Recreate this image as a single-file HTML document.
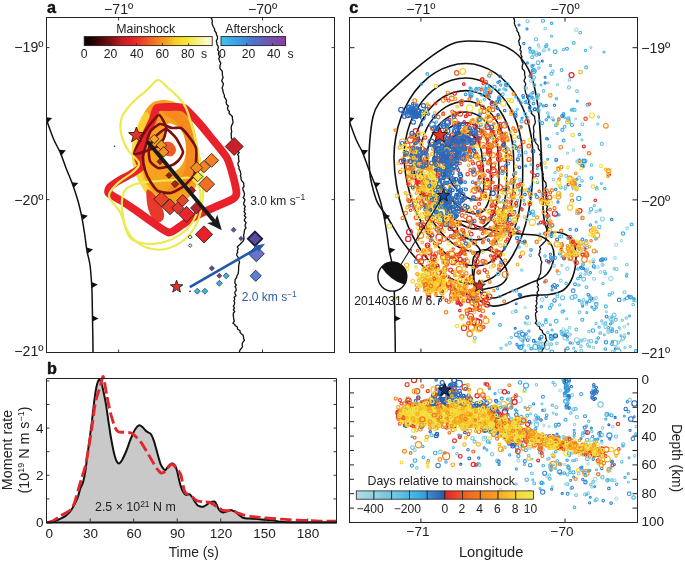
<!DOCTYPE html>
<html lang="en"><head><meta charset="utf-8"><title>Rupture process and aftershocks</title>
<style>html,body{margin:0;padding:0;background:#fff}body{width:685px;height:561px;overflow:hidden}svg{display:block}text{font-family:"Liberation Sans",Arial,Helvetica,sans-serif}</style></head><body>
<svg width="685" height="561" viewBox="0 0 685 561">
<defs>
<clipPath id="ca"><rect x="46.5" y="17.5" width="288" height="335"/></clipPath>
<clipPath id="cb"><rect x="46.5" y="374.5" width="290" height="149"/></clipPath>
<clipPath id="cc"><rect x="349.5" y="17.5" width="288" height="335"/></clipPath>
<clipPath id="cd"><rect x="349.5" y="378.5" width="288" height="144"/></clipPath>
<linearGradient id="hot" x1="0" x2="1" y1="0" y2="0"><stop offset="0" stop-color="#050000"/><stop offset="0.08" stop-color="#2a0303"/><stop offset="0.2" stop-color="#7a1012"/><stop offset="0.3" stop-color="#c81c22"/><stop offset="0.38" stop-color="#e5222a"/><stop offset="0.47" stop-color="#ee4a26"/><stop offset="0.56" stop-color="#f47b20"/><stop offset="0.64" stop-color="#f7a11f"/><stop offset="0.72" stop-color="#f5d22c"/><stop offset="0.8" stop-color="#f4e832"/><stop offset="0.88" stop-color="#f6f07a"/><stop offset="1" stop-color="#fffde0"/></linearGradient>
<linearGradient id="cool" x1="0" x2="1" y1="0" y2="0"><stop offset="0" stop-color="#3cc4f2"/><stop offset="0.25" stop-color="#3aa0e6"/><stop offset="0.5" stop-color="#4f74cc"/><stop offset="0.75" stop-color="#6f55b4"/><stop offset="1" stop-color="#8e3f9d"/></linearGradient>
</defs>
<rect x="0" y="0" width="685" height="561" fill="#fff"/>
<g id="panel-a">
<g clip-path="url(#ca)">
<path d="M152 103C155.7 100.5 160.5 99.8 165 100C169.5 100.2 175.2 102 179 104C182.8 106 185.5 108 188 112C190.5 116 192.3 122 194 128C195.7 134 197.2 141.3 198 148C198.8 154.7 199.3 161.7 199 168C198.7 174.3 197.8 181 196 186C194.2 191 191.5 195.2 188 198C184.5 200.8 179.7 202.7 175 203C170.3 203.3 164.5 202.2 160 200C155.5 197.8 151.2 194.2 148 190C144.8 185.8 142.5 180 141 175C139.5 170 139.8 164.5 139 160C138.2 155.5 136.2 153 136 148C135.8 143 136.8 135.5 138 130C139.2 124.5 140.7 119.5 143 115C145.3 110.5 148.3 105.5 152 103Z" fill="#f7a21e"/>
<path d="M139 122C141.2 117.3 144.2 112.3 146 112C147.8 111.7 150.3 115.3 150 120C149.7 124.7 145.5 133.3 144 140C142.5 146.7 140.7 153 141 160C141.3 167 143.2 175.7 146 182C148.8 188.3 157.3 195.3 158 198C158.7 200.7 153.3 201 150 198C146.7 195 141 186.3 138 180C135 173.7 132.8 166.7 132 160C131.2 153.3 131.8 146.3 133 140C134.2 133.7 136.8 126.7 139 122Z" fill="#f8d532" opacity="0.9"/>
<path d="M160 106C162 105 171.3 105.7 176 108C180.7 110.3 185 114.7 188 120C191 125.3 192.7 133 194 140C195.3 147 196.7 155 196 162C195.3 169 193.3 176.7 190 182C186.7 187.3 179.7 192.7 176 194C172.3 195.3 167 193 168 190C169 187 179 181.3 182 176C185 170.7 185.7 164.3 186 158C186.3 151.7 185.7 144 184 138C182.3 132 179.3 126 176 122C172.7 118 166.7 116.7 164 114C161.3 111.3 158 107 160 106Z" fill="#f58a1f"/>
<path d="M168 124C170.3 122.5 175.3 125 178 127C180.7 129 182.7 132.2 184 136C185.3 139.8 186.2 145.5 186 150C185.8 154.5 184.8 159.5 183 163C181.2 166.5 177.7 170.2 175 171C172.3 171.8 169 170.8 167 168C165 165.2 163.5 159.3 163 154C162.5 148.7 163.2 141 164 136C164.8 131 165.7 125.5 168 124Z" fill="#fffdf6"/>
<path d="M164 143C165.3 141.2 170 141.8 172 143C174 144.2 176 147.8 176 150C176 152.2 174 155.3 172 156C170 156.7 165.3 156.2 164 154C162.7 151.8 162.7 144.8 164 143Z" fill="#ef5a2a"/>
<path d="M147 190C148.2 188.5 151.8 191.8 154 194C156.2 196.2 158.3 199.7 160 203C161.7 206.3 163.7 211 164 214C164.3 217 163.5 219.7 162 221C160.5 222.3 157 223.2 155 222C153 220.8 151.3 217.2 150 214C148.7 210.8 147.5 207 147 203C146.5 199 145.8 191.5 147 190Z" fill="#e8392b"/>
<path d="M157 108C159 106.6 166.8 107 170 107C173.2 107 180.6 106.1 184 108C187.4 109.9 195.6 119.3 199 123C202.4 126.7 209.7 135.9 213 140C216.3 144.1 224.7 153.8 227 158C229.3 162.2 231.9 171.9 233 176C234.1 180.1 236.5 190.3 236.5 193C236.5 195.7 235.5 197.4 233 199C230.5 200.6 219.3 205 215 207C210.7 209 199.8 213.9 196 216C192.2 218.1 185.2 223.1 182 225C178.8 226.9 172.5 232.8 169 232.5C165.5 232.2 155.8 224.6 152 222C148.2 219.4 139.7 213.1 136 210.5C132.3 207.9 123.2 202 120 200C116.8 198 109.7 194.5 108.5 193C107.3 191.5 108.8 188.5 110 187C111.2 185.5 116.5 182 119 180.5C121.5 179 128.4 175.6 131 174C133.6 172.4 140.2 168.9 141 167C141.8 165.1 138 160.2 138 158C138 155.8 139.9 151 141 148C142.1 145 145.6 135.4 147 132C148.4 128.6 151.8 121.8 153 119C154.2 116.2 155 109.4 157 108Z" fill="none" stroke="#e8212b" stroke-width="7.8" stroke-linejoin="round"/>
<path d="M158 80C161.5 79.7 164.7 85.2 168 88C171.3 90.8 175 93.7 178 97C181 100.3 183.5 102.5 186 108C188.5 113.5 190.8 122.2 193 130C195.2 137.8 197.3 146.7 199 155C200.7 163.3 202.5 171.7 203 180C203.5 188.3 203.2 197.5 202 205C200.8 212.5 199 219.2 196 225C193 230.8 189 236 184 240C179 244 172 247.7 166 249C160 250.3 153.5 249.7 148 248C142.5 246.3 136.7 242.3 133 239C129.3 235.7 128.2 232.5 126 228C123.8 223.5 122.8 217.3 120 212C117.2 206.7 109.3 200.8 109 196C108.7 191.2 114 187 118 183C122 179 129.5 175.3 133 172C136.5 168.7 139.8 166.7 139 163C138.2 159.3 131 155 128 150C125 145 122 138.5 121 133C120 127.5 120 122.2 122 117C124 111.8 128.8 106.5 133 102C137.2 97.5 142.8 93.7 147 90C151.2 86.3 154.5 80.3 158 80Z" fill="none" stroke="#ecea4e" stroke-width="2.2"/>
<path d="M158 181C152.3 181.5 145.3 181.7 140 183C134.7 184.3 129 186.2 126 189C123 191.8 122.5 195.5 122 200C121.5 204.5 122.2 210.7 123 216C123.8 221.3 125.3 228 127 232C128.7 236 129.2 238 133 240C136.8 242 143.8 244 150 244C156.2 244 163.7 242.7 170 240C176.3 237.3 183.3 233 188 228C192.7 223 196 216.3 198 210C200 203.7 201.3 195.3 200 190C198.7 184.7 194.3 179.7 190 178C185.7 176.3 179.3 179.5 174 180C168.7 180.5 163.7 180.5 158 181Z" fill="none" stroke="#ecea4e" stroke-width="2.2"/>
<path d="M134 154C133.4 152.9 138.6 142.7 140 140C141.4 137.3 146.1 129.5 148 127C149.9 124.5 157.2 115 159 115C160.8 115 165.5 124.7 166 127C166.5 129.3 164.8 136.1 164 138C163.2 139.9 159.8 144.7 158 146C156.2 147.3 148.4 150.2 146 151C143.6 151.8 134.6 155.1 134 154Z" fill="none" stroke="#7a0e10" stroke-width="2.6" stroke-linejoin="round"/>
<path d="M146 145C146.7 142.5 148.6 134.1 150 132C151.4 129.9 157.8 124.4 160 124C162.2 123.6 169.9 127.6 172 128C174.1 128.4 179.2 127 181 128C182.8 129 188.5 136 190 138C191.5 140 195.4 145.6 196 148C196.6 150.4 196.2 159.3 196 162C195.8 164.7 195.2 172.6 194 175C192.8 177.4 186.3 184.2 184 186C181.7 187.8 173.6 192.5 171 193C168.4 193.5 160.1 192.2 158 191C155.9 189.8 151.3 183.1 150 181C148.7 178.9 145.7 172.4 145 170C144.3 167.6 142.9 159.5 143 157C143.1 154.5 145.3 147.5 146 145Z" fill="none" stroke="#7a0e10" stroke-width="2.6" stroke-linejoin="round"/>
<path d="M149 148C149.6 145.5 154.3 137.9 156 136C157.7 134.1 164 128.8 166 129C168 129.2 174.3 135.7 176 138C177.7 140.3 182.8 149.7 183 152C183.2 154.3 179.3 159.6 178 161C176.7 162.4 172 165.3 170 166C168 166.7 160 168.5 158 168C156 167.5 150.9 163 150 161C149.1 159 148.4 150.5 149 148Z" fill="none" stroke="#7a0e10" stroke-width="2.6" stroke-linejoin="round"/>
<path d="M211 17.5L211.9 19.1L212.3 21.2L212 23.1L212.6 25L213.3 26.7L214.6 29L214.6 30.6L216.3 33L216.4 34.7L217.5 36.6L217.5 38.8L216.3 40.8L216.9 43L217 44.6L218.2 46.3L218.3 47.9L217.6 49.8L219 51.7L218.4 53.5L218.8 55L219.7 57L218.7 58.6L219.4 60.5L220 61.9L220.8 63.4L220 65.5L219.9 67L220 68.8L221.8 70.4L222.4 71.9L222.3 73.8L222.5 75.4L223.1 77.5L222.4 79.1L221.7 80.9L223 82.9L223.4 84.3L222.7 86.3L222 88L222.8 89.6L223 91.7L223.5 93.2L224.5 95.4L224.3 96.9L225.7 98.9L226.6 100.7L226.1 102.3L226.7 104.5L228.4 106L227.4 107.9L228 110L229.4 111.5L229 113.2L230.5 114.8L232.4 116.5L232.3 118.1L232.6 119.4L233 121.6L232.9 123.3L231.9 124.8L231.3 126.7L231.2 128L231.4 129.8L231.7 131.7L231.1 133.8L231.4 135.9L231.3 138.2L232.5 139.8L232.7 141.7L233.9 143.3L235.8 145.5L235.9 147L236 148.6L237.4 150.6L239.3 152.4L237.6 154.6L238.6 155.9L238.6 157.5L238.6 159.8L239.2 161.4L238 162.9L238.1 165.1L239.1 167L238.9 168.7L240.2 171.1L240.5 172.9L241 174.5L240.3 176L241.1 177.4L241 179.2L242 181.1L243.6 182.8L243.8 184.9L244.1 186.3L242.8 188L243 189.8L243.9 192.1L244.5 193.7L244.2 195.8L243.1 197.5L244.8 199.5L244.6 201.1L243.6 203.2L244 205L245.3 206.5L244.3 208.6L245 209.9L244 211.6L245.6 213.8L244.2 215.6L245.9 217.3L244.7 219L244.3 220.5L246.1 222.7L245.2 224.7L245.1 226.4L246 227.8L244.6 229.7L244.3 231.6L244.1 233.3L243.6 235.4L243.8 236.9L244 239L243.4 240.8L242.5 241.8L241.4 242.8L240.1 244.2L238.1 245.9L237.3 247L238.3 248.8L237.4 250.5L237.7 252.3L236.7 253.9L236.8 255.5L238.3 257.7L238.4 260L239.6 262L239 264L238.7 266.1L238.6 268L238.6 270.3L238.3 272.2L238.2 273.7L236.8 276L236.7 277.5L235.2 279.4L235 281.1L234.9 283.1L236.3 285L235 286.6L235.9 288L236.3 290.3L234.8 292.1L235 293.6L236 295.7L234.1 297.3L234.7 299L233.9 300.9L234.7 302.5L234.4 304.5L233.3 306.1L234.5 307.9L233.4 309.9L234.8 311.6L233.4 312.9L233.2 315.2L233.5 316.8L233.7 319.2L234.4 320.9L232.9 323.3L234.9 324.5L235 325.4L237.4 327L237.5 329L240.1 330.7L240 332.2L241.1 333.7L242.9 334.9L243.6 337.1L243.5 338.4L244.5 340.3L243 341.9L242.3 343.6L242.2 345.3L242.5 346.9L241.1 348.6L239.9 350.2L239.3 352.3" fill="none" stroke="#111" stroke-width="1.3" stroke-linejoin="round"/>
<path d="M154.2 134.4L158.8 139L154.2 143.6L149.6 139Z" fill="#f7a823" stroke="#1a1a1a" stroke-width="0.8"/>
<path d="M161.4 140L166.6 145.2L161.4 150.4L156.2 145.2Z" fill="#f7941d" stroke="#1a1a1a" stroke-width="0.8"/>
<path d="M163.6 146.7L168.8 151.9L163.6 157.1L158.4 151.9Z" fill="#f7941d" stroke="#1a1a1a" stroke-width="0.8"/>
<path d="M160 158.6L163 161.6L160 164.6L157 161.6Z" fill="#a3191c" stroke="#1a1a1a" stroke-width="0.8"/>
<path d="M169 172.4L172 175.4L169 178.4L166 175.4Z" fill="#a3191c" stroke="#1a1a1a" stroke-width="0.8"/>
<path d="M175 180.4L178.6 184L175 187.6L171.4 184Z" fill="#b01c20" stroke="#1a1a1a" stroke-width="0.8"/>
<path d="M191.5 186.3L195.7 190.5L191.5 194.7L187.3 190.5Z" fill="#b01c20" stroke="#1a1a1a" stroke-width="0.8"/>
<path d="M211.6 153.3L218.6 160.3L211.6 167.3L204.6 160.3Z" fill="#f47f20" stroke="#1a1a1a" stroke-width="0.8"/>
<path d="M204 160.4L210.2 166.6L204 172.8L197.8 166.6Z" fill="#f58220" stroke="#1a1a1a" stroke-width="0.8"/>
<path d="M196.6 161.8L202.6 167.8L196.6 173.8L190.6 167.8Z" fill="#f58a1f" stroke="#1a1a1a" stroke-width="0.8"/>
<path d="M206.6 176.2L214.6 184.2L206.6 192.2L198.6 184.2Z" fill="#f26f21" stroke="#1a1a1a" stroke-width="0.8"/>
<path d="M197.8 171.6L202.8 176.6L197.8 181.6L192.8 176.6Z" fill="#f7e03c" stroke="#1a1a1a" stroke-width="0.8"/>
<path d="M161.4 191.7L168.9 199.2L161.4 206.7L153.9 199.2Z" fill="#e8432a" stroke="#1a1a1a" stroke-width="0.8"/>
<path d="M170 198.8L178 206.8L170 214.8L162 206.8Z" fill="#e63a28" stroke="#1a1a1a" stroke-width="0.8"/>
<path d="M182.7 194.5L188.7 200.5L182.7 206.5L176.7 200.5Z" fill="#e8432a" stroke="#1a1a1a" stroke-width="0.8"/>
<path d="M177.7 202L183.7 208L177.7 214L171.7 208Z" fill="#e63628" stroke="#1a1a1a" stroke-width="0.8"/>
<path d="M186.5 206.3L194.5 214.3L186.5 222.3L178.5 214.3Z" fill="#e6252a" stroke="#1a1a1a" stroke-width="0.8"/>
<path d="M196.5 202L202.5 208L196.5 214L190.5 208Z" fill="#b5202a" stroke="#1a1a1a" stroke-width="0.8"/>
<path d="M204 225.8L212.6 234.4L204 243L195.4 234.4Z" fill="#e8202a" stroke="#1a1a1a" stroke-width="0.8"/>
<path d="M234.2 137.5L243.2 146.5L234.2 155.5L225.2 146.5Z" fill="#c8202a" stroke="#1a1a1a" stroke-width="0.8"/>
<path d="M190.2 235L192.2 237L190.2 239L188.2 237Z" fill="#fff" stroke="#222" stroke-width="0.9"/>
<path d="M190.2 243.7L192 245.5L190.2 247.3L188.4 245.5Z" fill="#fff" stroke="#222" stroke-width="0.9"/>
<path d="M255 231.6L262.2 238.8L255 246L247.8 238.8Z" fill="#5a4a9c" stroke="#1c1c3a" stroke-width="1.8"/>
<path d="M256.3 245.8L264.3 253.8L256.3 261.8L248.3 253.8Z" fill="#6a72c8" stroke="#1c1c3a" stroke-width="0.8"/>
<path d="M255.7 270.2L261.3 275.8L255.7 281.4L250.1 275.8Z" fill="#5a80d0" stroke="#1c1c3a" stroke-width="0.8"/>
<path d="M233.6 227.3L236.1 229.8L233.6 232.3L231.1 229.8Z" fill="#5a5aa8" stroke="#1c1c3a" stroke-width="0.6"/>
<path d="M241 236.3L243.2 238.5L241 240.7L238.8 238.5Z" fill="#6a4a90" stroke="#1c1c3a" stroke-width="0.6"/>
<path d="M211.8 265.7L214.4 268.3L211.8 270.9L209.2 268.3Z" fill="#6a4a90" stroke="#1c1c3a" stroke-width="0.6"/>
<path d="M219.3 273.3L221.8 275.8L219.3 278.3L216.8 275.8Z" fill="#6a4a90" stroke="#1c1c3a" stroke-width="0.6"/>
<path d="M226.2 272.8L229.2 275.8L226.2 278.8L223.2 275.8Z" fill="#3ab0d8" stroke="#1c1c3a" stroke-width="0.6"/>
<path d="M219.3 280.3L222.3 283.3L219.3 286.3L216.3 283.3Z" fill="#3ab0d8" stroke="#1c1c3a" stroke-width="0.6"/>
<path d="M197.3 288.2L200.3 291.2L197.3 294.2L194.3 291.2Z" fill="#3ab8d8" stroke="#1c1c3a" stroke-width="0.6"/>
<path d="M204.9 288.2L207.9 291.2L204.9 294.2L201.9 291.2Z" fill="#3ab8d8" stroke="#1c1c3a" stroke-width="0.6"/>
<circle cx="190" cy="291.4" r="0.8" fill="#111"/><circle cx="114.5" cy="146.3" r="0.7" fill="#111"/>
</g>
<g clip-path="url(#ca)"><path d="M46.5 120C47.8 123.3 51.7 134.6 54 140C56.3 145.4 58.3 147.9 60.3 152.6C62.3 157.3 63.9 162.6 66 168C68.1 173.4 70.9 179.7 72.9 185.2C74.9 190.7 76.5 195.8 78 201C79.5 206.2 80.6 211.3 81.7 216.6C82.8 221.9 83.6 227.3 84.5 233C85.4 238.7 86 245.2 86.9 250.5C87.8 255.8 89.2 259.2 90 265C90.8 270.8 91.3 279.2 91.7 285C92.1 290.8 92.1 294.5 92.2 300C92.3 305.5 92.4 312.2 92.5 318C92.6 323.8 92.7 329.3 92.8 335C92.9 340.7 93 349.4 93 352.3" fill="none" stroke="#111" stroke-width="1.5"/><path d="M45.4 117.2L47.6 122.8L52.1 117.9Z" fill="#111"/><path d="M59.1 149.8L61.5 155.4L65.8 150.2Z" fill="#111"/><path d="M71.7 182.2L73.7 187.8L78.3 182.9Z" fill="#111"/><path d="M81.4 214.1L82.6 219.9L87.9 215.8Z" fill="#111"/><path d="M86.7 247.5L87.7 253.5L93.1 249.5Z" fill="#111"/><path d="M91.6 282L92 288L97.8 284.6Z" fill="#111"/><path d="M92.4 315.5L92.6 321.5L98.5 318.4Z" fill="#111"/></g>
<path d="M147.5 141.5L214.6 221.7" stroke="#1a1a1a" stroke-width="3.8" fill="none"/><path d="M221.8 230.3L207.1 223L214.6 221.7L217.2 214.6Z" fill="#1a1a1a"/>
<path d="M189.8 287.1L257.7 248" stroke="#1f5aa8" stroke-width="2.6" fill="none"/><path d="M265.1 243.8L258.2 251.9L257.7 248L254.6 245.7Z" fill="#1f5aa8"/>
<path d="M136.4 127L138.4 132.4L144.2 132.7L139.7 136.3L141.2 141.8L136.4 138.6L131.6 141.8L133.1 136.3L128.6 132.7L134.4 132.4Z" fill="#e5332b" stroke="#3a0a0a" stroke-width="0.9"/>
<path d="M176.6 280.2L178.2 284.6L182.9 284.8L179.2 287.7L180.5 292.1L176.6 289.6L172.7 292.1L174 287.7L170.3 284.8L175 284.6Z" fill="#e0302a" stroke="#222" stroke-width="0.9"/>
<rect x="84.2" y="36.6" width="128" height="9" fill="url(#hot)" stroke="#222" stroke-width="0.9"/>
<path d="M110.3 45.6v-2.4" stroke="#222" stroke-width="0.8"/>
<path d="M136.4 45.6v-2.4" stroke="#222" stroke-width="0.8"/>
<path d="M162.5 45.6v-2.4" stroke="#222" stroke-width="0.8"/>
<path d="M188.6 45.6v-2.4" stroke="#222" stroke-width="0.8"/>
<rect x="221" y="36.6" width="64.6" height="9" fill="url(#cool)" stroke="#222" stroke-width="0.9"/>
<path d="M246.8 45.6v-2.4" stroke="#222" stroke-width="0.8"/>
<path d="M272.7 45.6v-2.4" stroke="#222" stroke-width="0.8"/>
<text x="145.7" y="32.7" font-size="12.3" text-anchor="middle" fill="#222" >Mainshock</text>
<text x="254.3" y="32.7" font-size="12.3" text-anchor="middle" fill="#222" >Aftershock</text>
<text x="84.2" y="57.5" font-size="12.2" text-anchor="middle" fill="#222" >0</text>
<text x="110.6" y="57.5" font-size="12.2" text-anchor="middle" fill="#222" >20</text>
<text x="136.8" y="57.5" font-size="12.2" text-anchor="middle" fill="#222" >40</text>
<text x="162.3" y="57.5" font-size="12.2" text-anchor="middle" fill="#222" >60</text>
<text x="187.8" y="57.5" font-size="12.2" text-anchor="middle" fill="#222" >80</text>
<text x="204" y="57.5" font-size="12.2" text-anchor="middle" fill="#222" >s</text>
<text x="222.3" y="57.5" font-size="12.2" text-anchor="middle" fill="#222" >0</text>
<text x="248.6" y="57.5" font-size="12.2" text-anchor="middle" fill="#222" >20</text>
<text x="273.8" y="57.5" font-size="12.2" text-anchor="middle" fill="#222" >40</text>
<text x="290.6" y="57.5" font-size="12.2" text-anchor="middle" fill="#222" >s</text>
<text x="250.3" y="204.8" font-size="12" fill="#222">3.0 km s<tspan dy="-4.5" font-size="8.5">−1</tspan></text>
<text x="241.8" y="301" font-size="12" fill="#2a5caa">2.0 km s<tspan dy="-4.5" font-size="8.5">−1</tspan></text>
<rect x="46.5" y="17.5" width="288" height="335" fill="none" stroke="#222" stroke-width="1"/>
<path d="M118.6 17.5v3M118.6 352.5v-3M262.5 17.5v3M262.5 352.5v-3M46.5 47.6h3M334.5 47.6h-3M46.5 199.6h3M334.5 199.6h-3" stroke="#222" stroke-width="0.9" fill="none"/>
<text x="47" y="13" font-size="16.2" text-anchor="start" fill="#111" font-weight="bold" stroke="#111" stroke-width="0.45">a</text>
<text x="118.6" y="13.5" font-size="14.1" text-anchor="middle" fill="#222" >−71º</text>
<text x="262.5" y="13.5" font-size="14.1" text-anchor="middle" fill="#222" >−70º</text>
<text x="43.4" y="52.2" font-size="14.1" text-anchor="end" fill="#222" >−19º</text>
<text x="43.4" y="204.6" font-size="14.1" text-anchor="end" fill="#222" >−20º</text>
<text x="43.4" y="356.2" font-size="14.1" text-anchor="end" fill="#222" >−21º</text>
</g>
<g id="panel-b">
<g clip-path="url(#cb)">
<path d="M46.7 522.5C47.3 522.5 50.1 522.7 51.1 522.5C52 522.3 52.8 521.8 54 521.3C55.1 520.8 58.2 519.7 59.8 519C61.3 518.3 63.9 517.1 65.3 516.1C66.6 515.2 68.9 513 69.9 511.9C70.9 510.7 71.8 509.1 72.8 507.4C73.8 505.7 76.1 501.4 77.2 498.9C78.2 496.4 79.6 490.7 80.3 488.5C81.1 486.3 82.3 484.7 83 482.4C83.6 480.1 84.9 474 85.4 471.1C85.9 468.1 86.2 464.6 86.7 460.4C87.3 456.3 88.8 444.8 89.5 439.9C90.1 435 91.1 427.9 91.7 423.4C92.2 418.8 93.2 409.8 93.7 405.7C94.2 401.6 94.9 395.8 95.4 392.7C95.9 389.6 96.9 384.5 97.5 382.8C98 381.1 98.7 379.8 99.2 379.7C99.7 379.6 100.5 380.7 101.1 382.1C101.6 383.5 102.6 387.2 103.2 390.3C103.9 393.5 105.4 401 106.2 405.7C106.9 410.4 108.3 420.7 109.1 425.7C109.8 430.8 111.1 439 112 443.4C112.8 447.8 114.7 456.1 115.6 458.8C116.5 461.5 117.8 463.3 118.6 463.5C119.5 463.7 121.1 461.7 122.1 460C123.1 458.2 125.3 453.4 126.5 450.5C127.6 447.7 129.6 441.6 130.8 438.7C132 435.9 134 431.1 135.2 429.3C136.3 427.5 138.2 425.6 139.2 425.3C140.2 425 141.4 426.1 142.4 426.9C143.4 427.8 145.6 430.7 146.8 431.6C147.9 432.6 149.8 432.7 150.8 434C151.8 435.3 153.1 438.4 154 441.1C154.9 443.8 156.7 450.9 157.6 454.1C158.5 457.2 160 462.7 160.8 464.7C161.6 466.6 162.8 468 163.4 468.7C164.1 469.4 164.9 470.5 165.6 470.1C166.3 469.7 167.6 466.7 168.5 465.9C169.4 465 171.1 463.6 172 463.5C172.8 463.4 174.2 464.4 174.9 465.4C175.6 466.4 176.5 468.9 177.1 471.1C177.7 473.2 178.7 478.7 179.4 481.2C180 483.7 181.3 488 182 489.7C182.7 491.4 183.8 493 184.4 493.7C185.1 494.4 185.9 494.8 186.6 494.9C187.3 495 188.8 493.8 189.5 494.2C190.3 494.6 191.4 496.3 192.4 497.7C193.4 499.1 196 503.6 197.1 504.8C198.1 506 199.6 506.2 200.4 506.5C201.2 506.7 202.4 506.9 203.3 506.7C204.2 506.4 206.1 505.1 206.9 504.6C207.8 504 208.6 502.8 209.7 502.4C210.7 502.1 213.8 501.4 214.8 501.7C215.7 502.1 216.3 504.1 216.8 505C217.3 506 218 508 218.5 508.8C219 509.7 220 510.9 220.7 511.4C221.4 511.9 222.7 512.4 223.6 512.4C224.5 512.3 226.3 511.5 227.2 511.2C228.2 510.9 230 510 230.9 510C231.7 510 233.1 510.9 233.8 511.2C234.4 511.5 235.3 511.8 236.1 512.4C236.8 512.9 238.7 514.7 239.6 515.4C240.4 516.1 241.5 517.1 242.4 517.5C243.4 518 245.5 518.3 246.8 518.5C248.1 518.6 250.5 518.6 252.5 518.7C254.4 518.8 258.6 519.2 261.3 519.4C264 519.6 270 519.8 272.5 520.1C275 520.5 277.4 521.5 280.1 521.8C282.9 522.1 285.7 522.4 293.2 522.5C300.7 522.6 330.9 522.5 336.7 522.5L336.7 522.5L46.7 522.5Z" fill="#c9c9c9"/>
<path d="M46.7 522.5C47.3 522.5 50.1 522.7 51.1 522.5C52 522.3 52.8 521.8 54 521.3C55.1 520.8 58.2 519.7 59.8 519C61.3 518.3 63.9 517.1 65.3 516.1C66.6 515.2 68.9 513 69.9 511.9C70.9 510.7 71.8 509.1 72.8 507.4C73.8 505.7 76.1 501.4 77.2 498.9C78.2 496.4 79.6 490.7 80.3 488.5C81.1 486.3 82.3 484.7 83 482.4C83.6 480.1 84.9 474 85.4 471.1C85.9 468.1 86.2 464.6 86.7 460.4C87.3 456.3 88.8 444.8 89.5 439.9C90.1 435 91.1 427.9 91.7 423.4C92.2 418.8 93.2 409.8 93.7 405.7C94.2 401.6 94.9 395.8 95.4 392.7C95.9 389.6 96.9 384.5 97.5 382.8C98 381.1 98.7 379.8 99.2 379.7C99.7 379.6 100.5 380.7 101.1 382.1C101.6 383.5 102.6 387.2 103.2 390.3C103.9 393.5 105.4 401 106.2 405.7C106.9 410.4 108.3 420.7 109.1 425.7C109.8 430.8 111.1 439 112 443.4C112.8 447.8 114.7 456.1 115.6 458.8C116.5 461.5 117.8 463.3 118.6 463.5C119.5 463.7 121.1 461.7 122.1 460C123.1 458.2 125.3 453.4 126.5 450.5C127.6 447.7 129.6 441.6 130.8 438.7C132 435.9 134 431.1 135.2 429.3C136.3 427.5 138.2 425.6 139.2 425.3C140.2 425 141.4 426.1 142.4 426.9C143.4 427.8 145.6 430.7 146.8 431.6C147.9 432.6 149.8 432.7 150.8 434C151.8 435.3 153.1 438.4 154 441.1C154.9 443.8 156.7 450.9 157.6 454.1C158.5 457.2 160 462.7 160.8 464.7C161.6 466.6 162.8 468 163.4 468.7C164.1 469.4 164.9 470.5 165.6 470.1C166.3 469.7 167.6 466.7 168.5 465.9C169.4 465 171.1 463.6 172 463.5C172.8 463.4 174.2 464.4 174.9 465.4C175.6 466.4 176.5 468.9 177.1 471.1C177.7 473.2 178.7 478.7 179.4 481.2C180 483.7 181.3 488 182 489.7C182.7 491.4 183.8 493 184.4 493.7C185.1 494.4 185.9 494.8 186.6 494.9C187.3 495 188.8 493.8 189.5 494.2C190.3 494.6 191.4 496.3 192.4 497.7C193.4 499.1 196 503.6 197.1 504.8C198.1 506 199.6 506.2 200.4 506.5C201.2 506.7 202.4 506.9 203.3 506.7C204.2 506.4 206.1 505.1 206.9 504.6C207.8 504 208.6 502.8 209.7 502.4C210.7 502.1 213.8 501.4 214.8 501.7C215.7 502.1 216.3 504.1 216.8 505C217.3 506 218 508 218.5 508.8C219 509.7 220 510.9 220.7 511.4C221.4 511.9 222.7 512.4 223.6 512.4C224.5 512.3 226.3 511.5 227.2 511.2C228.2 510.9 230 510 230.9 510C231.7 510 233.1 510.9 233.8 511.2C234.4 511.5 235.3 511.8 236.1 512.4C236.8 512.9 238.7 514.7 239.6 515.4C240.4 516.1 241.5 517.1 242.4 517.5C243.4 518 245.5 518.3 246.8 518.5C248.1 518.6 250.5 518.6 252.5 518.7C254.4 518.8 258.6 519.2 261.3 519.4C264 519.6 270 519.8 272.5 520.1C275 520.5 277.4 521.5 280.1 521.8C282.9 522.1 285.7 522.4 293.2 522.5C300.7 522.6 330.9 522.5 336.7 522.5" fill="none" stroke="#111" stroke-width="2" stroke-linejoin="round"/>
<path d="M47.4 522.5C48.1 522.3 50.8 521.9 52.5 521.1C54.2 520.2 58.6 517.2 60.3 516.1C62.1 515.1 64 514 65.5 513.1C67.1 512.1 70.4 510.4 71.6 508.8C72.9 507.2 74.1 503.6 75 501.3C75.8 498.9 77 494.1 77.9 491.1C78.7 488.1 80.5 482.2 81.5 478.8C82.5 475.5 84.4 470.1 85.4 465.9C86.4 461.6 87.9 452 88.8 447C89.6 442 90.8 434.5 91.7 428.6C92.5 422.7 94.5 407.4 95.4 402.6C96.3 397.8 97.5 395 98.2 392.7C98.9 390.4 99.9 387.8 100.5 385.6C101.1 383.4 102.4 376.7 103 376.4C103.5 376.1 104.2 380.8 104.7 383.3C105.2 385.7 106.1 391.9 106.7 395.1C107.3 398.2 108.4 403.8 109.1 406.9C109.7 409.9 111 415 111.8 417.7C112.6 420.4 114 425.1 114.8 426.9C115.7 428.8 116.9 430.9 118 431.6C119.2 432.4 121.9 432.2 123.5 432.3C125.2 432.5 129.3 432.5 130.7 432.8C132 433.1 132.9 434 133.7 434.7C134.5 435.4 135.9 436.8 136.9 437.8C137.9 438.8 139.9 440.9 140.9 442.3C142 443.6 143.4 446 144.4 447.7C145.5 449.4 147.7 453.2 148.9 455.2C150.1 457.3 152.2 461 153.3 462.8C154.3 464.6 155.9 467.3 156.9 468.7C157.9 470 159.9 472.4 160.8 472.9C161.7 473.4 162.8 472.8 163.4 472.5C164.1 472.2 165 471.4 165.7 470.6C166.5 469.8 168.4 467.2 169.2 466.3C170.1 465.5 171.3 464 172 464C172.7 463.9 173.7 465 174.4 465.9C175.2 466.7 177.1 468.9 177.9 470.1C178.8 471.3 180.1 472.9 180.8 474.8C181.5 476.8 182.5 482.6 183 484.7C183.5 486.9 184 489.9 184.4 491.1C184.9 492.3 185.9 493.2 186.6 493.7C187.3 494.2 188.7 494.4 189.5 494.9C190.4 495.4 192.1 496.9 193.1 497.7C194.2 498.5 195.7 500.2 197.1 500.8C198.4 501.4 201.6 501.7 203.3 502C205 502.2 207.9 501.8 209.7 502.4C211.4 503 214.7 505.4 216.4 506.5C218 507.5 220.8 509.4 222.1 510C223.5 510.6 225.1 510.6 226.5 510.7C227.9 510.8 230.8 510.4 232.3 510.7C233.8 511 236.7 512.5 238.1 513.1C239.5 513.6 240.7 514.3 242.4 514.7C244.2 515.2 248.8 516 251.1 516.4C253.5 516.7 257.1 517.3 259.9 517.5C262.6 517.8 268.1 518.2 271.4 518.5C274.8 518.7 281.6 519.2 285.1 519.4C288.6 519.7 294.2 520 297.6 520.1C300.9 520.3 306.9 520.5 310.2 520.6C313.5 520.7 318.7 521 322.2 521.1C325.7 521.2 334.8 521.3 336.7 521.3" fill="none" stroke="#e0272e" stroke-width="2.9" stroke-dasharray="11.5 4" stroke-linejoin="round"/>
</g>
<path d="M46.5 522.5V378.5H336.5V522.5" fill="none" stroke="#222" stroke-width="1"/>
<path d="M46 522.5H337" stroke="#111" stroke-width="2"/>
<path d="M90.2 521.5v-3M133.7 521.5v-3M177.2 521.5v-3M220.7 521.5v-3M264.2 521.5v-3M307.7 521.5v-3M46.5 498.9h3M336.5 498.9h-3M46.5 475.3h3M336.5 475.3h-3M46.5 451.7h3M336.5 451.7h-3M46.5 428.1h3M336.5 428.1h-3M46.5 404.5h3M336.5 404.5h-3M46.5 380.9h3M336.5 380.9h-3" stroke="#222" stroke-width="0.9" fill="none"/>
<text x="47" y="374" font-size="16.2" text-anchor="start" fill="#111" font-weight="bold" stroke="#111" stroke-width="0.45">b</text>
<text x="43.6" y="527.3" font-size="13.5" text-anchor="end" fill="#222" >0</text>
<text x="43.6" y="480.1" font-size="13.5" text-anchor="end" fill="#222" >2</text>
<text x="43.6" y="432.9" font-size="13.5" text-anchor="end" fill="#222" >4</text>
<text x="49.3" y="537.8" font-size="13.5" text-anchor="middle" fill="#222" >0</text>
<text x="90.5" y="537.8" font-size="13.5" text-anchor="middle" fill="#222" >30</text>
<text x="134" y="537.8" font-size="13.5" text-anchor="middle" fill="#222" >60</text>
<text x="177.5" y="537.8" font-size="13.5" text-anchor="middle" fill="#222" >90</text>
<text x="221" y="537.8" font-size="13.5" text-anchor="middle" fill="#222" >120</text>
<text x="264.5" y="537.8" font-size="13.5" text-anchor="middle" fill="#222" >150</text>
<text x="308" y="537.8" font-size="13.5" text-anchor="middle" fill="#222" >180</text>
<text x="193.7" y="557.3" font-size="13.8" text-anchor="middle" fill="#222" >Time (s)</text>
<text transform="translate(12.4 450) rotate(-90)" font-size="14.3" text-anchor="middle" fill="#222">Moment rate</text>
<text transform="translate(28.8 450) rotate(-90)" font-size="14.3" text-anchor="middle" fill="#222">(10<tspan dy="-4.5" font-size="9">19</tspan><tspan dy="4.5"> N m s</tspan><tspan dy="-4.5" font-size="9">−1</tspan><tspan dy="4.5">)</tspan></text>
<text x="95" y="511" font-size="12.4" fill="#222">2.5 × 10<tspan dy="-4.5" font-size="8.5">21</tspan><tspan dy="4.5"> N m</tspan></text>
</g>
<g id="panel-c">
<g clip-path="url(#cc)" fill="none" stroke="#111" stroke-width="1.6">
<path d="M469 41C461.6 41 458.4 41.3 452.4 43.7C446.4 46.1 439.6 50.5 432.8 55.3C426 60.1 417.9 66.8 411.4 72.3C404.9 77.8 399 83.2 393.6 88.3C388.2 93.3 382.7 97.8 379.3 102.6C375.9 107.3 374.6 109.7 373 116.8C371.4 123.9 370.1 136.1 369.5 145C368.9 153.9 369.1 163.3 369.5 170C369.9 176.7 370.7 179.6 372 185C373.3 190.4 374.9 197.3 377.5 202.6C380.1 207.9 383.7 211.3 387.3 217C390.9 222.7 395.3 230.9 399 236.6C402.7 242.3 404.9 245.3 409.6 251C414.3 256.6 421.5 265.2 427.4 270.5C433.3 275.8 439.2 279.4 445 283C450.8 286.6 456.2 289 462 292C467.8 295 474.7 298.5 479.7 300.8C484.7 303.1 487.8 305.4 492 306C496.2 306.6 500.5 305.5 504.7 304.3C508.9 303.1 512.5 300.5 517 299C521.5 297.5 526 296.1 531.4 295.4C536.8 294.6 543.9 295.4 549.2 294.5C554.6 293.6 559.6 292.8 563.5 290C567.4 287.2 570.3 282.9 572.4 277.6C574.5 272.3 576 264.2 576 258C576 251.8 574.8 244.4 572.4 240.2C570 236 565.8 234.6 561.7 233C557.6 231.4 551 233.5 548 230.5C545 227.5 544.3 221.4 543.5 215C542.7 208.6 543.2 200 543 192C542.8 184 542.5 177.3 542 167C541.5 156.7 540.7 140.5 540 130C539.3 119.5 539.1 113.2 537.6 104C536.1 94.8 534.3 83.2 531 75C527.7 66.8 523.7 60.2 518 55C512.3 49.8 505.2 45.8 497 43.5C488.8 41.2 476.4 41 469 41Z"/>
<path d="M466 63.5C471.2 63.5 476.1 64.3 480.9 65.9C485.8 67.4 490.6 69.8 495.1 72.9C499.5 75.9 503.9 79.7 507.8 84.1C511.7 88.5 515.3 93.6 518.4 99.1C521.5 104.6 524.2 110.7 526.4 117C528.5 123.3 530.2 130.1 531.3 137C532.4 143.8 532.9 149.8 533 158C533.1 166.2 532.9 176.9 532.2 186C531.4 195.1 530.1 204.2 528.4 212.7C526.6 221.1 524.3 229.3 521.6 236.6C518.9 243.9 515.7 250.7 512.1 256.5C508.6 262.3 504.5 267.5 500.3 271.5C496.1 275.6 491.4 278.8 486.7 280.8C482 282.9 477.2 284 472 284C466.8 284 461.1 282.9 455.8 280.8C450.5 278.8 445.1 275.6 440 271.5C434.9 267.5 430 262.3 425.5 256.5C421 250.7 416.7 243.9 413 236.6C409.2 229.3 405.9 221.1 403.2 212.7C400.4 204.2 398.2 195.1 396.7 186C395.1 176.9 394.1 166.2 394 158C393.9 149.8 394.6 143.8 395.8 137C397 130.1 398.8 123.3 401.1 117C403.4 110.7 406.4 104.6 409.7 99.1C413 93.6 416.9 88.5 421.1 84.1C425.3 79.7 429.9 75.9 434.8 72.9C439.6 69.8 444.8 67.4 450 65.9C455.2 64.3 460.8 63.5 466 63.5Z"/>
<path d="M466 78C470.4 78 474.5 78.7 478.6 80C482.7 81.3 486.7 83.3 490.5 85.9C494.3 88.5 498 91.8 501.2 95.5C504.5 99.2 507.6 103.5 510.2 108.1C512.8 112.8 515.1 117.9 516.9 123.3C518.7 128.6 520.2 134.4 521.1 140.2C522 146 522.3 151 522.5 158C522.7 165 522.9 174.2 522.5 182C522.1 189.8 521.4 197.6 520.3 204.9C519.1 212.1 517.6 219.1 515.6 225.3C513.6 231.6 511.2 237.4 508.5 242.4C505.8 247.4 502.6 251.8 499.2 255.3C495.9 258.8 492.1 261.5 488.2 263.3C484.4 265.1 480.4 266 476 266C471.6 266 466.6 265.1 461.9 263.3C457.2 261.5 452.4 258.8 447.8 255.3C443.3 251.8 438.8 247.4 434.6 242.4C430.5 237.4 426.5 231.6 422.9 225.3C419.4 219.1 416.2 212.1 413.5 204.9C410.9 197.6 408.6 189.8 407 182C405.4 174.2 404.2 165 404 158C403.8 151 404.5 146 405.6 140.2C406.6 134.4 408.1 128.6 410.1 123.3C412.1 117.9 414.7 112.8 417.5 108.1C420.4 103.5 423.7 99.2 427.3 95.5C430.9 91.8 435 88.5 439.1 85.9C443.2 83.3 447.7 81.3 452.2 80C456.7 78.7 461.6 78 466 78Z"/>
<path d="M466 90.6C469.7 90.6 473.1 91.2 476.6 92.3C480 93.4 483.5 95.1 486.7 97.3C489.8 99.4 492.9 102.2 495.7 105.3C498.4 108.4 501 112.1 503.2 116C505.4 119.9 507.4 124.3 508.9 128.8C510.4 133.3 511.6 138.1 512.4 143C513.2 147.9 513.4 152 513.6 158C513.8 164 514 172.1 513.8 178.9C513.6 185.7 513.1 192.5 512.3 198.8C511.4 205.1 510.2 211.2 508.6 216.6C507.1 222.1 505.1 227.1 502.9 231.5C500.7 235.8 498.2 239.7 495.4 242.7C492.6 245.7 489.5 248.1 486.3 249.6C483 251.2 479.7 252 476 252C472.3 252 467.9 251.2 463.9 249.6C459.8 248.1 455.7 245.7 451.7 242.7C447.8 239.7 443.8 235.8 440.2 231.5C436.6 227.1 433.1 222.1 430 216.6C426.9 211.2 424 205.1 421.6 198.8C419.3 192.5 417.2 185.7 415.7 178.9C414.3 172.1 413.2 164 413 158C412.8 152 413.5 147.9 414.3 143C415.2 138.1 416.5 133.3 418.2 128.8C420 124.3 422.1 119.9 424.6 116C427 112.1 429.9 108.4 433 105.3C436 102.2 439.5 99.4 443 97.3C446.5 95.1 450.4 93.4 454.2 92.3C458 91.2 462.3 90.6 466 90.6Z"/>
<path d="M466 101.3C469.2 101.3 472.1 101.8 475 102.7C477.9 103.7 480.8 105.1 483.5 106.9C486.2 108.7 488.8 111 491.2 113.7C493.5 116.3 495.7 119.4 497.6 122.6C499.5 125.9 501.1 129.6 502.4 133.4C503.7 137.2 504.7 141.3 505.4 145.4C506.1 149.5 506.2 152.9 506.4 158C506.6 163.1 506.9 170.3 506.8 176.2C506.7 182.2 506.4 188.1 505.8 193.6C505.1 199.1 504.2 204.4 503 209.1C501.8 213.9 500.2 218.3 498.5 222.1C496.7 225.9 494.6 229.2 492.3 231.9C490 234.5 487.4 236.6 484.7 237.9C482 239.3 479.2 240 476 240C472.8 240 469 239.3 465.4 237.9C461.9 236.6 458.2 234.5 454.8 231.9C451.3 229.2 447.8 225.9 444.6 222.1C441.4 218.3 438.2 213.9 435.4 209.1C432.7 204.4 430.1 199.1 427.9 193.6C425.8 188.1 423.9 182.2 422.6 176.2C421.2 170.3 420.2 163.1 420 158C419.8 152.9 420.4 149.5 421.2 145.4C421.9 141.3 423.1 137.2 424.6 133.4C426 129.6 427.9 125.9 430 122.6C432.2 119.4 434.7 116.3 437.3 113.7C440 111 443 108.7 446 106.9C449.1 105.1 452.4 103.7 455.8 102.7C459.1 101.8 462.8 101.3 466 101.3Z"/>
<path d="M466 112C468.6 112 470.9 112.4 473.2 113.2C475.6 113.9 477.9 115.1 480.1 116.6C482.2 118 484.3 119.9 486.2 122C488.1 124.2 489.8 126.7 491.3 129.3C492.8 132 494.1 135 495.2 138C496.2 141.1 497.1 144.4 497.6 147.8C498.1 151.1 498.2 153.7 498.4 158C498.6 162.3 499 168.7 499 173.8C499 178.9 498.9 184.1 498.6 188.8C498.2 193.6 497.6 198.2 496.7 202.3C495.9 206.4 494.8 210.2 493.5 213.5C492.1 216.8 490.6 219.7 488.8 222C487 224.3 485 226 482.9 227.2C480.8 228.4 478.6 229 476 229C473.4 229 470 228.4 467 227.2C464 226 460.8 224.3 457.8 222C454.8 219.7 451.8 216.8 448.9 213.5C446.1 210.2 443.4 206.4 440.9 202.3C438.5 198.2 436.2 193.6 434.2 188.8C432.3 184.1 430.6 178.9 429.4 173.8C428.2 168.7 427.2 162.3 427 158C426.8 153.7 427.3 151.1 428 147.8C428.6 144.4 429.6 141.1 430.9 138C432.1 135 433.7 132 435.5 129.3C437.3 126.7 439.4 124.2 441.7 122C443.9 119.9 446.5 118 449.1 116.6C451.7 115.1 454.5 113.9 457.3 113.2C460.1 112.4 463.4 112 466 112Z"/>
<path d="M466 122.7C468.1 122.7 469.7 123 471.4 123.6C473.2 124.2 475 125.1 476.6 126.2C478.2 127.3 479.8 128.8 481.2 130.4C482.6 132 483.9 133.9 485.1 136C486.2 138 487.2 140.3 488 142.7C488.8 145 489.4 147.6 489.8 150.1C490.2 152.7 490.2 154.6 490.4 158C490.6 161.4 491 166.4 491.2 170.5C491.4 174.5 491.5 178.6 491.4 182.3C491.2 186 491 189.7 490.5 192.9C490 196.2 489.3 199.2 488.5 201.8C487.6 204.4 486.5 206.7 485.3 208.5C484.1 210.3 482.7 211.7 481.1 212.6C479.6 213.5 478.1 214 476 214C473.9 214 471.1 213.5 468.6 212.6C466 211.7 463.4 210.3 460.8 208.5C458.3 206.7 455.7 204.4 453.3 201.8C450.9 199.2 448.5 196.2 446.4 192.9C444.3 189.7 442.2 186 440.5 182.3C438.9 178.6 437.3 174.5 436.2 170.5C435.1 166.4 434.2 161.4 434 158C433.8 154.6 434.3 152.7 434.8 150.1C435.3 147.6 436.1 145 437.2 142.7C438.2 140.3 439.5 138 441 136C442.5 133.9 444.2 132 446 130.4C447.9 128.8 450 127.3 452.1 126.2C454.3 125.1 456.6 124.2 458.9 123.6C461.2 123 463.9 122.7 466 122.7Z"/>
<path d="M466 133C467.5 133 468.4 133.2 469.6 133.6C470.7 134 471.9 134.7 472.9 135.5C474 136.3 475 137.3 476 138.5C476.9 139.6 477.8 141 478.5 142.4C479.2 143.9 479.9 145.5 480.4 147.2C480.9 148.8 481.3 150.6 481.6 152.4C481.9 154.2 481.8 155.5 482 158C482.2 160.5 482.7 164.3 483 167.3C483.3 170.4 483.6 173.4 483.8 176.2C483.9 179 484 181.8 483.9 184.2C483.8 186.6 483.6 188.9 483.2 190.8C482.9 192.8 482.3 194.5 481.7 195.8C481 197.2 480.2 198.3 479.2 198.9C478.3 199.6 477.5 200 476 200C474.5 200 472.3 199.6 470.3 198.9C468.4 198.3 466.3 197.2 464.3 195.8C462.3 194.5 460.2 192.8 458.3 190.8C456.4 188.9 454.4 186.6 452.6 184.2C450.9 181.8 449.2 179 447.8 176.2C446.3 173.4 445 170.4 444 167.3C443.1 164.3 442.2 160.5 442 158C441.8 155.5 442.2 154.2 442.6 152.4C443 150.6 443.6 148.8 444.4 147.2C445.1 145.5 446.1 143.9 447.2 142.4C448.3 141 449.6 139.6 451 138.5C452.4 137.3 454 136.3 455.6 135.5C457.2 134.7 458.9 134 460.7 133.6C462.4 133.2 464.5 133 466 133Z"/>
<path d="M473 260C472.2 264.8 472.3 276.2 473.5 281C474.7 285.8 477.5 287.8 480 289C482.5 290.2 485.1 289 488.6 288.3C492.1 287.6 497.9 286.8 501 284.7C504.1 282.6 506.7 279.1 507.3 275.8C507.9 272.5 506.1 268.3 504.6 265C503.1 261.7 501.2 258.5 498.4 256C495.6 253.5 491.4 250.7 488 250C484.6 249.3 480.5 250.3 478 252C475.5 253.7 473.8 255.2 473 260Z"/>
<path d="M461 221C464.7 220.2 474.2 225.3 480 227C485.8 228.7 489.3 229.8 496 231C502.7 232.2 512.7 233.2 520 234C527.3 234.8 534.7 234 540 236C545.3 238 549.8 241.7 552 246C554.2 250.3 554.2 257 553 262C551.8 267 549.2 272.3 545 276C540.8 279.7 533.8 281.3 528 284C522.2 286.7 515.7 289.7 510 292C504.3 294.3 498.7 297.7 494 298C489.3 298.3 485.3 297 482 294C478.7 291 475 285.3 474 280C473 274.7 475 267 476 262C477 257 481 253.7 480 250C479 246.3 473.7 243 470 240C466.3 237 459.5 235.2 458 232C456.5 228.8 457.3 221.8 461 221Z"/>
</g>
<g clip-path="url(#cc)"><path d="M513.3 17.5L514.2 19.1L514.6 21.2L514.3 23.1L514.9 25L515.6 26.7L516.9 29L516.9 30.6L518.6 33L518.7 34.7L519.8 36.6L519.8 38.8L518.6 40.8L519.2 43L519.3 44.6L520.5 46.3L520.6 47.9L519.9 49.8L521.3 51.7L520.7 53.5L521.1 55L522 57L521 58.6L521.7 60.5L522.3 61.9L523.1 63.4L522.3 65.5L522.2 67L522.3 68.8L524.1 70.4L524.7 71.9L524.6 73.8L524.8 75.4L525.4 77.5L524.7 79.1L524 80.9L525.3 82.9L525.7 84.3L525 86.3L524.3 88L525.1 89.6L525.3 91.7L525.8 93.2L526.8 95.4L526.6 96.9L528 98.9L528.9 100.7L528.4 102.3L529 104.5L530.7 106L529.7 107.9L530.3 110L531.7 111.5L531.3 113.2L532.8 114.8L534.7 116.5L534.6 118.1L534.9 119.4L535.3 121.6L535.2 123.3L534.2 124.8L533.6 126.7L533.5 128L533.7 129.8L534 131.7L533.4 133.8L533.7 135.9L533.6 138.2L534.8 139.8L535 141.7L536.2 143.3L538.1 145.5L538.2 147L538.3 148.6L539.7 150.6L541.6 152.4L539.9 154.6L540.9 155.9L540.9 157.5L540.9 159.8L541.5 161.4L540.3 162.9L540.4 165.1L541.4 167L541.2 168.7L542.5 171.1L542.8 172.9L543.3 174.5L542.6 176L543.4 177.4L543.3 179.2L544.3 181.1L545.9 182.8L546.1 184.9L546.4 186.3L545.1 188L545.3 189.8L546.2 192.1L546.8 193.7L546.5 195.8L545.4 197.5L547.1 199.5L546.9 201.1L545.9 203.2L546.3 205L547.6 206.5L546.6 208.6L547.3 209.9L546.3 211.6L547.9 213.8L546.5 215.6L548.2 217.3L547 219L546.6 220.5L548.4 222.7L547.5 224.7L547.4 226.4L548.3 227.8L546.9 229.7L546.6 231.6L546.4 233.3L545.9 235.4L546.1 236.9L546.3 239L545.7 240.8L544.8 241.8L543.7 242.8L542.4 244.2L540.4 245.9L539.6 247L540.6 248.8L539.7 250.5L540 252.3L539 253.9L539.1 255.5L540.6 257.7L540.7 260L541.9 262L541.3 264L541 266.1L540.9 268L540.9 270.3L540.6 272.2L540.5 273.7L539.1 276L539 277.5L537.5 279.4L537.3 281.1L537.2 283.1L538.6 285L537.3 286.6L538.2 288L538.6 290.3L537.1 292.1L537.3 293.6L538.3 295.7L536.4 297.3L537 299L536.2 300.9L537 302.5L536.7 304.5L535.6 306.1L536.8 307.9L535.7 309.9L537.1 311.6L535.7 312.9L535.5 315.2L535.8 316.8L536 319.2L536.7 320.9L535.2 323.3L537.2 324.5L537.3 325.4L539.7 327L539.8 329L542.4 330.7L542.3 332.2L543.4 333.7L545.2 334.9L545.9 337.1L545.8 338.4L546.8 340.3L545.3 341.9L544.6 343.6L544.5 345.3L544.8 346.9L543.4 348.6L542.2 350.2L541.6 352.3" fill="none" stroke="#111" stroke-width="1.3" stroke-linejoin="round"/></g>
<g clip-path="url(#cc)"><path d="M348.8 120C350.1 123.3 354 134.6 356.3 140C358.6 145.4 360.6 147.9 362.6 152.6C364.6 157.3 366.2 162.6 368.3 168C370.4 173.4 373.2 179.7 375.2 185.2C377.2 190.7 378.8 195.8 380.3 201C381.8 206.2 382.9 211.3 384 216.6C385.1 221.9 385.9 227.3 386.8 233C387.7 238.7 388.3 245.2 389.2 250.5C390.1 255.8 391.5 259.2 392.3 265C393.1 270.8 393.6 279.2 394 285C394.4 290.8 394.4 294.5 394.5 300C394.6 305.5 394.7 312.2 394.8 318C394.9 323.8 395 329.3 395.1 335C395.2 340.7 395.3 349.4 395.3 352.3" fill="none" stroke="#111" stroke-width="1.5"/><path d="M347.7 117.2L349.9 122.8L354.4 117.9Z" fill="#111"/><path d="M361.4 149.8L363.8 155.4L368.1 150.2Z" fill="#111"/><path d="M374 182.2L376 187.8L380.6 182.9Z" fill="#111"/><path d="M383.7 214.1L384.9 219.9L390.2 215.8Z" fill="#111"/><path d="M389 247.5L390 253.5L395.4 249.5Z" fill="#111"/><path d="M393.9 282L394.3 288L400.1 284.6Z" fill="#111"/><path d="M394.7 315.5L394.9 321.5L400.8 318.4Z" fill="#111"/></g>
<g clip-path="url(#cc)" fill="none" stroke-width="1.1"><g stroke="#2f84d2"><circle cx="563.3" cy="116.1" r="1.1"/><circle cx="478.9" cy="179.1" r="1.1"/><circle cx="506" cy="123.2" r="1.2"/><circle cx="530.5" cy="197.3" r="1.3"/><circle cx="575.4" cy="351.8" r="1"/><circle cx="518.7" cy="137.1" r="1.3"/><circle cx="568.2" cy="237.9" r="1.3"/><circle cx="555.7" cy="189.6" r="1.2"/><circle cx="472.7" cy="182.2" r="1.3"/><circle cx="552.1" cy="289.8" r="1.1"/></g><g stroke="#62c1e3"><circle cx="591.6" cy="165" r="1.3"/><circle cx="536" cy="39.4" r="1.6"/><circle cx="488.1" cy="139" r="1.3"/><circle cx="612.6" cy="328.7" r="1"/><circle cx="536.4" cy="55.2" r="1.1"/><circle cx="627.1" cy="298.2" r="1.6"/><circle cx="474.8" cy="338.1" r="1.5"/><circle cx="421.7" cy="123.8" r="1.1"/><circle cx="525.6" cy="152.5" r="1.5"/><circle cx="602.9" cy="283.4" r="1.2"/></g><g stroke="#38a8e4"><circle cx="529.7" cy="97.8" r="1.4"/><circle cx="612" cy="316.8" r="1.1"/><circle cx="562.3" cy="129.9" r="1.5"/><circle cx="532.6" cy="211.7" r="1.7"/><circle cx="555.2" cy="51.7" r="1.9"/><circle cx="601.7" cy="357.7" r="1"/><circle cx="546.3" cy="119.8" r="1.2"/><circle cx="494.5" cy="87" r="1.7"/><circle cx="623" cy="233.6" r="1.7"/><circle cx="512" cy="206.9" r="1"/></g><g stroke="#4ab8e6"><circle cx="477.8" cy="183.5" r="2.5"/><circle cx="575.2" cy="296.5" r="1.9"/><circle cx="519" cy="337.3" r="1"/><circle cx="591" cy="209.2" r="1.7"/><circle cx="451.9" cy="288.4" r="1.6"/><circle cx="580.3" cy="32.6" r="1.4"/><circle cx="573.8" cy="43" r="1.4"/><circle cx="477.2" cy="99.2" r="1"/><circle cx="605.8" cy="306.5" r="1.6"/><circle cx="523.1" cy="344.9" r="1"/></g><g stroke="#38a8e4"><circle cx="591.8" cy="307.1" r="1"/><circle cx="549.9" cy="308" r="1.5"/><circle cx="537.3" cy="182.5" r="1.2"/><circle cx="427.3" cy="73.9" r="1.3"/><circle cx="544.6" cy="282" r="1.1"/><circle cx="471.6" cy="95" r="1.6"/><circle cx="612" cy="331.1" r="1.5"/><circle cx="518.7" cy="151.3" r="1.2"/><circle cx="607" cy="355.4" r="1.6"/><circle cx="489.1" cy="96.8" r="1.4"/></g><g stroke="#4ab8e6"><circle cx="534" cy="77.2" r="1.4"/><circle cx="561.9" cy="256.6" r="1"/><circle cx="609.5" cy="294.7" r="1.4"/><circle cx="485.7" cy="90.2" r="1.1"/><circle cx="561.6" cy="70" r="1.4"/><circle cx="604" cy="52" r="1"/><circle cx="556.2" cy="321.3" r="1.9"/><circle cx="519.2" cy="247.1" r="1.1"/><circle cx="600.2" cy="333" r="1.3"/><circle cx="470.1" cy="92.7" r="1.5"/></g><g stroke="#78c9e1"><circle cx="554" cy="265.7" r="1.4"/><circle cx="587.4" cy="344.5" r="1.1"/><circle cx="573.7" cy="348.2" r="1"/><circle cx="566.2" cy="175.9" r="1.4"/><circle cx="537.7" cy="98.1" r="1.5"/><circle cx="542.3" cy="343" r="1"/><circle cx="614.3" cy="268.8" r="1.2"/><circle cx="581.9" cy="139.8" r="1"/><circle cx="524.5" cy="243.4" r="1.3"/><circle cx="487.3" cy="93" r="1.6"/></g><g stroke="#4ab8e6"><circle cx="577.9" cy="278.5" r="1.3"/><circle cx="542.6" cy="325.2" r="1.1"/><circle cx="531.4" cy="348.8" r="1.2"/><circle cx="500.2" cy="215.9" r="1.6"/><circle cx="509.9" cy="342.9" r="1.4"/><circle cx="583.3" cy="166.3" r="1.3"/><circle cx="531.1" cy="348.5" r="1.3"/><circle cx="506" cy="89.9" r="1"/><circle cx="566.1" cy="283.3" r="1.2"/><circle cx="436.5" cy="122" r="1.1"/></g><g stroke="#78c9e1"><circle cx="626.8" cy="264.5" r="1.3"/><circle cx="569" cy="87.4" r="1.5"/><circle cx="559.5" cy="236.5" r="1.3"/><circle cx="573.4" cy="240.7" r="1.2"/><circle cx="477" cy="90.1" r="1.1"/><circle cx="497.6" cy="195" r="1"/><circle cx="589.6" cy="346.6" r="1"/><circle cx="626.2" cy="318.1" r="1.2"/><circle cx="588.9" cy="331.5" r="1.2"/><circle cx="601.7" cy="321" r="1.1"/></g><g stroke="#8fd1e2"><circle cx="536.5" cy="52.2" r="1.2"/><circle cx="538.3" cy="44.9" r="1.2"/><circle cx="592.3" cy="299.8" r="1.5"/><circle cx="584.3" cy="162" r="2.1"/><circle cx="590.9" cy="47.5" r="1"/><circle cx="544" cy="50.2" r="1.5"/><circle cx="551.7" cy="339.6" r="1.2"/><circle cx="538.6" cy="349.3" r="1"/><circle cx="556.4" cy="214.6" r="2"/><circle cx="533.8" cy="99.5" r="1.2"/></g><g stroke="#4ab8e6"><circle cx="469.9" cy="87.7" r="1"/><circle cx="490.8" cy="217.7" r="1.1"/><circle cx="455.2" cy="294.1" r="1.8"/><circle cx="533.5" cy="215" r="1.4"/><circle cx="525.4" cy="102.3" r="1.4"/><circle cx="537.2" cy="168.6" r="1"/><circle cx="484.7" cy="92.9" r="1.2"/><circle cx="551.6" cy="305.1" r="1.5"/></g><g stroke="#8fd1e2"><circle cx="576.8" cy="340.1" r="2.4"/><circle cx="540.4" cy="339.4" r="1.3"/><circle cx="594.1" cy="278.8" r="1.5"/><circle cx="553.5" cy="179.6" r="1.3"/><circle cx="545.2" cy="28.5" r="1.3"/><circle cx="565" cy="338" r="2"/><circle cx="557.5" cy="84.7" r="1.1"/><circle cx="567.4" cy="268.8" r="1.7"/><circle cx="584.7" cy="339.6" r="1.5"/><circle cx="606.4" cy="311.7" r="1"/></g><g stroke="#62c1e3"><circle cx="604.3" cy="334.8" r="1"/><circle cx="551.3" cy="344.1" r="1.3"/><circle cx="525.4" cy="114" r="1.5"/><circle cx="458.1" cy="283.3" r="1.2"/><circle cx="524.8" cy="335.3" r="1.1"/><circle cx="557.7" cy="122.7" r="1.2"/><circle cx="517.6" cy="200.4" r="1.2"/><circle cx="582.4" cy="265.6" r="1.1"/><circle cx="501.1" cy="348.2" r="1.2"/><circle cx="563.6" cy="113.8" r="1.2"/></g><g stroke="#2b6fc0"><circle cx="514.1" cy="146.6" r="2.1"/><circle cx="488.9" cy="88.4" r="1"/><circle cx="504.7" cy="110.5" r="1.3"/><circle cx="533" cy="151.3" r="1.9"/><circle cx="564.4" cy="334.8" r="1.2"/><circle cx="516.6" cy="205.8" r="1.3"/><circle cx="591.3" cy="298.5" r="1.5"/><circle cx="525" cy="194.4" r="1.3"/><circle cx="428" cy="180.1" r="1.1"/><circle cx="521.4" cy="208.3" r="1"/></g><g stroke="#8fd1e2"><circle cx="567.7" cy="339.9" r="1"/><circle cx="533.5" cy="79.6" r="1.1"/><circle cx="570.2" cy="334.6" r="1.2"/><circle cx="545.1" cy="46.4" r="1"/><circle cx="542.1" cy="299.5" r="1.8"/><circle cx="628" cy="324" r="1"/><circle cx="593.5" cy="347.4" r="1.1"/><circle cx="612.5" cy="351.3" r="1.2"/><circle cx="609.3" cy="356.3" r="1.1"/><circle cx="528.8" cy="345.7" r="1.3"/></g><g stroke="#62c1e3"><circle cx="582.7" cy="306.2" r="1"/><circle cx="514.6" cy="141.7" r="1.2"/><circle cx="564.1" cy="334.5" r="2"/><circle cx="545.8" cy="322.2" r="1.6"/><circle cx="551.2" cy="225.2" r="2.2"/><circle cx="564.9" cy="117.7" r="1"/><circle cx="599.3" cy="226.9" r="1.7"/><circle cx="596.7" cy="187.4" r="1"/><circle cx="526.1" cy="88" r="1.3"/><circle cx="520" cy="347.2" r="1.1"/></g><g stroke="#78c9e1"><circle cx="572.5" cy="343.1" r="1.1"/><circle cx="557.3" cy="296.5" r="1.3"/><circle cx="548.9" cy="49.6" r="1"/><circle cx="590.1" cy="297.9" r="1.4"/><circle cx="552.9" cy="71.2" r="1.3"/><circle cx="581" cy="346.2" r="1.3"/><circle cx="527.6" cy="21.3" r="1.6"/><circle cx="622.9" cy="338.5" r="1.7"/><circle cx="463.4" cy="188.6" r="1.4"/><circle cx="585.6" cy="161.1" r="1.6"/></g><g stroke="#62c1e3"><circle cx="557.2" cy="133.6" r="1.1"/><circle cx="559.7" cy="194.8" r="1.1"/><circle cx="541" cy="85" r="1"/><circle cx="555.9" cy="160.8" r="1"/><circle cx="575.8" cy="183.8" r="1.2"/><circle cx="510.6" cy="215.5" r="1.4"/><circle cx="549" cy="263" r="1.1"/><circle cx="583.7" cy="279.3" r="1.9"/><circle cx="430.2" cy="237.2" r="1.9"/><circle cx="565.2" cy="188.7" r="1.2"/></g><g stroke="#2b6fc0"><circle cx="507.2" cy="221.6" r="1.7"/><circle cx="542.3" cy="61" r="1"/><circle cx="551.2" cy="236.2" r="1.2"/><circle cx="557.1" cy="239.5" r="1.5"/><circle cx="486.8" cy="125.3" r="1.9"/></g><g stroke="#38a8e4"><circle cx="559.4" cy="253.8" r="1.1"/><circle cx="525.6" cy="165.9" r="1"/><circle cx="547.6" cy="139" r="1"/><circle cx="505.5" cy="208.1" r="1.2"/><circle cx="605.3" cy="349" r="1.3"/><circle cx="535.4" cy="342" r="1"/><circle cx="582.3" cy="319.8" r="1.5"/><circle cx="547.7" cy="159.2" r="1"/><circle cx="509.9" cy="220.3" r="1.5"/><circle cx="611.9" cy="344.1" r="1.4"/></g><g stroke="#4ab8e6"><circle cx="518.9" cy="346.8" r="1.5"/><circle cx="605.4" cy="273.4" r="1.2"/><circle cx="543" cy="20.8" r="1.6"/><circle cx="545" cy="256" r="1.2"/><circle cx="532.1" cy="57.2" r="1.4"/><circle cx="574.2" cy="187" r="2.4"/><circle cx="515.7" cy="112.4" r="1.3"/><circle cx="551.4" cy="73.7" r="1.5"/><circle cx="578.9" cy="285.1" r="1.1"/><circle cx="586.5" cy="287.1" r="1.4"/></g><g stroke="#2f96df"><circle cx="522" cy="118" r="1"/><circle cx="601.2" cy="260.3" r="1.2"/><circle cx="554.6" cy="257.8" r="1.8"/><circle cx="593.8" cy="266.4" r="1.6"/><circle cx="481.8" cy="95" r="1"/><circle cx="499.9" cy="296.5" r="1.2"/><circle cx="533.5" cy="103.5" r="1.4"/><circle cx="522.8" cy="341" r="1.1"/><circle cx="520.7" cy="347.3" r="2.2"/><circle cx="516.9" cy="344.5" r="1.1"/></g><g stroke="#2b6fc0"><circle cx="550.6" cy="260.5" r="1"/><circle cx="538.3" cy="111.2" r="1.2"/><circle cx="615.4" cy="348.7" r="1"/><circle cx="502.4" cy="171.3" r="1.1"/><circle cx="496.2" cy="102.7" r="1.1"/><circle cx="539.6" cy="338.7" r="1.1"/><circle cx="420" cy="224.4" r="1.8"/><circle cx="437.3" cy="189.7" r="1"/><circle cx="473.9" cy="300.3" r="1.3"/><circle cx="480.8" cy="124.8" r="1.5"/></g><g stroke="#2f96df"><circle cx="465.6" cy="94.3" r="1.3"/><circle cx="508.4" cy="163.4" r="1.4"/><circle cx="582.4" cy="239.5" r="1.4"/><circle cx="590.4" cy="272.6" r="1.1"/><circle cx="511.7" cy="196.5" r="1.4"/><circle cx="488.6" cy="94.6" r="1.2"/><circle cx="541.3" cy="306.8" r="1.2"/><circle cx="577.9" cy="268.9" r="1.2"/><circle cx="610.6" cy="323.8" r="1.1"/><circle cx="546.6" cy="138.5" r="1.1"/></g><g stroke="#2f84d2"><circle cx="520.8" cy="103" r="1.1"/><circle cx="558" cy="202" r="1.1"/><circle cx="549.9" cy="234.7" r="1.1"/><circle cx="558.7" cy="119.4" r="1.3"/><circle cx="537" cy="197" r="1.5"/><circle cx="546.3" cy="296.3" r="1.3"/><circle cx="540.7" cy="104.2" r="1.1"/><circle cx="545.1" cy="77.3" r="1"/><circle cx="541.5" cy="336.7" r="1.5"/><circle cx="518.9" cy="100.1" r="1.1"/></g><g stroke="#4ab8e6"><circle cx="621" cy="335.7" r="1"/><circle cx="535.4" cy="346.9" r="2.5"/><circle cx="424.4" cy="252.6" r="1.2"/><circle cx="599.2" cy="327.2" r="1.1"/><circle cx="605.3" cy="323.2" r="1.3"/><circle cx="505.5" cy="157.2" r="1.1"/><circle cx="571.4" cy="110" r="1.2"/><circle cx="579.2" cy="160.7" r="1.2"/><circle cx="542.5" cy="194.1" r="1.5"/><circle cx="552" cy="330" r="1"/></g><g stroke="#a6d9e5"><circle cx="602.7" cy="324" r="1"/><circle cx="619.9" cy="329.1" r="1.1"/><circle cx="580.6" cy="273.6" r="1.1"/><circle cx="579.5" cy="248" r="1.3"/><circle cx="548.3" cy="217.4" r="2.2"/><circle cx="609.2" cy="318" r="1.1"/><circle cx="525.2" cy="307.8" r="1.2"/><circle cx="597.1" cy="339.7" r="1.3"/><circle cx="576.9" cy="210.7" r="1.4"/><circle cx="568" cy="334.8" r="2"/><circle cx="581.1" cy="163.2" r="2.3"/><circle cx="587.7" cy="255.6" r="1.3"/><circle cx="616.1" cy="244.7" r="1.5"/><circle cx="598.1" cy="267.1" r="1.3"/><circle cx="539" cy="47.1" r="1.1"/><circle cx="543.2" cy="50.9" r="1.1"/><circle cx="610.8" cy="278.5" r="2.1"/><circle cx="621.6" cy="240.7" r="1.2"/><circle cx="602.2" cy="260.4" r="1.5"/><circle cx="586.1" cy="67.3" r="1.2"/></g><g stroke="#2f96df"><circle cx="487.6" cy="92.8" r="1"/><circle cx="605.5" cy="258.9" r="1.2"/><circle cx="521.4" cy="126.8" r="1"/><circle cx="514.6" cy="116.3" r="1"/><circle cx="548.5" cy="116.9" r="1"/><circle cx="499.1" cy="97" r="1.2"/><circle cx="605.9" cy="342.3" r="1.7"/><circle cx="499.3" cy="89.7" r="1"/><circle cx="559" cy="214.8" r="1.1"/><circle cx="567.3" cy="336.7" r="1.2"/></g><g stroke="#2b6fc0"><circle cx="480.1" cy="113.9" r="1.3"/><circle cx="438.6" cy="137.8" r="2.4"/><circle cx="503.9" cy="189.6" r="1.2"/><circle cx="634.1" cy="298.8" r="1.1"/><circle cx="499.6" cy="81.3" r="1"/><circle cx="529.4" cy="213.1" r="1.6"/><circle cx="471.2" cy="199.9" r="1.1"/><circle cx="550.8" cy="335.9" r="1.5"/><circle cx="534.5" cy="140" r="1.5"/><circle cx="601.2" cy="260.2" r="1.6"/></g><g stroke="#78c9e1"><circle cx="598.6" cy="116.9" r="1.2"/><circle cx="506.2" cy="345" r="1.1"/><circle cx="519.7" cy="238.2" r="1.4"/><circle cx="594.8" cy="357.7" r="1.8"/><circle cx="612.1" cy="322.2" r="1.3"/><circle cx="521.1" cy="339.6" r="1.4"/><circle cx="624.4" cy="292.3" r="1.5"/><circle cx="559.7" cy="304.9" r="1.1"/><circle cx="484.2" cy="89" r="1.2"/><circle cx="583.5" cy="299.9" r="1.4"/></g><g stroke="#62c1e3"><circle cx="587" cy="247.5" r="1.3"/><circle cx="610.9" cy="328.6" r="1.6"/><circle cx="601.4" cy="183.5" r="1"/><circle cx="574.4" cy="110" r="1.7"/><circle cx="491.6" cy="90.8" r="1.2"/><circle cx="547.8" cy="332.5" r="1.2"/><circle cx="503.9" cy="201.4" r="2"/><circle cx="524.9" cy="350.8" r="1"/><circle cx="548.3" cy="261.9" r="1.1"/><circle cx="523.9" cy="200.4" r="1"/></g><g stroke="#78c9e1"><circle cx="625" cy="347.6" r="1.1"/><circle cx="532.2" cy="51.6" r="1.5"/><circle cx="609.1" cy="331.1" r="1.1"/><circle cx="576.9" cy="213.2" r="1.3"/><circle cx="581.3" cy="350.8" r="1.5"/><circle cx="582.4" cy="124.2" r="1.4"/><circle cx="586.4" cy="303.9" r="1.3"/><circle cx="616.6" cy="269.2" r="1.4"/><circle cx="566.6" cy="332" r="1.9"/><circle cx="555" cy="172.4" r="1.1"/></g><g stroke="#62c1e3"><circle cx="589.8" cy="295.8" r="1"/><circle cx="601.8" cy="143.9" r="1.5"/><circle cx="543.6" cy="90.9" r="1.3"/><circle cx="601.9" cy="259.8" r="1.3"/><circle cx="576.2" cy="329.5" r="1.4"/><circle cx="562.6" cy="297.7" r="2"/><circle cx="498" cy="108.7" r="1"/><circle cx="513" cy="290.7" r="1"/><circle cx="498.2" cy="273.8" r="1.7"/><circle cx="584.1" cy="245.1" r="1.4"/></g><g stroke="#2f84d2"><circle cx="519" cy="25" r="1"/><circle cx="529.8" cy="48.3" r="1.2"/><circle cx="476.3" cy="105.2" r="1"/><circle cx="516.2" cy="303.8" r="1"/><circle cx="577" cy="179.2" r="1.1"/><circle cx="481.1" cy="287.4" r="1.4"/><circle cx="606.6" cy="316.6" r="1.4"/><circle cx="628.7" cy="296.1" r="1"/><circle cx="602.6" cy="259.4" r="1.6"/><circle cx="612.3" cy="341.8" r="1.2"/></g><g stroke="#2f96df"><circle cx="508.5" cy="155.2" r="1.2"/><circle cx="553.3" cy="119.9" r="1"/><circle cx="453.3" cy="236.7" r="2.1"/><circle cx="471" cy="96.4" r="1.4"/><circle cx="499.2" cy="98.6" r="1"/><circle cx="570.1" cy="229.5" r="1.2"/><circle cx="497.8" cy="82.4" r="1"/><circle cx="411.3" cy="205.5" r="1.1"/><circle cx="586.8" cy="302.1" r="1.1"/><circle cx="529.5" cy="213.3" r="1.5"/><circle cx="532.8" cy="70.6" r="1"/><circle cx="527" cy="117.5" r="1.2"/><circle cx="533.7" cy="70.9" r="2.4"/><circle cx="530.2" cy="76.2" r="1.3"/><circle cx="499.1" cy="98.9" r="1.9"/><circle cx="588.3" cy="294.7" r="1.3"/><circle cx="455.2" cy="287.1" r="1.1"/><circle cx="527" cy="28.9" r="1"/><circle cx="586.1" cy="270.8" r="1.3"/><circle cx="624.8" cy="299.1" r="1"/></g><g stroke="#38a8e4"><circle cx="470.9" cy="88.9" r="1.3"/><circle cx="551.6" cy="23.3" r="1.2"/><circle cx="608.2" cy="327.7" r="1.3"/><circle cx="444.4" cy="152.3" r="1.2"/><circle cx="579.4" cy="134.6" r="1.2"/><circle cx="592.9" cy="330.5" r="1.8"/><circle cx="566.9" cy="48.7" r="1.5"/><circle cx="589.5" cy="301" r="1.5"/><circle cx="528.9" cy="331.1" r="1.1"/><circle cx="598.3" cy="337.9" r="1.2"/></g><g stroke="#4ab8e6"><circle cx="538" cy="62.7" r="1.9"/><circle cx="444.7" cy="125.9" r="1"/><circle cx="550.4" cy="324.8" r="1"/><circle cx="573" cy="109.4" r="1.3"/><circle cx="521.6" cy="121.4" r="1.5"/><circle cx="515.8" cy="96.9" r="1"/><circle cx="508" cy="149.1" r="1.4"/><circle cx="456.5" cy="216.2" r="1.1"/><circle cx="491.5" cy="145.6" r="2"/><circle cx="511.5" cy="182.9" r="1.6"/></g><g stroke="#2f96df"><circle cx="550.8" cy="257.3" r="1.3"/><circle cx="421.2" cy="84.2" r="1.1"/><circle cx="477.2" cy="125.3" r="2.4"/><circle cx="493.7" cy="313.5" r="1"/><circle cx="489.1" cy="75.7" r="1.5"/><circle cx="575" cy="284.2" r="1.4"/><circle cx="479.1" cy="88.7" r="1.2"/><circle cx="630.2" cy="297.6" r="1.1"/><circle cx="580.3" cy="276.5" r="1.1"/><circle cx="492.1" cy="182.2" r="1"/></g><g stroke="#38a8e4"><circle cx="543.4" cy="105.9" r="1"/><circle cx="630.9" cy="297.3" r="1.7"/><circle cx="626.5" cy="276" r="1.1"/><circle cx="462.1" cy="156.5" r="1.5"/><circle cx="551.8" cy="351.9" r="1.9"/><circle cx="500" cy="324.9" r="1.4"/><circle cx="635.8" cy="351" r="1.4"/><circle cx="628.5" cy="333.3" r="1"/><circle cx="538.3" cy="95.1" r="1.4"/><circle cx="561.3" cy="331.6" r="1.3"/></g><g stroke="#2f96df"><circle cx="579.2" cy="300.3" r="1.1"/><circle cx="582.5" cy="305.6" r="1.1"/><circle cx="581.6" cy="268.4" r="1.1"/><circle cx="496" cy="106.5" r="1.7"/><circle cx="516.4" cy="334.7" r="1.9"/><circle cx="557.5" cy="285.5" r="1"/><circle cx="568.5" cy="120.2" r="1.5"/><circle cx="579.8" cy="185.5" r="1.1"/><circle cx="527.8" cy="101.8" r="2.1"/><circle cx="572.8" cy="245.7" r="1.5"/></g><g stroke="#8fd1e2"><circle cx="560.8" cy="280.6" r="1.5"/><circle cx="582.2" cy="161.6" r="1.7"/></g><g stroke="#38a8e4"><circle cx="578.8" cy="198.4" r="2.1"/><circle cx="515.4" cy="173" r="1.5"/><circle cx="496.7" cy="223.8" r="1.2"/><circle cx="485.4" cy="93.1" r="1.1"/><circle cx="487.2" cy="86.3" r="2"/><circle cx="587.4" cy="104.8" r="1.4"/><circle cx="502.4" cy="172.9" r="1.7"/><circle cx="518.9" cy="332.5" r="1.5"/><circle cx="428.6" cy="209.9" r="1.7"/><circle cx="539.1" cy="120.7" r="1"/></g><g stroke="#4ab8e6"><circle cx="629.5" cy="315.9" r="1"/><circle cx="534.4" cy="85" r="1.4"/><circle cx="585.5" cy="50.5" r="1.1"/><circle cx="461.4" cy="293.9" r="1.1"/><circle cx="562.4" cy="311.7" r="1.4"/><circle cx="537.2" cy="96.4" r="1.3"/><circle cx="539.9" cy="234" r="1"/><circle cx="410.6" cy="234" r="1.2"/><circle cx="604.8" cy="188.6" r="1.2"/><circle cx="610.8" cy="331.1" r="1.2"/></g><g stroke="#38a8e4"><circle cx="486.1" cy="88.7" r="1.1"/><circle cx="596.2" cy="304" r="1.8"/><circle cx="521.9" cy="242.2" r="1.1"/><circle cx="497" cy="101.8" r="1.4"/><circle cx="591.3" cy="178.1" r="1.4"/><circle cx="572" cy="125.1" r="1.6"/><circle cx="596" cy="238.7" r="1.3"/><circle cx="546" cy="319.7" r="1.1"/><circle cx="586.2" cy="240.8" r="1.2"/><circle cx="568.2" cy="249.1" r="1.9"/></g><g stroke="#78c9e1"><circle cx="539" cy="342.7" r="1.2"/><circle cx="596.1" cy="323.5" r="1.1"/><circle cx="482.1" cy="87.8" r="1"/><circle cx="596.1" cy="304.7" r="1.4"/><circle cx="547.9" cy="113.1" r="1.3"/><circle cx="414.4" cy="141.7" r="1"/><circle cx="478.7" cy="91" r="1.8"/><circle cx="566.8" cy="318.7" r="1"/><circle cx="475.7" cy="89.2" r="1.3"/><circle cx="474" cy="168.8" r="1.6"/></g><g stroke="#4ab8e6"><circle cx="534.8" cy="70.4" r="1"/><circle cx="563.9" cy="310.8" r="1"/><circle cx="530" cy="110.4" r="1.2"/><circle cx="467.1" cy="140.3" r="1.5"/><circle cx="541.8" cy="346.1" r="1.2"/><circle cx="533.1" cy="51.9" r="1.6"/><circle cx="616.5" cy="331.7" r="1.3"/><circle cx="567.6" cy="120.5" r="1"/><circle cx="515.9" cy="311.2" r="1.3"/><circle cx="561.3" cy="236.4" r="1.6"/></g><g stroke="#38a8e4"><circle cx="594.2" cy="309.6" r="1.1"/><circle cx="631.6" cy="224.4" r="1.4"/><circle cx="577.3" cy="101.1" r="1"/><circle cx="497.6" cy="288.7" r="1.1"/><circle cx="476.4" cy="88.4" r="1"/><circle cx="563.5" cy="114.1" r="1.3"/><circle cx="582.9" cy="264.5" r="1.5"/><circle cx="488.7" cy="116.4" r="1.1"/><circle cx="561.9" cy="334" r="1.2"/><circle cx="596.2" cy="307.6" r="1.1"/></g><g stroke="#62c1e3"><circle cx="633.7" cy="300.7" r="1"/><circle cx="569.5" cy="122.6" r="1.2"/><circle cx="530.9" cy="164.6" r="1"/><circle cx="506.1" cy="233.2" r="1.2"/><circle cx="551.5" cy="36.2" r="1.1"/><circle cx="517.3" cy="109.3" r="1"/><circle cx="524.8" cy="338.7" r="1.2"/><circle cx="572.1" cy="297.5" r="2"/><circle cx="539.9" cy="350" r="1.8"/><circle cx="474.5" cy="90.5" r="1"/><circle cx="459.3" cy="234.8" r="1"/><circle cx="533.4" cy="65.1" r="1.1"/><circle cx="524.3" cy="337.3" r="1.1"/><circle cx="525.2" cy="322.9" r="1"/><circle cx="577" cy="91.1" r="1.4"/><circle cx="539" cy="110.1" r="1.2"/><circle cx="489.5" cy="189" r="1.2"/><circle cx="574" cy="261.1" r="1"/><circle cx="588.7" cy="340.9" r="1.1"/><circle cx="488.4" cy="179.9" r="1.1"/><circle cx="484.3" cy="99.8" r="1.2"/><circle cx="596.4" cy="251.7" r="1.1"/><circle cx="594.3" cy="205.6" r="1.1"/><circle cx="533.7" cy="53.8" r="1.4"/><circle cx="624.6" cy="337" r="1.2"/><circle cx="530.4" cy="255.3" r="1.3"/><circle cx="612" cy="322.4" r="1.2"/><circle cx="582" cy="180.8" r="1.3"/><circle cx="506.8" cy="84.6" r="2.3"/><circle cx="534.2" cy="109.4" r="1.5"/></g><g stroke="#2f84d2"><circle cx="516.3" cy="148.1" r="1.5"/><circle cx="593.4" cy="261.8" r="1.1"/><circle cx="527.8" cy="340.1" r="1.4"/><circle cx="523.8" cy="43.6" r="1.2"/><circle cx="528.6" cy="189.1" r="1.1"/><circle cx="554.5" cy="300.5" r="1.7"/><circle cx="519.3" cy="155.4" r="1.4"/><circle cx="546.2" cy="105.4" r="1.2"/><circle cx="562.2" cy="116.1" r="1.5"/></g><g stroke="#8fd1e2"><circle cx="586.6" cy="273.1" r="1.3"/><circle cx="605.8" cy="326.8" r="1.9"/><circle cx="582.1" cy="303.8" r="1.1"/><circle cx="587.4" cy="269.3" r="1.3"/><circle cx="589" cy="274.6" r="1.1"/><circle cx="567.1" cy="331.3" r="1.5"/><circle cx="589.8" cy="212.5" r="1.1"/><circle cx="562.2" cy="332.8" r="1.6"/><circle cx="596.1" cy="211.4" r="1.2"/><circle cx="582" cy="218.4" r="1.1"/></g><g stroke="#2f84d2"><circle cx="416.1" cy="261.8" r="1.9"/><circle cx="532.9" cy="92.7" r="1.2"/><circle cx="565.6" cy="335.3" r="1.1"/><circle cx="527.3" cy="317.5" r="1.6"/><circle cx="514.4" cy="223" r="1.3"/><circle cx="462.6" cy="261.1" r="1.5"/><circle cx="531.1" cy="186.7" r="1"/><circle cx="580.5" cy="267.2" r="1"/><circle cx="506.4" cy="229" r="1.1"/><circle cx="556.6" cy="98.7" r="1"/><circle cx="519.4" cy="294.7" r="1.3"/><circle cx="443.4" cy="195.8" r="1"/><circle cx="532.3" cy="97.2" r="1"/><circle cx="491.5" cy="137.3" r="1.4"/><circle cx="611.7" cy="219.6" r="1.2"/><circle cx="528.6" cy="190.4" r="1.7"/><circle cx="504.6" cy="246.5" r="1.4"/><circle cx="541.5" cy="347.6" r="1.1"/><circle cx="587" cy="363.8" r="1.4"/><circle cx="546.7" cy="260.8" r="1.2"/><circle cx="563.5" cy="258.6" r="1"/><circle cx="619.2" cy="299.9" r="1.8"/><circle cx="576.3" cy="229.9" r="1.3"/><circle cx="573.2" cy="290.7" r="1.8"/><circle cx="513.3" cy="182" r="1.2"/><circle cx="537.6" cy="175" r="1.6"/><circle cx="570.2" cy="342.9" r="1.1"/><circle cx="550.4" cy="254.2" r="1.1"/><circle cx="539.3" cy="54" r="1.3"/><circle cx="506" cy="85.1" r="1.2"/></g><g stroke="#a6d9e5"><circle cx="542.6" cy="344.6" r="1.1"/><circle cx="581.8" cy="252.8" r="1.2"/><circle cx="615" cy="257.8" r="1.3"/><circle cx="624.4" cy="326.7" r="1.3"/><circle cx="529.2" cy="323.3" r="1.5"/><circle cx="599.4" cy="210.6" r="1.4"/><circle cx="603.2" cy="265.1" r="1"/><circle cx="579.3" cy="159.9" r="1.5"/><circle cx="577.2" cy="161.1" r="1.1"/><circle cx="623.9" cy="300.1" r="1"/></g><g stroke="#2b6fc0"><circle cx="486.7" cy="96.2" r="1.2"/><circle cx="502.9" cy="145.6" r="1.6"/><circle cx="514.4" cy="211.9" r="1.5"/><circle cx="523.1" cy="95.8" r="1.3"/><circle cx="505.2" cy="246.2" r="1"/><circle cx="497.5" cy="108.6" r="1.1"/><circle cx="499.5" cy="102" r="1.3"/><circle cx="625.9" cy="361.3" r="1.4"/><circle cx="513.4" cy="174.8" r="1"/><circle cx="504.3" cy="248.9" r="1"/></g><g stroke="#4ab8e6"><circle cx="531" cy="94.2" r="1.2"/><circle cx="546.1" cy="46.3" r="1.3"/><circle cx="416.1" cy="141" r="1.2"/><circle cx="552.2" cy="338.4" r="1"/><circle cx="484.9" cy="91.3" r="1.6"/><circle cx="560.9" cy="187.6" r="1.4"/><circle cx="519.5" cy="190.3" r="1.1"/><circle cx="514.4" cy="213.1" r="1.6"/><circle cx="615.7" cy="319.7" r="1.6"/><circle cx="488.8" cy="87.5" r="1"/></g><g stroke="#62c1e3"><circle cx="557.4" cy="294.4" r="1.4"/><circle cx="586.2" cy="67.4" r="1.5"/></g><g stroke="#8fd1e2"><circle cx="580.7" cy="340.9" r="1.3"/><circle cx="530.9" cy="81" r="1.4"/><circle cx="540" cy="103.8" r="1.1"/><circle cx="608.3" cy="332" r="1.6"/><circle cx="617.9" cy="348.3" r="1.4"/><circle cx="561.8" cy="265.2" r="1"/><circle cx="569.4" cy="79.8" r="1.3"/><circle cx="545.9" cy="167.3" r="1.1"/><circle cx="548.2" cy="82.7" r="1"/><circle cx="552.2" cy="118.3" r="1.5"/></g><g stroke="#38a8e4"><circle cx="552.4" cy="258.2" r="1.7"/><circle cx="542.2" cy="123.1" r="1.5"/><circle cx="500.7" cy="85.1" r="1.2"/><circle cx="538.2" cy="224" r="1"/><circle cx="538.7" cy="106.5" r="1"/><circle cx="514.1" cy="146.6" r="1"/><circle cx="578.1" cy="343.2" r="1.3"/><circle cx="551.6" cy="337.7" r="2.4"/><circle cx="563.6" cy="140.5" r="1.4"/><circle cx="567.5" cy="348.4" r="1.5"/></g><g stroke="#2f96df"><circle cx="531" cy="249.8" r="1.3"/><circle cx="527.4" cy="62.9" r="1"/><circle cx="470" cy="95.3" r="1.2"/><circle cx="590.4" cy="224.9" r="1.2"/><circle cx="526.2" cy="333.9" r="1.2"/><circle cx="465.8" cy="136.7" r="1.2"/><circle cx="518" cy="185.6" r="1.9"/><circle cx="538.5" cy="346.6" r="1.3"/></g><g stroke="#78c9e1"><circle cx="579.5" cy="312.3" r="1.4"/><circle cx="556.4" cy="98.5" r="1.2"/><circle cx="478.8" cy="129.4" r="2"/><circle cx="633.2" cy="304.5" r="1.3"/><circle cx="579" cy="243.4" r="1.2"/><circle cx="415.3" cy="165.5" r="1.4"/><circle cx="488.7" cy="89.7" r="1.2"/><circle cx="547.2" cy="347.1" r="2.4"/><circle cx="470.6" cy="239.5" r="1.7"/><circle cx="519.9" cy="179.8" r="1.3"/></g><g stroke="#62c1e3"><circle cx="516.6" cy="291" r="1.3"/><circle cx="549.3" cy="146.3" r="1.5"/><circle cx="594.6" cy="267.6" r="1.2"/><circle cx="563.5" cy="49.4" r="1.2"/><circle cx="491.2" cy="101.1" r="1"/><circle cx="612.5" cy="293" r="1.2"/><circle cx="538.9" cy="67.9" r="1.2"/><circle cx="485.6" cy="93.1" r="1.6"/><circle cx="518.6" cy="227.6" r="1"/><circle cx="600.3" cy="210.1" r="1.2"/></g><g stroke="#4ab8e6"><circle cx="532.2" cy="98" r="1.2"/><circle cx="550.5" cy="65.5" r="1.1"/><circle cx="530.4" cy="51.7" r="1.5"/><circle cx="503.9" cy="88.9" r="1.1"/><circle cx="586.8" cy="312.6" r="1"/><circle cx="546.8" cy="44.7" r="1.2"/><circle cx="564.6" cy="126.8" r="1.4"/><circle cx="568.4" cy="118.5" r="1.6"/><circle cx="504.2" cy="145.9" r="1.7"/><circle cx="502.8" cy="94.3" r="1.4"/></g><g stroke="#78c9e1"><circle cx="597.8" cy="124.1" r="1.1"/><circle cx="582" cy="302" r="1.4"/><circle cx="511.3" cy="337.4" r="1.1"/><circle cx="521.7" cy="270.1" r="1.1"/><circle cx="614.2" cy="315" r="1.9"/><circle cx="622.2" cy="320.2" r="1.2"/><circle cx="550.1" cy="225.4" r="1.6"/><circle cx="581.6" cy="340.2" r="1.2"/><circle cx="591.1" cy="341.2" r="1.7"/><circle cx="521.4" cy="331.5" r="1.3"/></g><g stroke="#8fd1e2"><circle cx="541.7" cy="346.1" r="1"/><circle cx="577.5" cy="161.7" r="1.6"/><circle cx="538.8" cy="342.9" r="1.5"/><circle cx="584.8" cy="274.3" r="1"/><circle cx="578" cy="269.4" r="1"/><circle cx="621.1" cy="340.7" r="1.1"/><circle cx="588.4" cy="346.3" r="1"/><circle cx="602.4" cy="219" r="2"/><circle cx="558.6" cy="273.1" r="1.8"/><circle cx="579" cy="177.5" r="1.4"/></g><g stroke="#62c1e3"><circle cx="540.5" cy="348.3" r="1.4"/><circle cx="539.2" cy="323.3" r="1.3"/><circle cx="470.6" cy="93.2" r="1.1"/><circle cx="617.9" cy="351.6" r="3"/><circle cx="499.8" cy="202" r="1"/><circle cx="431.2" cy="239.2" r="1.3"/><circle cx="555.5" cy="335.7" r="1"/><circle cx="630.3" cy="346.6" r="1.1"/><circle cx="610.9" cy="319.7" r="1.2"/><circle cx="596.2" cy="222" r="1"/></g><g stroke="#2f84d2"><circle cx="556.3" cy="159.7" r="1.5"/><circle cx="438.3" cy="232.2" r="1.2"/><circle cx="555.6" cy="287.8" r="1"/><circle cx="535.7" cy="194.3" r="1"/><circle cx="532.1" cy="66" r="1.3"/><circle cx="522.6" cy="334.2" r="2"/><circle cx="554.4" cy="285.1" r="1.6"/><circle cx="584.1" cy="160.9" r="1.9"/><circle cx="506.1" cy="165.6" r="1.5"/><circle cx="554.5" cy="105.3" r="1.2"/></g><g stroke="#a6d9e5"><circle cx="563.4" cy="329" r="1.3"/><circle cx="598.6" cy="354.1" r="1.1"/><circle cx="526.8" cy="324.1" r="1"/><circle cx="607.8" cy="330.5" r="1.1"/><circle cx="593.4" cy="260.2" r="1.6"/><circle cx="624.7" cy="334.7" r="1.1"/><circle cx="576.3" cy="29.7" r="1.7"/><circle cx="596.1" cy="298.1" r="1.5"/><circle cx="573.6" cy="149.9" r="1.3"/><circle cx="575.6" cy="118.8" r="1"/><circle cx="538.8" cy="324.8" r="1"/><circle cx="600.4" cy="272" r="1.4"/><circle cx="512.8" cy="312.3" r="1.5"/></g><g stroke="#2a5fae"><circle cx="535" cy="109.2" r="1.5"/><circle cx="492.4" cy="103.6" r="2.2"/><circle cx="555.5" cy="335.8" r="2.1"/><circle cx="552.4" cy="233" r="1.1"/></g><g stroke="#2b6fc0"><circle cx="579.6" cy="160.9" r="1.2"/><circle cx="500" cy="76.3" r="1.3"/><circle cx="507" cy="216.9" r="1.1"/><circle cx="582.2" cy="165.7" r="1.4"/><circle cx="545.1" cy="83" r="1.1"/><circle cx="552.4" cy="286.2" r="1.2"/><circle cx="428" cy="230.9" r="2.1"/><circle cx="533.7" cy="340.8" r="1.4"/><circle cx="583.8" cy="268.5" r="1"/><circle cx="515.2" cy="328.3" r="1"/></g><g stroke="#8fd1e2"><circle cx="567.5" cy="153.1" r="1.1"/><circle cx="594.5" cy="298.8" r="1.2"/><circle cx="569.6" cy="327.7" r="1.3"/><circle cx="602.3" cy="264.7" r="1.4"/><circle cx="582.9" cy="263.7" r="1.2"/><circle cx="627.1" cy="228.1" r="1.4"/><circle cx="528.9" cy="337.4" r="1.4"/><circle cx="548" cy="342.8" r="1.3"/><circle cx="618.3" cy="342.5" r="1.4"/><circle cx="636.9" cy="301" r="1.2"/></g><g stroke="#78c9e1"><circle cx="565.7" cy="186.5" r="1.2"/><circle cx="510.3" cy="159.3" r="1.1"/><circle cx="556.9" cy="343.3" r="1.3"/><circle cx="604.6" cy="271.7" r="1.4"/><circle cx="614.9" cy="343.1" r="2.8"/><circle cx="619.2" cy="327.5" r="1"/><circle cx="526.9" cy="219.5" r="1.4"/><circle cx="596.7" cy="188.8" r="1.5"/><circle cx="461" cy="153.7" r="1"/><circle cx="626.8" cy="274.3" r="1.2"/></g><g stroke="#38a8e4"><circle cx="490.5" cy="92.5" r="1.5"/><circle cx="596.2" cy="342.3" r="1.1"/><circle cx="555.9" cy="125.2" r="1.3"/><circle cx="446.1" cy="152.8" r="1"/><circle cx="523.3" cy="97.7" r="1"/></g></g>
<g clip-path="url(#cc)" fill="none" stroke-width="1.2"><g stroke="#f05e23"><circle cx="421.2" cy="201.2" r="1.8"/><circle cx="438.6" cy="203" r="1.5"/><circle cx="441.5" cy="189.4" r="1.6"/><circle cx="416.2" cy="217.6" r="2"/><circle cx="424.9" cy="188" r="1.2"/><circle cx="442.1" cy="185.4" r="2.1"/><circle cx="422.6" cy="179.3" r="1.3"/><circle cx="426.4" cy="151.1" r="1.5"/><circle cx="458.3" cy="155.7" r="1.6"/><circle cx="468.5" cy="156.7" r="1.2"/><circle cx="468.1" cy="149.6" r="1.9"/><circle cx="476.4" cy="153.7" r="1.6"/><circle cx="484.1" cy="111.5" r="2"/><circle cx="478.6" cy="163.6" r="2.3"/><circle cx="494" cy="131.6" r="1.2"/><circle cx="501.3" cy="136.9" r="1.2"/><circle cx="504.2" cy="137.8" r="1.2"/><circle cx="489.7" cy="154.2" r="2.1"/><circle cx="508.3" cy="187.6" r="1.3"/><circle cx="491.4" cy="206.2" r="1.5"/><circle cx="499.2" cy="132.7" r="1.5"/><circle cx="511.5" cy="159" r="1.4"/><circle cx="499.6" cy="217.6" r="1.5"/><circle cx="436.5" cy="267.3" r="2.8"/><circle cx="475.2" cy="207.6" r="1.8"/><circle cx="454.4" cy="233.9" r="1.3"/><circle cx="461.3" cy="276.5" r="1.4"/><circle cx="482.4" cy="229" r="1.3"/><circle cx="496.4" cy="221.6" r="2.6"/><circle cx="507" cy="201.1" r="1.2"/><circle cx="473.4" cy="291.7" r="1.2"/><circle cx="458.8" cy="285.1" r="1.2"/><circle cx="462.7" cy="276.2" r="1.5"/><circle cx="485.3" cy="317.2" r="1.2"/><circle cx="430.6" cy="240.5" r="1.4"/><circle cx="423.8" cy="224.9" r="1.8"/><circle cx="469.4" cy="99.1" r="1.4"/><circle cx="438.2" cy="117" r="1.8"/><circle cx="550.3" cy="192.7" r="1.3"/><circle cx="545.9" cy="280.9" r="1.4"/></g><g stroke="#f5dc38"><circle cx="504.7" cy="244.3" r="1.5"/><circle cx="501.3" cy="232.3" r="1.2"/><circle cx="427.4" cy="278.3" r="1.4"/><circle cx="435.7" cy="246.3" r="1.6"/></g><g stroke="#f58520"><circle cx="424.6" cy="162.3" r="1.2"/><circle cx="409.1" cy="181.7" r="1.4"/><circle cx="444.7" cy="208.7" r="1.2"/><circle cx="431.6" cy="204.2" r="1.3"/><circle cx="435.2" cy="206.9" r="2.6"/><circle cx="449.7" cy="219.5" r="3.4"/><circle cx="422.8" cy="187.8" r="1.3"/><circle cx="444.4" cy="140.5" r="1.4"/><circle cx="460.6" cy="156.4" r="1.7"/><circle cx="463.9" cy="143.6" r="1.6"/><circle cx="436" cy="136.1" r="1.2"/><circle cx="470.8" cy="122.9" r="1.2"/><circle cx="432.1" cy="219" r="1.4"/><circle cx="458.7" cy="211.2" r="1.5"/><circle cx="477.2" cy="215.3" r="1.3"/><circle cx="459" cy="243.5" r="2"/><circle cx="501.8" cy="224.8" r="1.6"/><circle cx="439.8" cy="278.8" r="1.3"/><circle cx="426.5" cy="284.1" r="1.8"/><circle cx="456.5" cy="297.8" r="1.9"/><circle cx="468.9" cy="309.1" r="1.3"/><circle cx="473.9" cy="301.4" r="1.4"/><circle cx="462.9" cy="295" r="1.3"/><circle cx="456" cy="287.4" r="2.9"/><circle cx="457.6" cy="295.1" r="1.2"/><circle cx="473.6" cy="322.3" r="2.8"/><circle cx="417.8" cy="239.1" r="1.3"/><circle cx="433" cy="258" r="1.4"/><circle cx="395.2" cy="130.1" r="1.3"/><circle cx="571.8" cy="242.3" r="1.7"/></g><g stroke="#f7ba28"><circle cx="426.7" cy="192.3" r="2.8"/><circle cx="411.3" cy="149.7" r="1.4"/><circle cx="403.3" cy="158.2" r="1.4"/><circle cx="484" cy="198.1" r="1.7"/><circle cx="496.8" cy="253" r="1.8"/><circle cx="428.4" cy="228" r="2.7"/><circle cx="442.4" cy="223.8" r="1.7"/><circle cx="435.5" cy="280.4" r="1.6"/></g><g stroke="#f7a821"><circle cx="423.9" cy="196.6" r="1.5"/><circle cx="402.7" cy="142.4" r="3.4"/><circle cx="477.2" cy="172.8" r="1.5"/><circle cx="480.9" cy="176.9" r="2.1"/><circle cx="507.9" cy="183.5" r="1.5"/><circle cx="499.4" cy="125.8" r="1.6"/><circle cx="467.6" cy="261.3" r="2"/><circle cx="501.6" cy="233" r="1.2"/><circle cx="423.2" cy="281.6" r="1.4"/><circle cx="444" cy="284.1" r="1.5"/><circle cx="430.9" cy="292" r="1.3"/><circle cx="430.6" cy="279.9" r="1.4"/></g><g stroke="#f7961f"><circle cx="431.3" cy="174.4" r="1.3"/><circle cx="432.9" cy="149" r="1.3"/><circle cx="411.2" cy="176" r="1.4"/><circle cx="490.2" cy="185.8" r="1.5"/><circle cx="492.9" cy="155.1" r="2.5"/><circle cx="441.1" cy="227.5" r="1.5"/><circle cx="461.4" cy="245.2" r="1.3"/><circle cx="468.9" cy="246.1" r="1.6"/><circle cx="427.8" cy="292.5" r="1.5"/><circle cx="439.2" cy="276.2" r="1.3"/><circle cx="477.1" cy="300.2" r="2.2"/><circle cx="435.1" cy="274.8" r="2.4"/><circle cx="569.9" cy="178.2" r="2.1"/><circle cx="608.4" cy="174.6" r="1.2"/><circle cx="550.3" cy="95.4" r="1.7"/></g><g stroke="#f7cc2f"><circle cx="458.4" cy="273.6" r="2.9"/><circle cx="476" cy="293.1" r="1.8"/><circle cx="579.4" cy="162.5" r="1.9"/></g><g stroke="#e5222a"><circle cx="416.8" cy="163.5" r="1.4"/><circle cx="427.8" cy="168.6" r="1.3"/><circle cx="427.1" cy="199.3" r="1.5"/><circle cx="409.4" cy="232" r="2.9"/><circle cx="408.1" cy="184.2" r="1.2"/><circle cx="428.3" cy="232.9" r="1.6"/><circle cx="414.3" cy="207.7" r="1.5"/><circle cx="422.2" cy="169" r="1.2"/><circle cx="413.9" cy="167.1" r="1.4"/><circle cx="416.6" cy="163.7" r="1.3"/><circle cx="401.4" cy="161.6" r="2.4"/><circle cx="445.6" cy="157.1" r="1.2"/><circle cx="455.3" cy="150.1" r="1.9"/><circle cx="461" cy="144" r="1.8"/><circle cx="437.2" cy="159" r="2.5"/><circle cx="455.1" cy="141.2" r="1.5"/><circle cx="475.7" cy="136.8" r="2.2"/><circle cx="457.9" cy="139.9" r="1.9"/><circle cx="441.3" cy="158" r="1.3"/><circle cx="476" cy="128.1" r="1.2"/><circle cx="490.1" cy="172.6" r="1.2"/><circle cx="479.9" cy="138.3" r="1.5"/><circle cx="485.5" cy="135.3" r="1.2"/><circle cx="464.8" cy="198.6" r="1.4"/><circle cx="498.4" cy="130.5" r="1.2"/><circle cx="493.5" cy="117.8" r="1.5"/><circle cx="499.4" cy="149.3" r="1.6"/><circle cx="487.5" cy="143.8" r="1.4"/><circle cx="488.9" cy="115.8" r="1.3"/><circle cx="496.7" cy="139.9" r="1.6"/><circle cx="514.4" cy="193.3" r="1.2"/><circle cx="450.1" cy="200.8" r="1.2"/><circle cx="475.7" cy="226.4" r="1.2"/><circle cx="423.3" cy="270" r="1.2"/><circle cx="460.5" cy="224.7" r="1.2"/><circle cx="476.2" cy="265.9" r="1.9"/><circle cx="434.6" cy="243.4" r="1.3"/><circle cx="483" cy="222.1" r="1.8"/><circle cx="473.2" cy="252.9" r="1.4"/><circle cx="444.6" cy="219.5" r="1.2"/><circle cx="491.4" cy="248.7" r="1.4"/><circle cx="427.6" cy="245.3" r="2.3"/><circle cx="443.1" cy="274.4" r="2.9"/><circle cx="466.2" cy="281" r="1.5"/><circle cx="475.4" cy="291.6" r="1.8"/><circle cx="452.6" cy="272.2" r="1.5"/><circle cx="458.2" cy="302.2" r="1.6"/><circle cx="459.2" cy="271.7" r="1.4"/><circle cx="487.1" cy="304.5" r="2.6"/><circle cx="434.5" cy="259.5" r="1.3"/><circle cx="489.1" cy="108" r="1.5"/><circle cx="478.8" cy="134.7" r="3.2"/><circle cx="468.9" cy="124.3" r="1.5"/><circle cx="469.8" cy="113.8" r="1.8"/><circle cx="455" cy="114" r="2.2"/><circle cx="584.8" cy="249.1" r="1.2"/><circle cx="545.3" cy="233.6" r="1.6"/><circle cx="568.4" cy="184.6" r="1.2"/><circle cx="432.2" cy="235.3" r="1.6"/><circle cx="445.2" cy="261.7" r="2.2"/></g><g stroke="#f0e84c"><circle cx="421.7" cy="206.9" r="1.2"/><circle cx="431" cy="193.1" r="1.4"/><circle cx="419.4" cy="275.4" r="2"/><circle cx="430" cy="285.5" r="1.4"/></g><g stroke="#f37321"><circle cx="427.1" cy="191.3" r="1.5"/><circle cx="431.8" cy="184.4" r="1.9"/><circle cx="417.8" cy="156" r="1.6"/><circle cx="417.3" cy="153.9" r="1.3"/><circle cx="461.2" cy="180.6" r="1.8"/><circle cx="453" cy="144.7" r="1.3"/><circle cx="479" cy="141.7" r="1.6"/><circle cx="467.8" cy="147.6" r="1.3"/><circle cx="501.7" cy="135.5" r="1.5"/><circle cx="504.5" cy="150.6" r="1.4"/><circle cx="479.1" cy="133.3" r="1.7"/><circle cx="523.5" cy="142" r="1.6"/><circle cx="498.1" cy="197.1" r="2.1"/><circle cx="467.8" cy="246.1" r="1.2"/><circle cx="420.5" cy="235.2" r="3.1"/><circle cx="470.7" cy="224.8" r="1.4"/><circle cx="454.1" cy="256.8" r="1.4"/><circle cx="474.3" cy="242.7" r="2"/><circle cx="505.3" cy="224.9" r="1.6"/><circle cx="448.4" cy="276.9" r="1.5"/><circle cx="464.7" cy="286.8" r="1.5"/><circle cx="475.6" cy="305.6" r="2.2"/><circle cx="461.9" cy="316.8" r="2.1"/><circle cx="451.7" cy="98.4" r="2.3"/><circle cx="578.4" cy="246.4" r="1.7"/><circle cx="546" cy="191.2" r="2.3"/><circle cx="552.2" cy="225.3" r="1.7"/></g><g stroke="#ec4a26"><circle cx="425.8" cy="168.2" r="1.5"/><circle cx="416.2" cy="164.7" r="1.9"/><circle cx="433.3" cy="182.7" r="1.3"/><circle cx="431.4" cy="220.7" r="1.3"/><circle cx="427.9" cy="192.6" r="1.5"/><circle cx="427.9" cy="195.6" r="1.3"/><circle cx="415.9" cy="179.3" r="1.2"/><circle cx="436.6" cy="145" r="1.2"/><circle cx="464.2" cy="129.6" r="1.7"/><circle cx="457.6" cy="149.1" r="1.8"/><circle cx="459.2" cy="150" r="2.3"/><circle cx="452.4" cy="139.8" r="1.3"/><circle cx="460.7" cy="179.6" r="1.2"/><circle cx="482.2" cy="166" r="1.7"/><circle cx="467.6" cy="114.6" r="1.5"/><circle cx="504.6" cy="159.7" r="1.6"/><circle cx="493.5" cy="165.1" r="2.1"/><circle cx="453.3" cy="237.6" r="1.4"/><circle cx="496.4" cy="250.6" r="1.4"/><circle cx="462.1" cy="215.4" r="1.7"/><circle cx="465.3" cy="265" r="1.8"/><circle cx="490.2" cy="227.8" r="1.2"/><circle cx="510.1" cy="222.7" r="1.3"/><circle cx="512.4" cy="213.8" r="2.1"/><circle cx="456.8" cy="288.3" r="2"/><circle cx="452.2" cy="291.7" r="1.9"/><circle cx="479.7" cy="303" r="3"/><circle cx="472.6" cy="310.3" r="1.4"/><circle cx="449.4" cy="284.9" r="2.8"/><circle cx="467.1" cy="313.8" r="1.6"/><circle cx="439.6" cy="241.7" r="2.1"/><circle cx="463.4" cy="137.3" r="1.2"/><circle cx="571.7" cy="252.4" r="1.2"/><circle cx="564.2" cy="258.3" r="1.5"/><circle cx="589.4" cy="104.1" r="1.2"/><circle cx="585.6" cy="118.8" r="1.7"/></g><g stroke="#e8352a"><circle cx="422.9" cy="192.5" r="1.2"/><circle cx="426.1" cy="207.4" r="1.3"/><circle cx="438.3" cy="174.6" r="1.3"/><circle cx="421.5" cy="192.3" r="1.8"/><circle cx="411" cy="169.9" r="1.5"/><circle cx="424.6" cy="176.1" r="1.4"/><circle cx="444.9" cy="217.5" r="1.6"/><circle cx="420.8" cy="160" r="1.3"/><circle cx="442.4" cy="146.3" r="1.5"/><circle cx="466.5" cy="149.7" r="1.3"/><circle cx="469" cy="137.9" r="1.4"/><circle cx="492.8" cy="211.4" r="1.3"/><circle cx="491.5" cy="176" r="1.7"/><circle cx="480.4" cy="170.7" r="1.4"/><circle cx="483.2" cy="83.6" r="1.2"/><circle cx="471.4" cy="146.4" r="1.7"/><circle cx="476.3" cy="188.9" r="1.8"/><circle cx="509.4" cy="157.4" r="2.5"/><circle cx="504.2" cy="134.1" r="1.2"/><circle cx="494.6" cy="135.6" r="1.5"/><circle cx="502.3" cy="140" r="1.4"/><circle cx="531.8" cy="172.1" r="1.2"/><circle cx="464.2" cy="240.3" r="1.2"/><circle cx="471.1" cy="276.9" r="1.7"/><circle cx="484.1" cy="230.8" r="1.5"/><circle cx="469.2" cy="218.9" r="2.7"/><circle cx="500.7" cy="264.9" r="1.6"/><circle cx="434.9" cy="205.8" r="1.2"/><circle cx="492.6" cy="204.9" r="1.9"/><circle cx="429.9" cy="279.2" r="1.7"/><circle cx="426.2" cy="290.2" r="1.2"/><circle cx="451.2" cy="298.7" r="1.5"/><circle cx="470.8" cy="296.1" r="1.6"/><circle cx="458.6" cy="287.9" r="1.9"/><circle cx="450.6" cy="270.1" r="1.9"/><circle cx="457.9" cy="296.6" r="1.4"/><circle cx="455.7" cy="292.7" r="1.2"/><circle cx="460.8" cy="295.4" r="1.8"/><circle cx="471.8" cy="294.4" r="1.6"/><circle cx="444.9" cy="268.3" r="1.7"/><circle cx="454.1" cy="114.2" r="2.4"/><circle cx="609.1" cy="174.2" r="1.3"/><circle cx="543.3" cy="221.9" r="1.2"/><circle cx="458.7" cy="222.5" r="2.2"/><circle cx="428.2" cy="197.7" r="2"/><circle cx="436.7" cy="229.4" r="1.7"/><circle cx="437.1" cy="176.5" r="1.3"/><circle cx="412" cy="148.2" r="1.8"/><circle cx="462" cy="143" r="1.2"/><circle cx="438.4" cy="159.9" r="1.8"/><circle cx="479.1" cy="203.9" r="1.5"/><circle cx="500.2" cy="123.7" r="1.3"/><circle cx="498.1" cy="154.2" r="1.7"/><circle cx="490.7" cy="255.9" r="1.2"/><circle cx="460.5" cy="304.7" r="1.2"/><circle cx="464" cy="327.9" r="2.6"/><circle cx="483.7" cy="327" r="1.3"/><circle cx="430.9" cy="264.6" r="1.7"/><circle cx="441.3" cy="250" r="1.4"/><circle cx="456.7" cy="123.9" r="1.4"/></g><g stroke="#f0e84c"><circle cx="418.7" cy="228.2" r="1.9"/><circle cx="496.8" cy="202.3" r="1.8"/><circle cx="492.3" cy="244.9" r="1.2"/><circle cx="443.3" cy="285.8" r="1.8"/><circle cx="441.6" cy="282.3" r="1.3"/></g><g stroke="#f7ba28"><circle cx="435.4" cy="177.8" r="2.2"/><circle cx="431.4" cy="180.8" r="1.6"/><circle cx="454.6" cy="219.3" r="1.4"/><circle cx="496.9" cy="225.2" r="1.9"/><circle cx="437.4" cy="285.8" r="2.6"/><circle cx="517.6" cy="264.5" r="1.4"/></g><g stroke="#ec4a26"><circle cx="447" cy="209" r="2.1"/><circle cx="451.7" cy="212.6" r="1.2"/><circle cx="416.3" cy="155.1" r="1.5"/><circle cx="407.7" cy="166.9" r="1.6"/><circle cx="451" cy="142.6" r="1.6"/><circle cx="463.7" cy="131.9" r="2.1"/><circle cx="481.2" cy="168.7" r="1.4"/><circle cx="501.8" cy="159" r="1.3"/><circle cx="472.7" cy="197.6" r="1.4"/><circle cx="488" cy="163.1" r="1.6"/><circle cx="480.1" cy="199.2" r="1.4"/><circle cx="481.3" cy="131" r="1.9"/><circle cx="502.6" cy="168.3" r="2.1"/><circle cx="511" cy="201.4" r="1.3"/><circle cx="519.4" cy="184.9" r="1.2"/><circle cx="463.2" cy="230.5" r="1.6"/><circle cx="522" cy="209.5" r="1.3"/><circle cx="511" cy="231.7" r="1.9"/><circle cx="432.3" cy="286.2" r="1.3"/><circle cx="479.3" cy="310.4" r="1.2"/><circle cx="476.3" cy="285.5" r="2.5"/><circle cx="577.4" cy="247.2" r="1.2"/></g><g stroke="#e5222a"><circle cx="420.9" cy="189.2" r="1.2"/><circle cx="414.2" cy="165.8" r="1.5"/><circle cx="412" cy="179.1" r="1.2"/><circle cx="415.8" cy="131.3" r="2.6"/><circle cx="416.6" cy="137.1" r="2.8"/><circle cx="450.9" cy="152" r="1.4"/><circle cx="462.5" cy="147.3" r="1.2"/><circle cx="494.4" cy="217.3" r="3.8"/><circle cx="475.7" cy="155.8" r="2.3"/><circle cx="479.9" cy="190.4" r="1.6"/><circle cx="493.5" cy="170.2" r="2.6"/><circle cx="492.9" cy="131.4" r="1.2"/><circle cx="487.8" cy="152.6" r="1.4"/><circle cx="507.1" cy="139.6" r="1.8"/><circle cx="453.5" cy="226" r="1.8"/><circle cx="471.3" cy="234.2" r="1.8"/><circle cx="499" cy="269.2" r="1.3"/><circle cx="457.3" cy="303.1" r="1.4"/><circle cx="461" cy="304.7" r="1.3"/><circle cx="442.3" cy="254.4" r="1.3"/><circle cx="454.7" cy="93.4" r="1.7"/><circle cx="492.1" cy="102.5" r="1.3"/><circle cx="445.5" cy="98.5" r="1.5"/><circle cx="548.8" cy="261.8" r="1.2"/><circle cx="554.9" cy="213.6" r="2.6"/><circle cx="571.5" cy="75.1" r="2.5"/></g><g stroke="#f7a821"><circle cx="442.5" cy="206.8" r="2.2"/><circle cx="435.8" cy="192.9" r="1.6"/><circle cx="412.1" cy="135.9" r="2.2"/><circle cx="458.6" cy="159.1" r="2.1"/><circle cx="468.7" cy="165.3" r="1.3"/><circle cx="487.2" cy="184.3" r="2.2"/><circle cx="465.5" cy="254.3" r="1.3"/><circle cx="436.3" cy="279" r="1.6"/><circle cx="470.2" cy="291.9" r="1.2"/><circle cx="456.9" cy="282.3" r="1.5"/><circle cx="563.3" cy="254" r="1.9"/></g><g stroke="#f7cc2f"><circle cx="427.5" cy="228.9" r="1.5"/><circle cx="427.7" cy="210.4" r="2.2"/><circle cx="510.3" cy="190.8" r="1.7"/><circle cx="465.9" cy="245.1" r="3"/></g><g stroke="#f5dc38"><circle cx="398.1" cy="163.4" r="1.3"/><circle cx="506" cy="178.6" r="1.7"/><circle cx="495.4" cy="238.4" r="1.3"/><circle cx="505.4" cy="211.4" r="2.5"/></g><g stroke="#f7961f"><circle cx="435.5" cy="195.7" r="1.5"/><circle cx="424.8" cy="196.5" r="1.2"/><circle cx="427.3" cy="194.4" r="1.7"/><circle cx="442.8" cy="219.7" r="2.4"/><circle cx="408" cy="169.8" r="1.5"/><circle cx="442.2" cy="213.7" r="1.2"/><circle cx="416.5" cy="138.4" r="1.3"/><circle cx="429.9" cy="290" r="1.3"/><circle cx="425.2" cy="284.1" r="2.8"/><circle cx="437" cy="282.6" r="1.5"/><circle cx="576.8" cy="243" r="1.4"/><circle cx="573.6" cy="182.7" r="1.7"/></g><g stroke="#f37321"><circle cx="430.4" cy="192.4" r="1.8"/><circle cx="427.9" cy="185.6" r="2.2"/><circle cx="416.3" cy="185.5" r="2"/><circle cx="445.4" cy="193.6" r="2.6"/><circle cx="444.3" cy="136.1" r="1.2"/><circle cx="457.3" cy="148.1" r="1.2"/><circle cx="454.6" cy="123.4" r="2"/><circle cx="494" cy="141.2" r="1.6"/><circle cx="498.9" cy="116.6" r="1.3"/><circle cx="506.2" cy="155.3" r="1.3"/><circle cx="487.8" cy="116.4" r="1.9"/><circle cx="432.8" cy="281.6" r="1.7"/><circle cx="470.1" cy="291" r="1.7"/><circle cx="447.8" cy="253" r="1.4"/><circle cx="482.1" cy="132.5" r="1.7"/><circle cx="549.2" cy="223.1" r="1.7"/></g><g stroke="#f05e23"><circle cx="420.5" cy="179.9" r="1.5"/><circle cx="409.9" cy="185.2" r="1.5"/><circle cx="418.3" cy="133.2" r="1.4"/><circle cx="478.3" cy="212.5" r="1.5"/><circle cx="488.5" cy="149.8" r="1.3"/><circle cx="490.6" cy="129.1" r="1.5"/><circle cx="482.7" cy="233.5" r="1.4"/><circle cx="455.7" cy="244" r="1.8"/><circle cx="493.9" cy="227.1" r="1.2"/><circle cx="438.8" cy="287.9" r="1.9"/><circle cx="454.2" cy="291.5" r="1.6"/><circle cx="471.3" cy="327.5" r="3.1"/><circle cx="452.3" cy="111.5" r="1.5"/><circle cx="478.2" cy="118.7" r="1.6"/><circle cx="569.1" cy="254.5" r="1.6"/><circle cx="550" cy="209.6" r="1.4"/></g><g stroke="#f58520"><circle cx="422.3" cy="206.2" r="1.2"/><circle cx="438.1" cy="159.6" r="1.2"/><circle cx="483.4" cy="182.3" r="1.8"/><circle cx="490.6" cy="133.5" r="1.2"/><circle cx="478.2" cy="287.5" r="1.2"/><circle cx="586.2" cy="253.3" r="2"/><circle cx="551.9" cy="190.2" r="1.5"/><circle cx="559.1" cy="179.2" r="1.3"/><circle cx="456.6" cy="237.6" r="1.5"/></g><g stroke="#e5222a"><circle cx="424.7" cy="190.5" r="1.2"/><circle cx="432.3" cy="218.5" r="1.2"/><circle cx="458.2" cy="170" r="1.4"/><circle cx="453.3" cy="157.3" r="1.5"/><circle cx="451.8" cy="134.6" r="1.5"/><circle cx="479.7" cy="177.3" r="1.4"/><circle cx="513.3" cy="197.2" r="1.4"/><circle cx="455.5" cy="231.5" r="1.4"/><circle cx="429.6" cy="252.6" r="2.4"/><circle cx="460.9" cy="300.2" r="2.3"/><circle cx="475.9" cy="321.9" r="3.5"/><circle cx="499.1" cy="132.3" r="1.6"/><circle cx="575" cy="244.4" r="1.5"/><circle cx="477.6" cy="142.7" r="2"/></g><g stroke="#f7cc2f"><circle cx="420.2" cy="167.6" r="1.6"/><circle cx="423.9" cy="183" r="1.7"/><circle cx="429.9" cy="190.2" r="2.1"/><circle cx="421.7" cy="180.6" r="1.6"/><circle cx="440.7" cy="148.9" r="1.4"/><circle cx="407.4" cy="153.8" r="1.8"/><circle cx="413.2" cy="168.6" r="1.3"/><circle cx="421.4" cy="163" r="1.7"/><circle cx="434.7" cy="282.9" r="1.2"/><circle cx="437.7" cy="270.4" r="1.6"/><circle cx="412.7" cy="281.3" r="1.8"/></g><g stroke="#f37321"><circle cx="448.8" cy="211.9" r="1.3"/><circle cx="422.7" cy="221.9" r="1.3"/><circle cx="426.7" cy="160.9" r="1.9"/><circle cx="413.8" cy="141.1" r="1.3"/><circle cx="408.2" cy="167.4" r="2"/><circle cx="467" cy="128.1" r="2"/><circle cx="494.4" cy="189.6" r="1.3"/><circle cx="493.1" cy="182.4" r="1.2"/><circle cx="481.6" cy="163.6" r="1.2"/><circle cx="528.8" cy="146.1" r="1.9"/><circle cx="504" cy="135.7" r="1.6"/><circle cx="468.2" cy="227.4" r="1.3"/><circle cx="501.6" cy="213.3" r="1.6"/><circle cx="449.7" cy="281.4" r="1.2"/><circle cx="434" cy="267.2" r="1.5"/><circle cx="435.9" cy="253.8" r="1.9"/><circle cx="572.2" cy="243.6" r="1.7"/><circle cx="589" cy="153.3" r="1.7"/><circle cx="547.7" cy="202.7" r="1.5"/></g><g stroke="#f7a821"><circle cx="425" cy="180" r="2"/><circle cx="476.4" cy="156.6" r="2.2"/><circle cx="455.3" cy="162.7" r="1.2"/><circle cx="459.7" cy="158.2" r="1.5"/><circle cx="504.6" cy="148.8" r="3.1"/><circle cx="515.3" cy="205.2" r="1.6"/><circle cx="443.8" cy="289.3" r="1.4"/><circle cx="424.1" cy="277.8" r="1.3"/><circle cx="473.5" cy="289.4" r="1.6"/><circle cx="471.6" cy="283.5" r="1.4"/></g><g stroke="#ec4a26"><circle cx="434.4" cy="208" r="1.3"/><circle cx="434.4" cy="193.9" r="2"/><circle cx="438.5" cy="222.8" r="1.3"/><circle cx="415.3" cy="154.8" r="1.6"/><circle cx="461.2" cy="156.5" r="1.2"/><circle cx="484.9" cy="193.4" r="1.5"/><circle cx="480.3" cy="218.6" r="1.2"/><circle cx="458.5" cy="256.1" r="1.6"/><circle cx="504.7" cy="206.9" r="1.3"/><circle cx="462.3" cy="294.7" r="1.7"/><circle cx="446.4" cy="300.2" r="1.4"/><circle cx="464.4" cy="290.9" r="1.5"/><circle cx="482.8" cy="241.9" r="1.3"/></g><g stroke="#f58520"><circle cx="442.2" cy="174" r="1.5"/><circle cx="409" cy="178.7" r="2"/><circle cx="405.9" cy="213.1" r="1.7"/><circle cx="424.9" cy="178.6" r="1.4"/><circle cx="437.4" cy="140.8" r="1.7"/><circle cx="491.5" cy="201.1" r="1.2"/><circle cx="504.9" cy="137.8" r="1.5"/><circle cx="485.8" cy="219.3" r="1.4"/><circle cx="466.3" cy="273.4" r="1.7"/><circle cx="496.4" cy="243.6" r="1.3"/><circle cx="508.6" cy="205" r="1.8"/><circle cx="435.9" cy="275.8" r="1.3"/><circle cx="479.3" cy="306.8" r="2.3"/><circle cx="482.9" cy="310.9" r="1.8"/><circle cx="431.4" cy="267.3" r="1.6"/><circle cx="414.8" cy="100.8" r="1.9"/></g><g stroke="#f0e84c"><circle cx="430.2" cy="171.8" r="1.6"/><circle cx="422.9" cy="191.4" r="1.6"/><circle cx="432.5" cy="194.4" r="1.6"/><circle cx="427.1" cy="191.9" r="1.4"/><circle cx="444.4" cy="216" r="1.4"/><circle cx="413.7" cy="166.9" r="1.9"/><circle cx="421.3" cy="274.5" r="1.5"/></g><g stroke="#f7961f"><circle cx="432.2" cy="179.3" r="2.3"/><circle cx="428.2" cy="184.4" r="1.2"/><circle cx="438.2" cy="153.3" r="1.2"/><circle cx="432.7" cy="174.1" r="1.2"/><circle cx="417.1" cy="163.9" r="2.3"/><circle cx="412.4" cy="153.9" r="2"/><circle cx="484.4" cy="128.6" r="1.4"/><circle cx="525" cy="242.6" r="1.4"/><circle cx="508.8" cy="158.3" r="1.6"/><circle cx="466.6" cy="258.8" r="1.2"/><circle cx="464.2" cy="251.4" r="1.4"/><circle cx="442.5" cy="230.1" r="1.2"/><circle cx="448.5" cy="204.4" r="1.2"/><circle cx="511" cy="208.5" r="1.8"/><circle cx="500.4" cy="217.7" r="1.6"/><circle cx="505.7" cy="222.8" r="1.8"/><circle cx="510.8" cy="231.6" r="2.9"/><circle cx="436.7" cy="275.8" r="1.4"/><circle cx="426.5" cy="284.3" r="1.6"/><circle cx="428.7" cy="274.2" r="1.9"/><circle cx="431.9" cy="272" r="1.8"/><circle cx="469.9" cy="293.9" r="1.2"/><circle cx="475.2" cy="288.2" r="1.4"/><circle cx="460.2" cy="279.3" r="1.8"/><circle cx="513.5" cy="94" r="1.4"/><circle cx="569.8" cy="254.5" r="1.5"/></g><g stroke="#f05e23"><circle cx="450.2" cy="221.2" r="1.2"/><circle cx="444.5" cy="150.8" r="2"/><circle cx="419.7" cy="176.2" r="1.2"/><circle cx="400.2" cy="172" r="1.6"/><circle cx="412.1" cy="167.8" r="2.2"/><circle cx="449.4" cy="144.9" r="1.4"/><circle cx="464" cy="149.9" r="1.5"/><circle cx="474.1" cy="173.9" r="2.2"/><circle cx="477.2" cy="122.4" r="1.2"/><circle cx="474.4" cy="190.4" r="2.8"/><circle cx="501.4" cy="158.5" r="1.6"/><circle cx="502.9" cy="140.7" r="1.6"/><circle cx="431.5" cy="280.7" r="1.3"/><circle cx="438.5" cy="285.9" r="1.8"/><circle cx="473.2" cy="302.2" r="3.2"/><circle cx="481.2" cy="89.6" r="1.2"/><circle cx="548.3" cy="215.7" r="1.4"/><circle cx="572.1" cy="200.5" r="1.5"/><circle cx="456.7" cy="72.9" r="2.2"/></g><g stroke="#e8352a"><circle cx="416.7" cy="182.4" r="1.7"/><circle cx="458.2" cy="135.4" r="1.5"/><circle cx="456.6" cy="142.9" r="1.6"/><circle cx="449.4" cy="150.3" r="2.4"/><circle cx="520.3" cy="256.7" r="1.2"/><circle cx="462.9" cy="276" r="1.2"/><circle cx="439.2" cy="237.5" r="3.3"/><circle cx="463.9" cy="232.9" r="1.3"/><circle cx="467" cy="283.4" r="1.3"/><circle cx="485.9" cy="299.3" r="2.3"/><circle cx="480" cy="328.2" r="2.7"/><circle cx="427.8" cy="267" r="2"/><circle cx="460.4" cy="101.9" r="1.5"/><circle cx="461.5" cy="104.5" r="1.4"/><circle cx="540.7" cy="222.5" r="1.4"/><circle cx="537.8" cy="165.6" r="1.3"/></g><g stroke="#f7ba28"><circle cx="431.3" cy="206.3" r="1.2"/><circle cx="419.9" cy="177.8" r="1.4"/><circle cx="431.4" cy="226.5" r="2.7"/><circle cx="426.2" cy="176.1" r="1.2"/><circle cx="459.9" cy="145.2" r="2.1"/><circle cx="440.8" cy="287.6" r="2.6"/><circle cx="430.2" cy="279.9" r="1.4"/><circle cx="441.3" cy="286.4" r="1.6"/><circle cx="479" cy="328.8" r="3.1"/><circle cx="558.7" cy="193.9" r="2.3"/><circle cx="441.5" cy="284.1" r="3.4"/></g><g stroke="#f5dc38"><circle cx="457.7" cy="225.6" r="1.3"/><circle cx="492" cy="258.8" r="1.4"/><circle cx="425.3" cy="283.5" r="1.7"/><circle cx="480.3" cy="101.4" r="1.5"/><circle cx="582" cy="255" r="1.5"/></g><g stroke="#f0e84c"><circle cx="432.9" cy="208.9" r="1.2"/><circle cx="416.7" cy="214.5" r="1.7"/><circle cx="441.7" cy="212.9" r="1.5"/><circle cx="581.3" cy="168.7" r="1.3"/></g><g stroke="#f58520"><circle cx="436.9" cy="189.1" r="2"/><circle cx="439.2" cy="187" r="1.2"/><circle cx="433.7" cy="167.3" r="2.2"/><circle cx="414" cy="163" r="1.7"/><circle cx="445" cy="146.5" r="1.5"/><circle cx="465.6" cy="216.3" r="2.2"/><circle cx="485" cy="262.3" r="2.1"/><circle cx="484.1" cy="239.2" r="1.3"/><circle cx="428.2" cy="294.2" r="2"/><circle cx="472.2" cy="290.5" r="1.4"/><circle cx="489.6" cy="119.4" r="2.8"/><circle cx="443.4" cy="113.1" r="1.2"/><circle cx="573.9" cy="184" r="2.1"/><circle cx="518.2" cy="215.7" r="1.3"/></g><g stroke="#f5dc38"><circle cx="424.1" cy="176.3" r="1.4"/><circle cx="428.7" cy="155.5" r="1.7"/><circle cx="422.5" cy="215.4" r="2.7"/><circle cx="485.9" cy="137.7" r="1.6"/><circle cx="501.2" cy="214.3" r="1.3"/><circle cx="435.4" cy="281.7" r="1.4"/><circle cx="451.9" cy="300.7" r="1.5"/><circle cx="443.7" cy="257.7" r="1.5"/><circle cx="435.8" cy="85.9" r="1.7"/><circle cx="593" cy="186.6" r="1.8"/></g><g stroke="#ec4a26"><circle cx="409.2" cy="206.1" r="1.2"/><circle cx="412.8" cy="153" r="2.2"/><circle cx="456.7" cy="151.2" r="1.4"/><circle cx="474.9" cy="140.1" r="1.2"/><circle cx="491.5" cy="147.3" r="1.4"/><circle cx="483.9" cy="146.4" r="1.2"/><circle cx="520.6" cy="184.3" r="1.7"/><circle cx="508.1" cy="229.4" r="1.6"/><circle cx="518.2" cy="241.9" r="1.3"/><circle cx="491.3" cy="219.2" r="1.4"/><circle cx="498.9" cy="253.3" r="1.9"/><circle cx="456.5" cy="282.1" r="1.7"/><circle cx="476.7" cy="308.2" r="2"/><circle cx="470.5" cy="316.4" r="2.9"/><circle cx="570.2" cy="237.3" r="1.8"/><circle cx="574.1" cy="245.8" r="1.2"/><circle cx="576.3" cy="262.7" r="2"/><circle cx="558.3" cy="169.1" r="1.7"/></g><g stroke="#f7cc2f"><circle cx="428.6" cy="193.5" r="2.2"/><circle cx="433.6" cy="172.4" r="2"/><circle cx="437.4" cy="207.4" r="1.9"/><circle cx="416.2" cy="161.3" r="1.6"/><circle cx="514.3" cy="220.7" r="2.5"/><circle cx="503.8" cy="230.4" r="1.6"/><circle cx="444.4" cy="283.6" r="1.7"/><circle cx="433.2" cy="282.2" r="1.8"/><circle cx="420.5" cy="286.1" r="1.3"/><circle cx="471.4" cy="280.7" r="1.5"/><circle cx="457" cy="273.3" r="3.2"/><circle cx="487.6" cy="297.6" r="2.1"/><circle cx="453.3" cy="257.1" r="2.3"/><circle cx="547.3" cy="234.8" r="2.2"/></g><g stroke="#f7961f"><circle cx="442.5" cy="224.7" r="1.7"/><circle cx="428.4" cy="194" r="1.6"/><circle cx="422.9" cy="189.1" r="1.9"/><circle cx="437.4" cy="194.1" r="1.7"/><circle cx="447.9" cy="203.6" r="1.5"/><circle cx="413.8" cy="146.7" r="1.6"/><circle cx="410.9" cy="136.8" r="1.6"/><circle cx="452.3" cy="150.6" r="1.2"/><circle cx="459.8" cy="146.7" r="1.8"/><circle cx="483.8" cy="135.3" r="1.8"/><circle cx="505.2" cy="188.9" r="2.9"/><circle cx="431.9" cy="233.3" r="1.4"/><circle cx="462.8" cy="249.9" r="2.5"/><circle cx="494.2" cy="219.2" r="1.2"/><circle cx="432.3" cy="279.1" r="1.3"/><circle cx="431.1" cy="287.6" r="1.5"/><circle cx="458.2" cy="294.3" r="1.9"/><circle cx="481.7" cy="281.5" r="1.3"/><circle cx="447.8" cy="92.6" r="1.6"/><circle cx="572.2" cy="242" r="2.7"/><circle cx="537.1" cy="217.4" r="1.6"/><circle cx="453.2" cy="262" r="1.8"/></g><g stroke="#f7a821"><circle cx="428.9" cy="222" r="1.3"/><circle cx="440.1" cy="190.8" r="1.3"/><circle cx="409.4" cy="196.6" r="2.6"/><circle cx="417.7" cy="159.4" r="1.2"/><circle cx="419.9" cy="192.1" r="1.3"/><circle cx="447.1" cy="222.9" r="1.5"/><circle cx="482.4" cy="173.3" r="1.3"/><circle cx="455.8" cy="147.8" r="1.6"/><circle cx="445.9" cy="225.8" r="1.2"/><circle cx="457.2" cy="234.6" r="1.3"/><circle cx="429.7" cy="278.9" r="1.2"/><circle cx="442.2" cy="293.4" r="1.7"/><circle cx="439.4" cy="276.7" r="1.5"/><circle cx="435" cy="288.7" r="1.7"/><circle cx="432" cy="285.8" r="1.7"/><circle cx="436.1" cy="288.3" r="2"/><circle cx="446.2" cy="256.8" r="1.2"/><circle cx="572.6" cy="181.7" r="1.4"/><circle cx="561.1" cy="245.7" r="1.7"/></g><g stroke="#e8352a"><circle cx="419.9" cy="183.3" r="3.6"/><circle cx="422.6" cy="163.4" r="1.4"/><circle cx="420.5" cy="141.6" r="2.1"/><circle cx="452" cy="159.7" r="1.2"/><circle cx="454.4" cy="161.3" r="1.6"/><circle cx="449.5" cy="119.8" r="1.5"/><circle cx="467.3" cy="133.4" r="3.1"/><circle cx="489.5" cy="218.3" r="1.3"/><circle cx="485.5" cy="196.5" r="1.2"/><circle cx="475.8" cy="183.4" r="1.2"/><circle cx="495.2" cy="186.8" r="1.4"/><circle cx="500.2" cy="160.3" r="1.5"/><circle cx="464.4" cy="260.3" r="1.5"/><circle cx="507.5" cy="239.2" r="1.4"/><circle cx="429.2" cy="280.7" r="1.7"/><circle cx="455" cy="293.7" r="1.2"/><circle cx="473.5" cy="296.8" r="1.5"/><circle cx="476.3" cy="305" r="2.7"/><circle cx="466.9" cy="310.7" r="1.7"/><circle cx="419.2" cy="257.5" r="3"/><circle cx="496.2" cy="117.8" r="1.8"/><circle cx="450" cy="218" r="1.3"/><circle cx="530.9" cy="75" r="1.2"/></g><g stroke="#f37321"><circle cx="429.3" cy="166" r="1.8"/><circle cx="427.8" cy="188.2" r="1.5"/><circle cx="415.2" cy="164.7" r="1.3"/><circle cx="438.4" cy="176.5" r="1.4"/><circle cx="487.7" cy="135.9" r="1.9"/><circle cx="459.2" cy="269.5" r="3"/><circle cx="452.1" cy="223.7" r="2"/><circle cx="484.6" cy="209.7" r="1.3"/><circle cx="511.2" cy="229.9" r="1.6"/><circle cx="437.7" cy="284.3" r="1.5"/><circle cx="468.1" cy="279" r="1.9"/><circle cx="444" cy="143.8" r="1.6"/><circle cx="571.1" cy="249.6" r="1.9"/><circle cx="608.5" cy="170.9" r="2.1"/><circle cx="517.9" cy="216.2" r="1.2"/></g><g stroke="#f7ba28"><circle cx="433.6" cy="192.8" r="1.3"/><circle cx="460" cy="221.6" r="1.2"/><circle cx="413.8" cy="166.2" r="1.2"/><circle cx="415.6" cy="175.8" r="1.5"/><circle cx="461.6" cy="141.9" r="1.2"/><circle cx="468.7" cy="243.9" r="1.3"/><circle cx="473.8" cy="252.6" r="1.6"/><circle cx="432.9" cy="287.5" r="3.1"/><circle cx="442.6" cy="279.4" r="1.6"/><circle cx="440" cy="279.4" r="2.1"/><circle cx="441.2" cy="292.8" r="1.6"/><circle cx="431.6" cy="279.9" r="1.4"/><circle cx="434.5" cy="270.8" r="1.7"/><circle cx="453" cy="114.2" r="1.9"/><circle cx="573.7" cy="186.1" r="1.3"/></g><g stroke="#e5222a"><circle cx="437.3" cy="173.8" r="1.6"/><circle cx="410.2" cy="160.8" r="1.8"/><circle cx="462.3" cy="140.3" r="1.7"/><circle cx="473" cy="163.5" r="1.5"/><circle cx="498.7" cy="158.8" r="2.3"/><circle cx="461.3" cy="252.6" r="1.8"/><circle cx="511.8" cy="224.6" r="1.2"/><circle cx="507.9" cy="225.8" r="1.2"/><circle cx="502.5" cy="219.8" r="1.3"/><circle cx="442.2" cy="291.2" r="1.2"/><circle cx="483.5" cy="301.2" r="1.5"/><circle cx="475" cy="297" r="1.6"/><circle cx="470.5" cy="297.4" r="2.7"/><circle cx="475.3" cy="126.4" r="2.3"/><circle cx="608.6" cy="174.7" r="1.4"/><circle cx="534.4" cy="175.6" r="1.6"/><circle cx="542.3" cy="199.8" r="1.6"/><circle cx="583.9" cy="146.4" r="1.4"/></g><g stroke="#f05e23"><circle cx="427.3" cy="218.6" r="2"/><circle cx="417.8" cy="199" r="1.4"/><circle cx="408.5" cy="161" r="1.5"/><circle cx="433.7" cy="183.6" r="1.7"/><circle cx="407.7" cy="145.2" r="2.2"/><circle cx="455.2" cy="158.6" r="1.2"/><circle cx="449.8" cy="137.8" r="1.4"/><circle cx="482.2" cy="194.1" r="1.6"/><circle cx="515.5" cy="230.4" r="1.9"/><circle cx="431" cy="221.4" r="1.2"/><circle cx="493.1" cy="234.1" r="2"/><circle cx="483" cy="261.3" r="2"/><circle cx="430.1" cy="284.6" r="1.6"/><circle cx="437" cy="283.4" r="2.3"/><circle cx="476.8" cy="298.9" r="2.5"/><circle cx="475.8" cy="285.8" r="1.3"/><circle cx="459" cy="294.3" r="2.1"/><circle cx="468.6" cy="297.8" r="1.4"/><circle cx="434.6" cy="255" r="1.2"/><circle cx="486" cy="81.8" r="1.4"/></g><g stroke="#e8352a"><circle cx="425.7" cy="191.6" r="1.3"/><circle cx="425.3" cy="187.1" r="1.7"/><circle cx="430.5" cy="201.5" r="1.4"/><circle cx="414.2" cy="156.3" r="1.3"/><circle cx="406.1" cy="154.7" r="1.5"/><circle cx="470.9" cy="133.4" r="1.8"/><circle cx="483.7" cy="218.4" r="2.2"/><circle cx="472.6" cy="212.5" r="1.4"/><circle cx="492.1" cy="132.3" r="1.7"/><circle cx="490.7" cy="163.7" r="1.2"/><circle cx="440.7" cy="227.2" r="1.8"/><circle cx="477.2" cy="256.3" r="1.7"/><circle cx="450.5" cy="236.1" r="1.3"/><circle cx="422.2" cy="228.1" r="1.2"/><circle cx="455" cy="292.9" r="1.2"/><circle cx="504.4" cy="124.9" r="2.9"/><circle cx="595.3" cy="200.4" r="1.2"/><circle cx="561.8" cy="243.7" r="1.2"/><circle cx="461.1" cy="238.8" r="1.5"/></g><g stroke="#2a5fae"><circle cx="449.9" cy="186.8" r="1.2"/><circle cx="448.2" cy="135.7" r="1.6"/><circle cx="447.2" cy="156.4" r="1.4"/><circle cx="448.7" cy="216.3" r="1.4"/><circle cx="444.6" cy="196.5" r="1.8"/><circle cx="469.7" cy="153.6" r="1.9"/></g><g stroke="#f7cc2f"><circle cx="421.2" cy="231.2" r="3"/><circle cx="457.2" cy="223.2" r="1.6"/><circle cx="439.7" cy="185" r="1.7"/><circle cx="425" cy="185.4" r="1.7"/><circle cx="450.9" cy="205.4" r="2.1"/><circle cx="462.7" cy="71.6" r="2.9"/><circle cx="497.2" cy="132.2" r="2"/><circle cx="432.7" cy="218.1" r="1.8"/><circle cx="467.2" cy="235.8" r="1.2"/><circle cx="498.2" cy="221.1" r="1.8"/><circle cx="424.5" cy="287.2" r="1.2"/><circle cx="439.5" cy="289.6" r="1.9"/><circle cx="434.9" cy="283.6" r="1.2"/><circle cx="463.7" cy="325.4" r="1.4"/><circle cx="567.2" cy="249.3" r="1.4"/></g><g stroke="#f05e23"><circle cx="417.9" cy="189.5" r="1.3"/><circle cx="418.5" cy="201.8" r="1.4"/><circle cx="417.2" cy="165.8" r="1.2"/><circle cx="413.2" cy="152.9" r="1.4"/><circle cx="473.1" cy="143.4" r="1.6"/><circle cx="488.5" cy="181.8" r="1.8"/><circle cx="474.1" cy="221" r="1.9"/><circle cx="485.3" cy="119.6" r="1.8"/><circle cx="484.8" cy="132.3" r="1.2"/><circle cx="529.1" cy="159.4" r="2"/><circle cx="428.2" cy="227" r="1.6"/><circle cx="478.4" cy="272.8" r="1.3"/><circle cx="505.6" cy="241.3" r="1.2"/><circle cx="438" cy="280" r="1.2"/><circle cx="431.3" cy="288.3" r="2.8"/><circle cx="432.4" cy="281.7" r="1.8"/><circle cx="423.9" cy="282.6" r="1.7"/><circle cx="423.7" cy="281.8" r="1.7"/><circle cx="449" cy="286.8" r="2.5"/><circle cx="447" cy="264.4" r="1.7"/><circle cx="477.1" cy="104.8" r="1.2"/><circle cx="448.7" cy="100.6" r="1.5"/><circle cx="443.2" cy="113.9" r="1.6"/><circle cx="468.5" cy="152.1" r="1.3"/></g><g stroke="#f7961f"><circle cx="433.5" cy="195.6" r="1.2"/><circle cx="428.1" cy="217.8" r="1.3"/><circle cx="435.5" cy="195.7" r="1.2"/><circle cx="434.1" cy="204.5" r="2"/><circle cx="421.4" cy="182.9" r="1.5"/><circle cx="448.5" cy="211" r="1.3"/><circle cx="453.4" cy="236.6" r="1.5"/><circle cx="446.1" cy="175.5" r="2.7"/><circle cx="456.7" cy="141.9" r="1.6"/><circle cx="482.3" cy="196" r="1.9"/><circle cx="478.7" cy="214.3" r="2.2"/><circle cx="426.9" cy="231" r="1.6"/><circle cx="490" cy="211.3" r="2.2"/><circle cx="494" cy="240.3" r="1.4"/><circle cx="505.1" cy="260.3" r="1.5"/><circle cx="426.3" cy="282.6" r="1.8"/><circle cx="434.4" cy="283.7" r="1.7"/><circle cx="472.1" cy="121.4" r="2.1"/><circle cx="569.5" cy="251.5" r="2.1"/><circle cx="545.6" cy="201.4" r="1.6"/></g><g stroke="#f7ba28"><circle cx="432.4" cy="154" r="1.6"/><circle cx="415.3" cy="204" r="1.7"/><circle cx="437.7" cy="194.7" r="1.3"/><circle cx="432" cy="179.5" r="1.7"/><circle cx="422.9" cy="164.9" r="1.4"/><circle cx="416.8" cy="172" r="1.2"/><circle cx="416.2" cy="142.6" r="1.8"/><circle cx="490.1" cy="198.2" r="1.6"/><circle cx="522.4" cy="253.2" r="2.1"/><circle cx="524.4" cy="190.3" r="1.2"/><circle cx="421.2" cy="253.9" r="1.5"/><circle cx="419.2" cy="261.4" r="1.4"/><circle cx="503.4" cy="213.9" r="1.6"/><circle cx="441" cy="282.1" r="1.6"/><circle cx="439.2" cy="284.8" r="1.9"/><circle cx="406.7" cy="265.1" r="2.1"/><circle cx="571.5" cy="245.6" r="1.5"/><circle cx="576.6" cy="189.4" r="1.5"/><circle cx="605.9" cy="169.4" r="1.3"/><circle cx="608.8" cy="171.7" r="1.9"/><circle cx="592.3" cy="229" r="1.2"/><circle cx="571.6" cy="195" r="1.7"/></g><g stroke="#ec4a26"><circle cx="410.6" cy="210.3" r="1.2"/><circle cx="449.7" cy="184.9" r="1.7"/><circle cx="410.5" cy="139.8" r="3"/><circle cx="450.6" cy="165.6" r="1.4"/><circle cx="464.6" cy="159.2" r="2"/><circle cx="474.3" cy="170" r="1.3"/><circle cx="498.9" cy="153.2" r="1.3"/><circle cx="511.5" cy="195.3" r="1.3"/><circle cx="502.5" cy="222.3" r="1.4"/><circle cx="527.1" cy="121.7" r="2.3"/><circle cx="450.1" cy="228.5" r="2"/><circle cx="499.6" cy="187.4" r="2.8"/><circle cx="460.7" cy="297.6" r="1.3"/><circle cx="465.8" cy="294.3" r="1.9"/><circle cx="440.7" cy="253" r="1.6"/><circle cx="453.1" cy="249.1" r="1.2"/><circle cx="570.7" cy="258.1" r="1.9"/></g><g stroke="#e5222a"><circle cx="418.9" cy="182.5" r="1.3"/><circle cx="437.4" cy="215.5" r="1.5"/><circle cx="464.2" cy="121.9" r="1.2"/><circle cx="509.5" cy="213.5" r="2.3"/><circle cx="466.5" cy="266.2" r="1.2"/><circle cx="489.9" cy="92.2" r="1.4"/><circle cx="457.4" cy="124.3" r="2.6"/><circle cx="466.7" cy="124.4" r="1.2"/><circle cx="410.3" cy="250.3" r="1.2"/></g><g stroke="#f58520"><circle cx="435.1" cy="185.7" r="2.1"/><circle cx="432.8" cy="203.4" r="2"/><circle cx="428.2" cy="176.7" r="1.3"/><circle cx="463.1" cy="142.3" r="1.2"/><circle cx="469.6" cy="159.8" r="1.6"/><circle cx="506" cy="138.2" r="2.4"/><circle cx="500.7" cy="154.4" r="1.2"/><circle cx="498.2" cy="176.3" r="1.2"/><circle cx="480" cy="210.1" r="1.3"/><circle cx="448" cy="239" r="1.8"/><circle cx="424.3" cy="190.1" r="1.7"/><circle cx="428.8" cy="251.9" r="2.1"/><circle cx="490.5" cy="234.2" r="1.6"/><circle cx="432.7" cy="264.1" r="1.2"/><circle cx="504.1" cy="231.1" r="1.3"/><circle cx="501.3" cy="211.4" r="3"/><circle cx="431.7" cy="288.4" r="1.9"/><circle cx="433.2" cy="284.2" r="1.6"/><circle cx="511.6" cy="111.6" r="1.7"/><circle cx="584.4" cy="259.5" r="2.8"/><circle cx="570.2" cy="258.5" r="2"/><circle cx="557.2" cy="270.9" r="1.2"/></g><g stroke="#f37321"><circle cx="427.7" cy="224.2" r="1.8"/><circle cx="449.4" cy="221.9" r="1.7"/><circle cx="444.5" cy="197.9" r="1.5"/><circle cx="432" cy="144.3" r="1.8"/><circle cx="412.6" cy="157.1" r="1.3"/><circle cx="448.3" cy="168.7" r="2.2"/><circle cx="482.7" cy="242.6" r="1.4"/><circle cx="500.2" cy="156.6" r="1.4"/><circle cx="500.1" cy="147.7" r="1.4"/><circle cx="488.9" cy="144.3" r="1.9"/><circle cx="492.3" cy="146.2" r="1.7"/><circle cx="536.7" cy="241.8" r="1.7"/><circle cx="445.8" cy="207" r="1.3"/><circle cx="460.3" cy="263.5" r="1.2"/><circle cx="496.7" cy="209.1" r="2.4"/><circle cx="454.8" cy="198.7" r="1.5"/><circle cx="430.2" cy="279.8" r="1.2"/><circle cx="435.4" cy="291.3" r="1.3"/><circle cx="456" cy="288" r="1.8"/><circle cx="472.6" cy="293.5" r="2.8"/><circle cx="487.9" cy="95.9" r="1.7"/><circle cx="573" cy="252.4" r="1.2"/><circle cx="562.1" cy="245.4" r="1.4"/></g><g stroke="#2f78c8"><circle cx="451.4" cy="146.7" r="1.6"/><circle cx="450.5" cy="145.9" r="1.4"/><circle cx="446.5" cy="167.3" r="1.4"/><circle cx="445.3" cy="195.6" r="2.9"/><circle cx="457.9" cy="197.6" r="1.6"/><circle cx="462.3" cy="137" r="1.2"/><circle cx="412.7" cy="157.4" r="1.6"/></g><g stroke="#2a6fc0"><circle cx="413.2" cy="113.6" r="1.3"/><circle cx="446" cy="160.5" r="1.3"/><circle cx="450.2" cy="172.2" r="1.2"/><circle cx="453.1" cy="145.2" r="3.4"/><circle cx="425.3" cy="209.5" r="1.5"/><circle cx="448.9" cy="202.8" r="2"/><circle cx="466.8" cy="136.2" r="1.3"/><circle cx="470.1" cy="149.2" r="1.2"/><circle cx="520.3" cy="295.2" r="1.4"/><circle cx="426.7" cy="268.8" r="1.7"/></g><g stroke="#f7a821"><circle cx="430.7" cy="168.3" r="1.5"/><circle cx="431.3" cy="215.4" r="1.2"/><circle cx="422.6" cy="184" r="1.4"/><circle cx="433.8" cy="162.4" r="1.3"/><circle cx="428.6" cy="190.1" r="1.4"/><circle cx="454.8" cy="183.5" r="1.3"/><circle cx="491.6" cy="201.2" r="1.3"/><circle cx="495.1" cy="163.1" r="1.3"/><circle cx="490.4" cy="149.1" r="1.2"/><circle cx="497.6" cy="144.4" r="1.2"/><circle cx="441.5" cy="252.9" r="1.7"/><circle cx="493.4" cy="251.2" r="1.9"/><circle cx="421.9" cy="284.4" r="1.2"/><circle cx="466.8" cy="290.4" r="1.5"/><circle cx="462.3" cy="293.2" r="3.3"/><circle cx="475.2" cy="308.2" r="1.3"/><circle cx="444.8" cy="269.2" r="2.4"/><circle cx="426.7" cy="249.7" r="1.2"/><circle cx="454.9" cy="120.5" r="2.4"/><circle cx="580.3" cy="242.7" r="2"/><circle cx="549.1" cy="243.4" r="1.2"/></g><g stroke="#2b67b8"><circle cx="447" cy="125.9" r="1.4"/><circle cx="440.9" cy="169.1" r="1.8"/><circle cx="460.1" cy="137.1" r="1.4"/><circle cx="473.3" cy="133" r="1.7"/></g><g stroke="#f5dc38"><circle cx="424.8" cy="186.9" r="1.5"/><circle cx="423" cy="175.2" r="2.3"/><circle cx="460" cy="151.1" r="1.5"/><circle cx="515.6" cy="189.7" r="1.2"/><circle cx="426.5" cy="270.5" r="2.6"/><circle cx="423.2" cy="276.7" r="1.3"/><circle cx="438.1" cy="269.4" r="1.2"/><circle cx="478.7" cy="120.8" r="3.1"/><circle cx="544.9" cy="163" r="1.4"/><circle cx="559.9" cy="185.7" r="1.4"/></g><g stroke="#f0e84c"><circle cx="438.3" cy="187.6" r="2.1"/><circle cx="434.2" cy="192.1" r="1.6"/><circle cx="421.1" cy="216" r="1.3"/><circle cx="436.4" cy="212.2" r="2.5"/><circle cx="430.2" cy="175.6" r="1.9"/><circle cx="509.2" cy="100.1" r="1.7"/><circle cx="449.1" cy="243.5" r="1.4"/><circle cx="450.5" cy="251.1" r="1.7"/><circle cx="503.5" cy="254.4" r="1.3"/><circle cx="439.9" cy="282.9" r="1.4"/><circle cx="427.4" cy="285.3" r="1.4"/><circle cx="461.8" cy="318.9" r="1.3"/><circle cx="574.3" cy="251.8" r="1.5"/><circle cx="560.3" cy="251.1" r="1.4"/><circle cx="570.7" cy="183.3" r="1.6"/></g><g stroke="#e5222a"><circle cx="479.3" cy="166.8" r="1.6"/><circle cx="487.8" cy="171.1" r="1.4"/><circle cx="516.2" cy="203.2" r="1.5"/><circle cx="408.2" cy="238.9" r="2.6"/><circle cx="465" cy="250.2" r="1.2"/><circle cx="494" cy="256.8" r="1.5"/><circle cx="436.5" cy="282.4" r="1.8"/><circle cx="478.5" cy="322.6" r="3.3"/><circle cx="481" cy="315.9" r="1.2"/><circle cx="437.5" cy="265.5" r="1.3"/><circle cx="579.8" cy="210.8" r="2.1"/></g><g stroke="#f05e23"><circle cx="435.4" cy="186.2" r="1.3"/><circle cx="494.6" cy="140" r="1.7"/><circle cx="524.5" cy="204.2" r="1.2"/><circle cx="495" cy="258" r="1.8"/><circle cx="450.4" cy="257.3" r="1.3"/><circle cx="493.9" cy="242" r="1.3"/><circle cx="442.2" cy="271.7" r="1.9"/><circle cx="461.9" cy="288.9" r="2.2"/><circle cx="428.9" cy="106.3" r="1.5"/><circle cx="549.6" cy="197.5" r="2.2"/><circle cx="539.2" cy="191.4" r="1.2"/></g><g stroke="#e8352a"><circle cx="409.2" cy="201.2" r="1.5"/><circle cx="427.1" cy="194.4" r="1.3"/><circle cx="498.2" cy="172.6" r="1.2"/><circle cx="503.9" cy="144.5" r="1.6"/><circle cx="493" cy="213.2" r="2.9"/><circle cx="489" cy="296.7" r="2.9"/></g><g stroke="#f7cc2f"><circle cx="440.4" cy="218.2" r="2"/><circle cx="425.2" cy="170.4" r="1.8"/><circle cx="437.5" cy="186.3" r="2.9"/><circle cx="408.1" cy="150.7" r="2.2"/><circle cx="396.8" cy="195.7" r="1.7"/><circle cx="410.5" cy="173.5" r="1.6"/><circle cx="511" cy="210.3" r="1.7"/><circle cx="507.8" cy="140.2" r="1.8"/><circle cx="516.2" cy="166.5" r="1.5"/><circle cx="469.2" cy="209.4" r="1.9"/><circle cx="513.7" cy="198" r="1.9"/><circle cx="503.4" cy="219.1" r="1.2"/><circle cx="434.8" cy="284.4" r="1.4"/><circle cx="461.4" cy="289.5" r="1.3"/><circle cx="473.2" cy="267.4" r="1.2"/><circle cx="462.9" cy="290.9" r="1.3"/><circle cx="477.8" cy="327.9" r="2.4"/><circle cx="455.4" cy="271.7" r="1.2"/><circle cx="607.8" cy="176.3" r="1.6"/><circle cx="463.7" cy="268.7" r="2"/></g><g stroke="#ec4a26"><circle cx="425.4" cy="213.7" r="1.5"/><circle cx="419.4" cy="208.4" r="1.3"/><circle cx="424.6" cy="158.9" r="1.4"/><circle cx="416" cy="154.3" r="1.3"/><circle cx="460" cy="163.4" r="1.3"/><circle cx="476.7" cy="261.8" r="2.4"/><circle cx="480.4" cy="229" r="1.4"/><circle cx="504.2" cy="220.5" r="1.4"/><circle cx="439.1" cy="285.1" r="1.5"/><circle cx="427.4" cy="246.2" r="1.3"/><circle cx="425.3" cy="137.6" r="1.7"/><circle cx="460.2" cy="113.6" r="2.5"/></g><g stroke="#2a5fae"><circle cx="414.3" cy="114.6" r="1.9"/><circle cx="415.1" cy="113.5" r="1.5"/><circle cx="416.6" cy="117.2" r="1.4"/><circle cx="407.8" cy="115.2" r="2.4"/><circle cx="416.2" cy="111.6" r="1.2"/><circle cx="412.7" cy="103.7" r="1.2"/><circle cx="449" cy="166.9" r="2.3"/><circle cx="438.5" cy="137.7" r="1.5"/><circle cx="445.8" cy="164.6" r="1.3"/><circle cx="444.5" cy="169.2" r="1.2"/><circle cx="452.5" cy="172.9" r="1.6"/><circle cx="460.6" cy="175.7" r="2"/><circle cx="446.6" cy="160.8" r="2.1"/><circle cx="448.6" cy="192.1" r="1.4"/><circle cx="450.4" cy="207.2" r="1.8"/><circle cx="453.3" cy="206.7" r="1.3"/><circle cx="448.5" cy="198.6" r="1.2"/><circle cx="465.1" cy="205.8" r="1.6"/><circle cx="459.8" cy="191.3" r="1.5"/><circle cx="441.4" cy="219.7" r="1.7"/><circle cx="475.4" cy="133.7" r="1.7"/><circle cx="418" cy="139.9" r="1.2"/><circle cx="415.8" cy="143.1" r="1.3"/><circle cx="503.3" cy="144.7" r="1.4"/><circle cx="478.9" cy="188.6" r="1.8"/><circle cx="444.1" cy="160" r="1.6"/></g><g stroke="#f37321"><circle cx="431.3" cy="189.1" r="1.6"/><circle cx="406.3" cy="162.8" r="1.2"/><circle cx="448.5" cy="146" r="1.5"/><circle cx="494.3" cy="172.1" r="3"/><circle cx="493.9" cy="123.8" r="1.2"/><circle cx="490.6" cy="235.4" r="1.4"/><circle cx="437.4" cy="285.8" r="1.5"/><circle cx="417.1" cy="289.5" r="1.7"/><circle cx="430" cy="268.4" r="1.5"/><circle cx="437.6" cy="243.7" r="1.2"/><circle cx="451.4" cy="254.4" r="3.3"/><circle cx="515.5" cy="131.2" r="1.5"/><circle cx="461.8" cy="101.3" r="1.9"/><circle cx="465.7" cy="128.6" r="2.2"/></g><g stroke="#2a6fc0"><circle cx="407.8" cy="110.6" r="1.8"/><circle cx="411" cy="111.4" r="2.1"/><circle cx="414.5" cy="115.7" r="1.9"/><circle cx="419.4" cy="115.9" r="1.2"/><circle cx="447.1" cy="182.8" r="1.5"/><circle cx="451.7" cy="151.8" r="1.2"/><circle cx="437" cy="128" r="2"/><circle cx="440.1" cy="180.6" r="1.2"/><circle cx="447.6" cy="149.8" r="1.8"/><circle cx="445.7" cy="182.9" r="1.6"/><circle cx="449.2" cy="141.4" r="1.3"/><circle cx="464.4" cy="141" r="1.7"/><circle cx="452.6" cy="163.8" r="1.4"/><circle cx="451.1" cy="175.6" r="1.6"/><circle cx="455.4" cy="148.5" r="1.5"/><circle cx="446.3" cy="174.5" r="1.8"/><circle cx="442.4" cy="147.4" r="1.8"/><circle cx="465.4" cy="153.9" r="1.9"/><circle cx="442.5" cy="136.7" r="1.8"/><circle cx="451.6" cy="157.8" r="2"/><circle cx="462.7" cy="195" r="2.3"/><circle cx="454.6" cy="158.5" r="1.6"/><circle cx="457.2" cy="167.9" r="1.4"/><circle cx="441" cy="190.2" r="1.2"/><circle cx="432.7" cy="216.7" r="1.5"/><circle cx="448.1" cy="201.7" r="1.4"/><circle cx="449.3" cy="203.4" r="1.2"/><circle cx="430.4" cy="209.6" r="1.3"/><circle cx="456.1" cy="208.3" r="1.5"/><circle cx="436.1" cy="212.4" r="1.8"/><circle cx="448.3" cy="196.3" r="1.2"/><circle cx="447" cy="213.8" r="1.3"/><circle cx="449.3" cy="203.9" r="1.3"/><circle cx="443.2" cy="206.2" r="1.6"/><circle cx="464.5" cy="198.2" r="1.8"/><circle cx="466.2" cy="211" r="1.3"/><circle cx="471" cy="133.4" r="1.5"/><circle cx="461.3" cy="132.8" r="1.3"/><circle cx="467.7" cy="140.6" r="1.3"/><circle cx="418.5" cy="134.8" r="1.2"/><circle cx="411.3" cy="164.9" r="1.4"/><circle cx="421.3" cy="124.8" r="1.2"/><circle cx="462.8" cy="124.1" r="1.6"/></g><g stroke="#f7a821"><circle cx="422.3" cy="191.8" r="1.6"/><circle cx="418.1" cy="188.6" r="1.7"/><circle cx="416.3" cy="209.1" r="2.8"/><circle cx="435.3" cy="144.9" r="1.8"/><circle cx="439.7" cy="216.6" r="1.5"/><circle cx="486.5" cy="134.3" r="1.4"/><circle cx="466.8" cy="141" r="1.2"/><circle cx="463.7" cy="248.4" r="1.3"/><circle cx="444.1" cy="276.3" r="1.4"/><circle cx="500" cy="222.2" r="1.2"/><circle cx="493.6" cy="265.5" r="1.7"/><circle cx="437.8" cy="283" r="1.5"/><circle cx="426.7" cy="282.9" r="1.7"/><circle cx="450" cy="282.6" r="1.2"/><circle cx="477.5" cy="289.4" r="1.9"/><circle cx="467.4" cy="297.7" r="1.8"/><circle cx="457.1" cy="284.8" r="1.3"/><circle cx="448.1" cy="286.7" r="1.8"/><circle cx="455.1" cy="98.7" r="1.6"/><circle cx="499.9" cy="131.4" r="1.3"/><circle cx="557" cy="244.3" r="2.7"/><circle cx="589.4" cy="246.7" r="1.2"/><circle cx="571.7" cy="250.3" r="2.1"/><circle cx="540.8" cy="198.8" r="2"/></g><g stroke="#2b67b8"><circle cx="438.4" cy="164.1" r="1.2"/><circle cx="449" cy="146.8" r="1.2"/><circle cx="452.7" cy="178.9" r="2"/><circle cx="459.2" cy="133.1" r="1.5"/><circle cx="449.6" cy="159.6" r="1.4"/><circle cx="441.4" cy="161.4" r="1.4"/><circle cx="460.8" cy="182.4" r="1.6"/><circle cx="446.1" cy="207.3" r="1.2"/><circle cx="448.7" cy="198.2" r="2.6"/><circle cx="440.9" cy="213.1" r="1.4"/><circle cx="445.6" cy="197" r="1.4"/><circle cx="452.2" cy="197.8" r="1.3"/><circle cx="424.7" cy="205.1" r="1.5"/><circle cx="453.5" cy="210.3" r="2"/><circle cx="461.9" cy="209.6" r="1.3"/><circle cx="445.5" cy="201.9" r="1.5"/><circle cx="463.1" cy="141.4" r="1.9"/><circle cx="455.6" cy="135.1" r="1.5"/><circle cx="453.4" cy="149.2" r="1.8"/><circle cx="433.6" cy="145.6" r="1.4"/><circle cx="515.9" cy="230.6" r="2"/><circle cx="424.3" cy="195" r="1.3"/></g><g stroke="#f7ba28"><circle cx="430.5" cy="202.3" r="1.2"/><circle cx="436.8" cy="215.8" r="1.2"/><circle cx="428" cy="209.9" r="1.2"/><circle cx="416.7" cy="149.1" r="1.2"/><circle cx="407.9" cy="155.1" r="1.6"/><circle cx="512" cy="181" r="1.2"/><circle cx="461.5" cy="262.2" r="1.5"/><circle cx="492.1" cy="242.3" r="1.3"/><circle cx="427.1" cy="277.9" r="1.8"/><circle cx="466.1" cy="285.7" r="2"/><circle cx="480.5" cy="288" r="1.7"/><circle cx="453.2" cy="293.7" r="1.8"/><circle cx="431.3" cy="263.1" r="1.2"/><circle cx="452.7" cy="133.1" r="1.2"/><circle cx="596.5" cy="231.9" r="1.6"/><circle cx="540" cy="238.8" r="1.5"/><circle cx="557.1" cy="124.1" r="1.4"/><circle cx="580.5" cy="72.1" r="1.7"/></g><g stroke="#f0e84c"><circle cx="419.1" cy="197.3" r="1.3"/><circle cx="410.9" cy="163.5" r="1.3"/><circle cx="418" cy="202" r="1.8"/><circle cx="417.9" cy="208.7" r="2"/><circle cx="529.6" cy="202.7" r="2.4"/><circle cx="512.9" cy="147.4" r="1.7"/><circle cx="449.7" cy="213.2" r="1.2"/><circle cx="419.2" cy="278.4" r="1.3"/><circle cx="435.7" cy="279.9" r="1.2"/><circle cx="442.9" cy="286.9" r="1.4"/><circle cx="431.8" cy="284.2" r="1.5"/></g><g stroke="#f5dc38"><circle cx="436.1" cy="166.8" r="1.4"/><circle cx="440.3" cy="201.3" r="1.6"/><circle cx="425.7" cy="184.1" r="1.8"/><circle cx="514.2" cy="197" r="1.2"/><circle cx="389.4" cy="226.2" r="2.1"/><circle cx="488.7" cy="212.4" r="1.6"/><circle cx="455.4" cy="262.2" r="3"/><circle cx="504.8" cy="226.1" r="1.2"/><circle cx="500.4" cy="228.5" r="1.3"/><circle cx="446.1" cy="276.2" r="1.5"/><circle cx="446" cy="290.4" r="1.7"/><circle cx="463.1" cy="299.5" r="1.5"/><circle cx="415.9" cy="267" r="1.2"/><circle cx="503.3" cy="103.6" r="2.6"/></g><g stroke="#f58520"><circle cx="435.1" cy="201.7" r="2.1"/><circle cx="434.7" cy="203.1" r="1.6"/><circle cx="420" cy="173.9" r="1.6"/><circle cx="448.9" cy="156.6" r="1.5"/><circle cx="453.8" cy="160.7" r="1.2"/><circle cx="451.9" cy="155" r="2.6"/><circle cx="494.1" cy="144.9" r="1.9"/><circle cx="505.9" cy="170.6" r="1.7"/><circle cx="499.1" cy="138.1" r="1.4"/><circle cx="506.8" cy="207.2" r="1.6"/><circle cx="488.1" cy="276.5" r="1.4"/><circle cx="457.6" cy="232" r="1.3"/><circle cx="497.1" cy="237.4" r="2.4"/><circle cx="484.6" cy="304.1" r="1.7"/><circle cx="476.4" cy="293" r="1.3"/><circle cx="458.1" cy="291.8" r="1.6"/><circle cx="477.3" cy="293.6" r="1.7"/><circle cx="489.8" cy="282" r="1.3"/><circle cx="446.1" cy="312.3" r="1.7"/><circle cx="469.7" cy="333.9" r="2.7"/><circle cx="448.6" cy="258.4" r="1.5"/><circle cx="487.2" cy="109.8" r="1.4"/></g><g stroke="#2f78c8"><circle cx="411.4" cy="112.1" r="1.8"/><circle cx="403.5" cy="112.6" r="1.7"/><circle cx="442" cy="145.8" r="1.6"/><circle cx="443.4" cy="160.4" r="1.8"/><circle cx="460.4" cy="151.9" r="1.2"/><circle cx="439.1" cy="155.6" r="3"/><circle cx="440.9" cy="127.2" r="1.5"/><circle cx="457.2" cy="162.9" r="1.3"/><circle cx="455.2" cy="147.9" r="1.8"/><circle cx="454.5" cy="181.8" r="1.5"/><circle cx="445.7" cy="160.2" r="1.5"/><circle cx="445.5" cy="198.8" r="1.6"/><circle cx="443.6" cy="198.9" r="1.7"/><circle cx="439.3" cy="217.8" r="2.2"/><circle cx="457" cy="202.5" r="1.2"/><circle cx="436.4" cy="194.7" r="1.3"/><circle cx="462.2" cy="140.6" r="1.2"/><circle cx="464.2" cy="134" r="1.9"/><circle cx="458.3" cy="128" r="1.7"/><circle cx="413.5" cy="154.3" r="1.7"/><circle cx="501.1" cy="262.1" r="1.3"/><circle cx="418" cy="171.7" r="1.7"/></g><g stroke="#f7961f"><circle cx="436" cy="203.9" r="1.5"/><circle cx="422.8" cy="188.3" r="2.3"/><circle cx="429" cy="166.7" r="2.3"/><circle cx="431.1" cy="182.4" r="1.5"/><circle cx="428.9" cy="200.1" r="1.8"/><circle cx="417.1" cy="150" r="1.2"/><circle cx="467.2" cy="155.7" r="1.2"/><circle cx="459.9" cy="133.2" r="2.3"/><circle cx="476.6" cy="188.2" r="2.1"/><circle cx="491" cy="135.5" r="2.2"/><circle cx="514.6" cy="173.6" r="1.5"/><circle cx="457.8" cy="255.5" r="1.2"/><circle cx="498.7" cy="227.4" r="1.4"/><circle cx="437.3" cy="287" r="1.3"/><circle cx="472.9" cy="281.6" r="1.2"/><circle cx="462.6" cy="290.5" r="3.6"/><circle cx="493.9" cy="290.6" r="1.2"/><circle cx="465.7" cy="132.9" r="1.3"/><circle cx="490.5" cy="107.4" r="1.4"/><circle cx="574.8" cy="180.5" r="1.4"/><circle cx="591.1" cy="230.6" r="1.8"/><circle cx="578.6" cy="213.1" r="1.4"/></g><g stroke="#f37321"><circle cx="408" cy="200.1" r="1.4"/><circle cx="411.9" cy="168.8" r="1.2"/><circle cx="472.4" cy="161.5" r="1.4"/><circle cx="460.4" cy="287.5" r="1.6"/><circle cx="448.9" cy="302" r="1.5"/><circle cx="513.3" cy="128.4" r="1.5"/><circle cx="554.5" cy="208.2" r="1.5"/><circle cx="546.6" cy="199.3" r="1.8"/></g><g stroke="#2b67b8"><circle cx="419" cy="116" r="1.5"/><circle cx="416.1" cy="112.9" r="1.2"/><circle cx="412.8" cy="110.8" r="1.6"/><circle cx="447.2" cy="147" r="1.5"/><circle cx="440.6" cy="156.6" r="1.3"/><circle cx="454.1" cy="131.2" r="1.6"/><circle cx="443.6" cy="122.2" r="1.2"/><circle cx="444.9" cy="162.9" r="1.7"/><circle cx="436" cy="151.7" r="1.2"/><circle cx="446.4" cy="150.6" r="1.3"/><circle cx="444.3" cy="190.8" r="1.4"/><circle cx="450.5" cy="187.4" r="1.5"/><circle cx="441.8" cy="195.8" r="1.9"/><circle cx="456.1" cy="196.9" r="1.8"/><circle cx="437.4" cy="205.2" r="2.3"/><circle cx="444.9" cy="200.6" r="1.4"/><circle cx="456.4" cy="141.4" r="1.3"/><circle cx="464" cy="147.6" r="1.8"/><circle cx="460.3" cy="140.6" r="1.7"/><circle cx="421.3" cy="153.4" r="1.5"/><circle cx="498.1" cy="114.8" r="1.2"/><circle cx="475.8" cy="130.9" r="1.4"/><circle cx="519.5" cy="167.3" r="1.3"/></g><g stroke="#f7ba28"><circle cx="448.7" cy="215.6" r="1.7"/><circle cx="442" cy="207.4" r="1.2"/><circle cx="426.4" cy="189.2" r="1.2"/><circle cx="422" cy="166.3" r="1.4"/><circle cx="466.1" cy="149.9" r="1.7"/><circle cx="488.3" cy="182.4" r="1.3"/><circle cx="504.6" cy="126.3" r="1.4"/><circle cx="516.4" cy="191.7" r="3.5"/><circle cx="432.3" cy="265.4" r="2.4"/><circle cx="397.1" cy="298.3" r="1.2"/><circle cx="488.1" cy="220.1" r="1.3"/><circle cx="423.8" cy="276.3" r="2.5"/><circle cx="474.7" cy="298.2" r="1.6"/><circle cx="457.3" cy="285.4" r="2.1"/><circle cx="472.7" cy="293.9" r="1.3"/><circle cx="434.7" cy="112.9" r="1.2"/><circle cx="568.3" cy="255.2" r="2.2"/><circle cx="580.6" cy="248.7" r="1.6"/><circle cx="579.6" cy="245.5" r="1.2"/><circle cx="549.9" cy="230" r="1.7"/><circle cx="577.6" cy="210.4" r="1.3"/><circle cx="561" cy="175.2" r="1.4"/></g><g stroke="#f7a821"><circle cx="416.5" cy="193" r="1.3"/><circle cx="430.5" cy="192.9" r="1.4"/><circle cx="418.4" cy="151.1" r="1.7"/><circle cx="509.7" cy="206.9" r="1.2"/><circle cx="448.4" cy="222.3" r="3.3"/><circle cx="470.5" cy="250.8" r="1.3"/><circle cx="438" cy="227.4" r="1.4"/><circle cx="503.2" cy="235.2" r="2.1"/><circle cx="435.8" cy="284" r="1.4"/><circle cx="432.3" cy="280.2" r="2.1"/><circle cx="432.5" cy="271.4" r="1.5"/><circle cx="434.4" cy="286.2" r="1.7"/><circle cx="462.9" cy="301.4" r="1.6"/><circle cx="486" cy="320.8" r="2.9"/><circle cx="435.7" cy="263.6" r="1.4"/><circle cx="571.5" cy="252" r="1.6"/><circle cx="596.9" cy="235.3" r="2.8"/><circle cx="558.4" cy="196.8" r="2.3"/><circle cx="511" cy="114.2" r="1.3"/></g><g stroke="#f7961f"><circle cx="414.4" cy="153.4" r="1.2"/><circle cx="409.5" cy="175.2" r="1.6"/><circle cx="484.6" cy="154.4" r="1.6"/><circle cx="445.2" cy="194.1" r="1.2"/><circle cx="492.8" cy="244.2" r="1.5"/><circle cx="486.2" cy="232.1" r="1.7"/><circle cx="463.8" cy="208.9" r="2.6"/><circle cx="505.2" cy="214.8" r="1.3"/><circle cx="471.9" cy="291.9" r="1.2"/><circle cx="472.1" cy="302.8" r="2.1"/><circle cx="480.5" cy="110.7" r="1.7"/><circle cx="567.4" cy="245.7" r="1.2"/><circle cx="572.3" cy="182.5" r="2"/><circle cx="490.4" cy="73.5" r="1.6"/><circle cx="482.6" cy="78.8" r="1.3"/></g><g stroke="#f5dc38"><circle cx="459.1" cy="182" r="1.2"/><circle cx="429.7" cy="226.6" r="1.4"/><circle cx="418.1" cy="165.9" r="2"/><circle cx="487.7" cy="182.3" r="1.4"/><circle cx="495.4" cy="127.3" r="1.3"/><circle cx="522.9" cy="184.9" r="1.3"/><circle cx="526.2" cy="189.5" r="1.3"/><circle cx="506" cy="156.4" r="2"/><circle cx="487.1" cy="232.3" r="1.2"/><circle cx="444.2" cy="231.8" r="1.3"/><circle cx="436.4" cy="284.9" r="1.6"/><circle cx="418.4" cy="280.3" r="1.2"/><circle cx="443.9" cy="273.5" r="1.7"/><circle cx="442.8" cy="283.1" r="1.3"/><circle cx="420.4" cy="285.8" r="1.2"/><circle cx="440.5" cy="288.8" r="1.5"/><circle cx="429.5" cy="280.7" r="3"/><circle cx="427.6" cy="291.6" r="1.4"/><circle cx="469.8" cy="324.3" r="1.4"/><circle cx="473.2" cy="330.1" r="1.3"/><circle cx="488.9" cy="117.6" r="3.1"/><circle cx="511.6" cy="100.6" r="2"/><circle cx="417.9" cy="274.5" r="1.3"/><circle cx="425.6" cy="252.8" r="1.9"/></g><g stroke="#2a5fae"><circle cx="412.5" cy="113.4" r="1.9"/><circle cx="411.8" cy="111.9" r="1.3"/><circle cx="410.3" cy="111.8" r="2.3"/><circle cx="426.5" cy="109.2" r="1.5"/><circle cx="442" cy="168.4" r="1.3"/><circle cx="438.5" cy="168.6" r="1.3"/><circle cx="447.2" cy="148.6" r="1.2"/><circle cx="437.2" cy="164.3" r="2.5"/><circle cx="447" cy="171.6" r="1.2"/><circle cx="443.6" cy="177.9" r="1.7"/><circle cx="460.3" cy="181.4" r="1.4"/><circle cx="438.3" cy="148.2" r="1.8"/><circle cx="444.9" cy="193.7" r="1.6"/><circle cx="445.4" cy="201.4" r="1.8"/><circle cx="444.1" cy="218.6" r="1.2"/><circle cx="462.4" cy="200.1" r="1.9"/><circle cx="452.3" cy="199.5" r="1.3"/><circle cx="448.9" cy="204.4" r="1.9"/><circle cx="440.8" cy="200.7" r="1.9"/><circle cx="440.9" cy="203.2" r="1.8"/><circle cx="458.5" cy="211.4" r="1.7"/><circle cx="460.6" cy="139.8" r="1.4"/><circle cx="472.6" cy="147.4" r="1.5"/><circle cx="455.8" cy="138.7" r="1.7"/><circle cx="463.8" cy="155.1" r="1.3"/><circle cx="464.3" cy="148.5" r="2.4"/><circle cx="491.8" cy="219" r="1.3"/><circle cx="440.2" cy="300" r="1.5"/><circle cx="449.6" cy="158" r="1.2"/></g><g stroke="#2f78c8"><circle cx="414.7" cy="110.3" r="1.2"/><circle cx="413.2" cy="112.8" r="1.8"/><circle cx="450.5" cy="161.9" r="1.2"/><circle cx="447" cy="162.2" r="1.5"/><circle cx="457.2" cy="160" r="1.6"/><circle cx="443.2" cy="123.6" r="2.2"/><circle cx="439.1" cy="173.1" r="1.9"/><circle cx="449.3" cy="182" r="1.4"/><circle cx="445.1" cy="173.5" r="2.2"/><circle cx="441" cy="200.8" r="1.7"/><circle cx="449.5" cy="205.6" r="1.4"/><circle cx="454.4" cy="211.7" r="1.7"/><circle cx="428.9" cy="198" r="1.5"/><circle cx="451.3" cy="197.7" r="1.7"/><circle cx="429.3" cy="205.6" r="1.4"/><circle cx="425.6" cy="205.5" r="1.5"/><circle cx="447.8" cy="204.6" r="1.3"/><circle cx="445.1" cy="198.4" r="1.3"/><circle cx="456.5" cy="155.9" r="1.3"/><circle cx="460.6" cy="151.1" r="1.7"/><circle cx="468.6" cy="139.1" r="1.6"/><circle cx="455.7" cy="129.7" r="2.9"/><circle cx="414.2" cy="151.7" r="1.4"/></g><g stroke="#e5222a"><circle cx="423" cy="193" r="1.7"/><circle cx="487.8" cy="148.3" r="1.5"/><circle cx="460.2" cy="259.4" r="2.1"/><circle cx="484.3" cy="295.6" r="3.4"/><circle cx="469.9" cy="309.9" r="1.8"/><circle cx="424.5" cy="257.6" r="2.4"/><circle cx="463.8" cy="84.1" r="1.3"/><circle cx="482.2" cy="79.6" r="1.8"/><circle cx="572.9" cy="242.1" r="1.5"/></g><g stroke="#f0e84c"><circle cx="429.3" cy="224.8" r="1.9"/><circle cx="426.1" cy="193" r="1.3"/><circle cx="428.3" cy="186.4" r="1.2"/><circle cx="429.9" cy="198" r="1.3"/><circle cx="497.1" cy="218.4" r="1.2"/><circle cx="493.8" cy="227.7" r="1.8"/><circle cx="502.9" cy="216.1" r="1.5"/><circle cx="432.7" cy="286.6" r="1.8"/><circle cx="427.9" cy="273.5" r="1.4"/><circle cx="443.8" cy="270.1" r="1.3"/><circle cx="479.9" cy="110.4" r="1.6"/><circle cx="578.1" cy="247" r="1.4"/><circle cx="601.1" cy="166.1" r="1.6"/></g><g stroke="#2a6fc0"><circle cx="413.3" cy="117.5" r="1.3"/><circle cx="414.1" cy="112.5" r="1.3"/><circle cx="422.8" cy="112.5" r="2.4"/><circle cx="422.9" cy="117.7" r="2.2"/><circle cx="435.8" cy="142.8" r="1.9"/><circle cx="443.1" cy="169.2" r="1.6"/><circle cx="448.4" cy="154.8" r="1.7"/><circle cx="456.1" cy="194.7" r="1.3"/><circle cx="444.6" cy="139.3" r="1.3"/><circle cx="455.5" cy="147.9" r="1.7"/><circle cx="452.4" cy="164.5" r="1.6"/><circle cx="459.8" cy="152.8" r="1.4"/><circle cx="447.7" cy="130.9" r="2.2"/><circle cx="464.5" cy="154.7" r="1.5"/><circle cx="434.8" cy="206.1" r="1.5"/><circle cx="455.8" cy="214.8" r="1.2"/><circle cx="442" cy="215.3" r="1.2"/><circle cx="457.8" cy="187.3" r="2.3"/><circle cx="451.7" cy="214" r="1.7"/><circle cx="433" cy="197.2" r="2.1"/><circle cx="457.5" cy="190.8" r="1.2"/><circle cx="461.5" cy="201.2" r="1.5"/><circle cx="455.4" cy="206" r="1.4"/><circle cx="453.5" cy="138.6" r="1.2"/><circle cx="464.1" cy="141.9" r="1.2"/><circle cx="461.3" cy="140.1" r="1.9"/><circle cx="457.1" cy="146.1" r="1.6"/><circle cx="463.1" cy="148.1" r="1.8"/><circle cx="414.8" cy="161.1" r="1.3"/><circle cx="446.7" cy="168.7" r="3"/><circle cx="472.6" cy="221.5" r="1.4"/><circle cx="529.7" cy="107.5" r="1.3"/></g><g stroke="#f58520"><circle cx="424.4" cy="185.8" r="1.5"/><circle cx="439.4" cy="173.8" r="1.8"/><circle cx="469.6" cy="155" r="1.8"/><circle cx="489.6" cy="161.1" r="1.4"/><circle cx="430.4" cy="249.8" r="1.6"/><circle cx="461.7" cy="230.1" r="1.5"/><circle cx="504.2" cy="301.3" r="1.4"/><circle cx="487" cy="272.2" r="1.6"/><circle cx="424.9" cy="279.7" r="1.4"/><circle cx="450.7" cy="280.7" r="1.7"/><circle cx="442.7" cy="297.6" r="1.3"/><circle cx="471" cy="320.4" r="1.2"/><circle cx="561.4" cy="167.1" r="1.6"/><circle cx="407.9" cy="176.6" r="1.3"/><circle cx="505.2" cy="274.5" r="3"/></g><g stroke="#f05e23"><circle cx="444.7" cy="202.3" r="3.1"/><circle cx="423.8" cy="161.6" r="1.5"/><circle cx="461.8" cy="144.8" r="2.8"/><circle cx="480.4" cy="159" r="1.5"/><circle cx="496.1" cy="234.6" r="1.5"/><circle cx="519.8" cy="146.7" r="1.4"/><circle cx="478.7" cy="237.2" r="1.2"/><circle cx="425.4" cy="288.6" r="1.9"/><circle cx="471" cy="317.9" r="1.5"/><circle cx="447.9" cy="254.3" r="1.2"/><circle cx="492.8" cy="109.7" r="1.9"/><circle cx="586.6" cy="254.9" r="2"/><circle cx="578" cy="253.5" r="1.5"/><circle cx="546.9" cy="216.2" r="1.4"/></g><g stroke="#ec4a26"><circle cx="480.5" cy="168.6" r="1.7"/><circle cx="496.9" cy="225.4" r="1.5"/><circle cx="435.5" cy="103.4" r="1.4"/><circle cx="577.2" cy="255.5" r="1.3"/></g><g stroke="#e8352a"><circle cx="437.9" cy="197.9" r="1.4"/><circle cx="420.1" cy="156.4" r="1.7"/><circle cx="422.7" cy="166" r="2.4"/><circle cx="484.7" cy="270.3" r="1.6"/><circle cx="489.1" cy="150.9" r="2.6"/><circle cx="489.9" cy="159.8" r="1.3"/><circle cx="421" cy="228.4" r="1.5"/><circle cx="460" cy="253.7" r="1.6"/><circle cx="498.3" cy="254" r="3.4"/><circle cx="433.6" cy="258.2" r="3"/><circle cx="452.8" cy="261" r="3.8"/><circle cx="582.6" cy="254.6" r="1.5"/></g><g stroke="#f7cc2f"><circle cx="425.2" cy="183.6" r="1.6"/><circle cx="424.6" cy="184.1" r="1.6"/><circle cx="413.5" cy="188.9" r="1.3"/><circle cx="431.3" cy="186.5" r="1.5"/><circle cx="430.4" cy="203.3" r="3.3"/><circle cx="434.8" cy="185.3" r="1.3"/><circle cx="510.9" cy="132.2" r="1.2"/><circle cx="499.7" cy="238.2" r="2.7"/><circle cx="510.1" cy="211.1" r="1.6"/><circle cx="498.2" cy="211.7" r="2"/><circle cx="499.3" cy="213.7" r="2"/><circle cx="501.5" cy="218.6" r="1.4"/><circle cx="427.1" cy="287.4" r="1.2"/><circle cx="456.1" cy="280.5" r="1.5"/><circle cx="423" cy="250.2" r="1.6"/><circle cx="446.4" cy="262.7" r="1.8"/></g><g stroke="#f7a821"><circle cx="420.7" cy="188.7" r="1.3"/><circle cx="444.7" cy="208.3" r="1.3"/><circle cx="428.2" cy="214.2" r="1.3"/><circle cx="403.9" cy="152.5" r="1.2"/><circle cx="399.8" cy="147.5" r="1.7"/><circle cx="426.7" cy="157.4" r="2.1"/><circle cx="495" cy="104.4" r="1.5"/><circle cx="429.9" cy="281.2" r="1.4"/><circle cx="478.5" cy="299" r="1.5"/><circle cx="471.5" cy="277.2" r="1.2"/><circle cx="480.4" cy="325.3" r="1.8"/><circle cx="441.4" cy="249.6" r="1.5"/></g><g stroke="#e5222a"><circle cx="492.9" cy="260.5" r="1.7"/><circle cx="561.3" cy="249.5" r="1.2"/></g><g stroke="#2f78c8"><circle cx="453.3" cy="161.3" r="2.1"/><circle cx="444.3" cy="146.9" r="1.2"/><circle cx="444.5" cy="182" r="1.2"/><circle cx="428.4" cy="114.1" r="1.2"/><circle cx="438.3" cy="150.1" r="2"/><circle cx="442.1" cy="146.7" r="1.7"/><circle cx="454.2" cy="179.4" r="1.5"/><circle cx="434.2" cy="145.6" r="1.2"/><circle cx="441.6" cy="185.5" r="2"/><circle cx="448.4" cy="208.6" r="1.3"/><circle cx="442.2" cy="204.2" r="1.2"/><circle cx="441.8" cy="202.2" r="1.9"/><circle cx="402.2" cy="143.2" r="1.7"/><circle cx="426.6" cy="154.4" r="1.6"/><circle cx="426.3" cy="162.9" r="1.3"/></g><g stroke="#f37321"><circle cx="424.8" cy="183.2" r="1.8"/><circle cx="520.3" cy="127.3" r="1.7"/><circle cx="425.9" cy="287.2" r="1.9"/><circle cx="442.2" cy="280.7" r="1.2"/><circle cx="462.9" cy="293.1" r="1.4"/><circle cx="443.3" cy="257" r="2.8"/><circle cx="591.1" cy="240.7" r="1.2"/></g><g stroke="#e8352a"><circle cx="423.7" cy="194.3" r="1.5"/><circle cx="420.9" cy="225.3" r="1.7"/><circle cx="467.6" cy="174.2" r="1.7"/><circle cx="451.3" cy="159.6" r="1.9"/><circle cx="487.4" cy="139.9" r="1.3"/><circle cx="487.6" cy="127" r="2.3"/><circle cx="499.7" cy="224.4" r="1.2"/><circle cx="428.8" cy="297.1" r="1.8"/><circle cx="468" cy="301" r="1.7"/><circle cx="459.8" cy="310.6" r="1.3"/><circle cx="462.3" cy="210.2" r="1.5"/></g><g stroke="#f05e23"><circle cx="437.3" cy="194.7" r="1.2"/><circle cx="495.4" cy="202.2" r="2.3"/><circle cx="459.8" cy="239.1" r="1.5"/><circle cx="457" cy="299.7" r="1.5"/><circle cx="452.3" cy="295.6" r="2.7"/></g><g stroke="#f7ba28"><circle cx="431.2" cy="184.4" r="1.6"/><circle cx="405.5" cy="193.1" r="1.4"/><circle cx="430.9" cy="199.3" r="1.8"/><circle cx="418.7" cy="134.1" r="1.7"/><circle cx="426" cy="212.6" r="1.6"/><circle cx="435.7" cy="245" r="1.3"/><circle cx="414.9" cy="172.6" r="2.6"/><circle cx="416.4" cy="149.7" r="3.2"/><circle cx="411.6" cy="158.1" r="1.8"/><circle cx="503.8" cy="203" r="1.2"/><circle cx="503.4" cy="216.3" r="1.7"/><circle cx="416.8" cy="285.3" r="1.6"/><circle cx="444.1" cy="284.7" r="1.5"/><circle cx="452.1" cy="281.8" r="1.4"/><circle cx="489.9" cy="89.9" r="1.2"/><circle cx="558.6" cy="168.7" r="2"/></g><g stroke="#f7cc2f"><circle cx="402.5" cy="169.8" r="1.7"/><circle cx="436.8" cy="165" r="1.8"/><circle cx="434.3" cy="204.1" r="1.5"/><circle cx="436.6" cy="218" r="1.9"/><circle cx="427.7" cy="181.9" r="1.3"/><circle cx="447.7" cy="207.7" r="1.7"/><circle cx="421.4" cy="163.5" r="1.5"/><circle cx="515.6" cy="178.4" r="1.2"/><circle cx="513.7" cy="233.9" r="1.5"/><circle cx="434.1" cy="284.1" r="1.5"/><circle cx="466.5" cy="279.7" r="2.3"/><circle cx="473" cy="320.2" r="2.7"/><circle cx="453.6" cy="293.5" r="1.8"/><circle cx="427.5" cy="237.1" r="1.3"/></g><g stroke="#f5dc38"><circle cx="432.9" cy="177.7" r="2.1"/><circle cx="424.6" cy="180.7" r="1.2"/><circle cx="414.9" cy="152.3" r="1.9"/><circle cx="408.6" cy="172.8" r="1.7"/><circle cx="432.1" cy="205" r="1.4"/><circle cx="437.4" cy="210.4" r="1.6"/><circle cx="435.8" cy="183.1" r="1.3"/><circle cx="437.8" cy="191.9" r="1.9"/><circle cx="415" cy="163.8" r="1.6"/><circle cx="407.4" cy="269.3" r="1.4"/><circle cx="505.8" cy="212.8" r="1.8"/><circle cx="514.7" cy="219.1" r="1.9"/><circle cx="499.4" cy="222.9" r="1.9"/><circle cx="445" cy="281.2" r="1.4"/><circle cx="435.8" cy="292.9" r="1.8"/><circle cx="435.8" cy="281.5" r="1.3"/><circle cx="425.9" cy="281.9" r="1.3"/><circle cx="431.7" cy="288" r="1.2"/><circle cx="444.3" cy="280.9" r="2.1"/><circle cx="442.6" cy="277.8" r="1.3"/><circle cx="431.3" cy="286.3" r="2.4"/><circle cx="433.2" cy="284.8" r="2.5"/><circle cx="478.1" cy="291.4" r="1.3"/><circle cx="488.2" cy="292.6" r="1.5"/><circle cx="474.1" cy="341.5" r="1.3"/><circle cx="426.7" cy="251.5" r="1.4"/><circle cx="426" cy="111.9" r="1.6"/><circle cx="572.6" cy="248.1" r="1.2"/><circle cx="568.3" cy="180.2" r="1.3"/><circle cx="554.5" cy="196.5" r="1.4"/><circle cx="592" cy="115.4" r="2.4"/></g><g stroke="#2a5fae"><circle cx="401.1" cy="109.8" r="2.4"/><circle cx="408.3" cy="110.9" r="1.7"/><circle cx="447.5" cy="122" r="2.1"/><circle cx="454.3" cy="155.6" r="1.9"/><circle cx="456.6" cy="164.1" r="1.8"/><circle cx="456.6" cy="155.4" r="1.8"/><circle cx="434.8" cy="159.2" r="2.4"/><circle cx="439.3" cy="195.2" r="2"/><circle cx="457.3" cy="215.7" r="1.2"/><circle cx="434.3" cy="198.3" r="1.4"/><circle cx="447.6" cy="194.7" r="1.7"/><circle cx="430.3" cy="210.3" r="1.4"/><circle cx="463.5" cy="141.3" r="1.2"/><circle cx="456.5" cy="133.5" r="1.6"/><circle cx="471.5" cy="142.8" r="1.9"/><circle cx="402.8" cy="161.1" r="1.3"/><circle cx="425.3" cy="150.1" r="1.5"/><circle cx="418.3" cy="138.6" r="1.4"/><circle cx="473.2" cy="298.5" r="1.7"/><circle cx="442.6" cy="162.1" r="1.3"/></g><g stroke="#2b67b8"><circle cx="450.3" cy="156.5" r="1.2"/><circle cx="446" cy="160.6" r="1.9"/><circle cx="442.1" cy="154.2" r="1.6"/><circle cx="459.9" cy="173.9" r="1.8"/><circle cx="448.7" cy="167" r="1.3"/><circle cx="438.2" cy="151.4" r="1.2"/><circle cx="435.2" cy="147.6" r="1.6"/><circle cx="448.9" cy="144.4" r="1.2"/><circle cx="450.4" cy="192.9" r="1.5"/><circle cx="436.1" cy="165" r="1.3"/><circle cx="437.3" cy="144.6" r="3.2"/><circle cx="450.2" cy="171.8" r="1.7"/><circle cx="456.7" cy="201.4" r="1.9"/><circle cx="449.8" cy="208.2" r="1.5"/><circle cx="444.6" cy="205.1" r="2.1"/><circle cx="425.3" cy="205" r="1.5"/><circle cx="467.6" cy="139.6" r="2.5"/><circle cx="463.4" cy="136.7" r="1.3"/><circle cx="458.8" cy="142.6" r="1.4"/><circle cx="454.7" cy="139" r="1.4"/><circle cx="458.9" cy="141.8" r="1.4"/><circle cx="458.4" cy="155.5" r="2"/><circle cx="459.5" cy="147.6" r="1.5"/><circle cx="460.4" cy="137.7" r="1.3"/><circle cx="404.3" cy="160.1" r="1.5"/><circle cx="415" cy="156.3" r="1.7"/><circle cx="412" cy="133.3" r="2"/><circle cx="445.7" cy="200" r="1.2"/></g><g stroke="#2a6fc0"><circle cx="415.6" cy="115.4" r="1.8"/><circle cx="422.6" cy="111.2" r="1.3"/><circle cx="406.1" cy="112.8" r="1.2"/><circle cx="418.3" cy="110.4" r="1.4"/><circle cx="413.1" cy="107.4" r="1.4"/><circle cx="409.7" cy="114.8" r="2"/><circle cx="449.7" cy="167.1" r="1.6"/><circle cx="448.3" cy="191.5" r="2"/><circle cx="444.2" cy="177" r="1.3"/><circle cx="445.1" cy="157.2" r="1.7"/><circle cx="433.6" cy="158.2" r="1.2"/><circle cx="444.6" cy="150.8" r="1.5"/><circle cx="442.1" cy="152" r="2.1"/><circle cx="419.9" cy="159.9" r="1.5"/><circle cx="431.5" cy="182.7" r="2.2"/><circle cx="445.7" cy="195.3" r="1.9"/><circle cx="442.8" cy="134.1" r="1.6"/><circle cx="453.5" cy="159.7" r="1.3"/><circle cx="440.5" cy="170.3" r="1.5"/><circle cx="435.3" cy="211.3" r="1.3"/><circle cx="434" cy="197.2" r="1.2"/><circle cx="446.3" cy="208.2" r="1.9"/><circle cx="445.9" cy="223.5" r="2.8"/><circle cx="440.7" cy="197.4" r="1.8"/><circle cx="447.2" cy="197.2" r="2.2"/><circle cx="435.3" cy="199.6" r="1.8"/><circle cx="457.5" cy="208.5" r="2.1"/><circle cx="447" cy="198.1" r="1.6"/><circle cx="470.7" cy="140.3" r="1.5"/><circle cx="478.5" cy="137.9" r="1.4"/><circle cx="457.2" cy="158.5" r="1.2"/><circle cx="464.5" cy="147.3" r="1.7"/><circle cx="474.5" cy="142.7" r="1.2"/><circle cx="473.7" cy="130.1" r="1.2"/><circle cx="446.6" cy="141.8" r="1.4"/><circle cx="452.9" cy="142.8" r="1.9"/><circle cx="421" cy="153.4" r="2"/><circle cx="431.6" cy="163.1" r="1.9"/><circle cx="477.7" cy="211.6" r="1.2"/><circle cx="482.4" cy="220.8" r="1.6"/><circle cx="517.9" cy="159.4" r="1.5"/></g><g stroke="#f58520"><circle cx="443.7" cy="239" r="2.4"/><circle cx="435.8" cy="221.1" r="1.6"/><circle cx="484.4" cy="175.5" r="1.7"/><circle cx="509.1" cy="226.9" r="1.4"/><circle cx="499.3" cy="234.1" r="1.3"/></g><g stroke="#f7961f"><circle cx="427.7" cy="186" r="1.2"/><circle cx="435.8" cy="182.8" r="1.7"/><circle cx="489.2" cy="145.9" r="1.6"/><circle cx="483.1" cy="145.4" r="2.9"/><circle cx="425.3" cy="281" r="2"/><circle cx="460" cy="272.1" r="1.2"/><circle cx="445.4" cy="130.3" r="2.2"/><circle cx="472.8" cy="119.6" r="1.3"/><circle cx="593.1" cy="235.2" r="1.5"/><circle cx="605.9" cy="125.8" r="2.3"/><circle cx="575.8" cy="173.4" r="1.3"/></g><g stroke="#f0e84c"><circle cx="498.9" cy="212" r="1.2"/><circle cx="420.3" cy="284.7" r="1.7"/><circle cx="482.3" cy="121.1" r="3.3"/><circle cx="590.1" cy="234.5" r="1.4"/><circle cx="555" cy="231.9" r="1.2"/><circle cx="554.4" cy="236" r="1.2"/><circle cx="558.7" cy="245.7" r="1.5"/><circle cx="558.7" cy="182.9" r="2.1"/></g><g stroke="#ec4a26"><circle cx="459.2" cy="147" r="1.2"/><circle cx="469.6" cy="151" r="1.3"/><circle cx="470.3" cy="170.2" r="1.5"/><circle cx="486.2" cy="187.7" r="2"/><circle cx="489.5" cy="188.2" r="1.2"/><circle cx="519.2" cy="231.6" r="1.2"/><circle cx="496.5" cy="189.3" r="1.7"/><circle cx="463.2" cy="248.9" r="1.7"/></g><g stroke="#f7961f"><circle cx="428.1" cy="206.6" r="2"/><circle cx="411.9" cy="150.2" r="2.2"/><circle cx="465.2" cy="157.7" r="1.6"/><circle cx="441.8" cy="165.3" r="2.2"/><circle cx="487.3" cy="161.5" r="1.2"/><circle cx="505.4" cy="134.2" r="2"/><circle cx="530.3" cy="194" r="2"/><circle cx="509.2" cy="152.2" r="1.9"/><circle cx="498.3" cy="234" r="1.5"/><circle cx="456.3" cy="244.4" r="1.4"/><circle cx="463.3" cy="235.4" r="1.8"/><circle cx="453.2" cy="223.4" r="1.6"/><circle cx="481.1" cy="222" r="1.4"/><circle cx="501.1" cy="231.7" r="1.5"/><circle cx="434.3" cy="274.5" r="2.5"/><circle cx="454.6" cy="298.5" r="1.7"/><circle cx="462.1" cy="284" r="1.2"/><circle cx="424" cy="250.4" r="1.4"/><circle cx="579.3" cy="249.1" r="1.4"/><circle cx="594.1" cy="251" r="1.9"/><circle cx="543.4" cy="211.9" r="1.4"/><circle cx="438.2" cy="231.8" r="1.5"/></g><g stroke="#f0e84c"><circle cx="429.4" cy="173.4" r="1.6"/><circle cx="420.2" cy="177.4" r="2.1"/><circle cx="440.5" cy="219.6" r="1.3"/><circle cx="437.5" cy="190.1" r="1.9"/><circle cx="427.5" cy="186.7" r="1.2"/><circle cx="431.3" cy="177.4" r="1.9"/><circle cx="438" cy="184.2" r="1.6"/><circle cx="427.2" cy="189.8" r="1.2"/><circle cx="433.8" cy="180.7" r="2.1"/><circle cx="430.6" cy="191.2" r="2.1"/><circle cx="411.9" cy="181.5" r="1.3"/><circle cx="418.8" cy="217" r="1.8"/><circle cx="434.4" cy="194" r="2"/><circle cx="420.3" cy="153.3" r="1.3"/><circle cx="436.4" cy="206.4" r="1.7"/><circle cx="427.8" cy="182.8" r="1.3"/><circle cx="404.2" cy="146.8" r="2.5"/><circle cx="423" cy="134.1" r="1.9"/><circle cx="477" cy="146.2" r="1.7"/><circle cx="493.3" cy="138.8" r="1.6"/><circle cx="502.6" cy="158.8" r="1.5"/><circle cx="529.4" cy="140.1" r="1.5"/><circle cx="490.9" cy="267.2" r="1.4"/><circle cx="485.2" cy="196.7" r="3.2"/><circle cx="506.2" cy="234.8" r="1.9"/><circle cx="513" cy="229.4" r="1.7"/><circle cx="504.1" cy="193.5" r="1.5"/><circle cx="423.3" cy="280.2" r="1.6"/><circle cx="426.6" cy="286.1" r="1.2"/><circle cx="433.7" cy="273.4" r="1.9"/><circle cx="460.9" cy="281.2" r="2.7"/><circle cx="428.3" cy="283.3" r="1.4"/><circle cx="437.5" cy="278.4" r="1.3"/><circle cx="437.4" cy="277.7" r="2"/><circle cx="428.8" cy="283.2" r="1.5"/><circle cx="432" cy="290.7" r="1.7"/><circle cx="418.8" cy="284" r="1.3"/><circle cx="437.7" cy="281.5" r="1.7"/><circle cx="483.4" cy="296" r="1.5"/><circle cx="476.3" cy="304.5" r="1.3"/><circle cx="459.2" cy="286.1" r="3"/><circle cx="460.7" cy="297.1" r="1.6"/><circle cx="428.8" cy="261.9" r="1.5"/><circle cx="469.7" cy="108.1" r="3.2"/><circle cx="578.1" cy="253.3" r="1.7"/><circle cx="560.5" cy="243.9" r="1.3"/><circle cx="577.1" cy="241.1" r="1.3"/><circle cx="575" cy="188.2" r="1.4"/><circle cx="569.7" cy="178.9" r="1.8"/><circle cx="593.4" cy="231.9" r="2.6"/><circle cx="549.9" cy="203.2" r="2.5"/><circle cx="526.5" cy="245.7" r="1.3"/><circle cx="535.5" cy="180.5" r="2.4"/><circle cx="571.2" cy="203.4" r="1.8"/><circle cx="568" cy="167.2" r="1.4"/></g><g stroke="#2a5fae"><circle cx="413.9" cy="110" r="1.2"/><circle cx="414.1" cy="111.4" r="1.6"/><circle cx="413.7" cy="112.9" r="1.6"/><circle cx="418.4" cy="115.9" r="1.6"/><circle cx="437.7" cy="142.2" r="1.9"/><circle cx="444.6" cy="174.6" r="1.3"/><circle cx="443.1" cy="153.4" r="1.3"/><circle cx="448.5" cy="144.5" r="1.4"/><circle cx="452.8" cy="190.2" r="1.4"/><circle cx="448.8" cy="156.4" r="1.6"/><circle cx="435.9" cy="169.9" r="1.4"/><circle cx="443.3" cy="174.2" r="2.1"/><circle cx="444.8" cy="147.6" r="1.4"/><circle cx="442.4" cy="142.8" r="1.9"/><circle cx="458.3" cy="131.2" r="1.3"/><circle cx="457.8" cy="133" r="1.6"/><circle cx="448" cy="144.9" r="2.5"/><circle cx="456.9" cy="151.7" r="1.4"/><circle cx="447" cy="138.2" r="1.3"/><circle cx="449.1" cy="164" r="1.4"/><circle cx="436.6" cy="129.4" r="1.5"/><circle cx="456" cy="179.3" r="1.7"/><circle cx="445.2" cy="203.4" r="1.6"/><circle cx="446.3" cy="203.1" r="1.7"/><circle cx="467.7" cy="207.2" r="1.6"/><circle cx="459.8" cy="127.6" r="1.3"/><circle cx="455.4" cy="141.1" r="1.7"/><circle cx="470" cy="129.4" r="1.5"/><circle cx="459.6" cy="124.5" r="1.3"/><circle cx="450.2" cy="140.6" r="2.4"/><circle cx="454.8" cy="148.8" r="1.5"/><circle cx="418.7" cy="140.5" r="1.3"/><circle cx="411.2" cy="155.5" r="1.3"/><circle cx="493" cy="193.3" r="2.2"/><circle cx="528" cy="96.1" r="1.2"/></g><g stroke="#f58520"><circle cx="440.3" cy="191.1" r="1.5"/><circle cx="448.5" cy="222" r="1.6"/><circle cx="436.6" cy="194.8" r="1.6"/><circle cx="488.7" cy="163.2" r="1.6"/><circle cx="476.9" cy="198.8" r="1.2"/><circle cx="500.7" cy="159.8" r="1.5"/><circle cx="512.8" cy="181" r="2.6"/><circle cx="469.8" cy="221.8" r="1.8"/><circle cx="452" cy="220.5" r="1.5"/><circle cx="469.3" cy="231.8" r="1.2"/><circle cx="490.8" cy="242.4" r="1.5"/><circle cx="502.6" cy="227.1" r="1.6"/><circle cx="494.3" cy="230" r="1.8"/><circle cx="436.2" cy="282.1" r="2"/><circle cx="441.7" cy="281.5" r="1.3"/><circle cx="436" cy="294.9" r="1.3"/><circle cx="473.8" cy="296.9" r="1.7"/><circle cx="446.2" cy="264.8" r="1.4"/><circle cx="438.8" cy="252" r="1.4"/><circle cx="478.4" cy="102.6" r="1.4"/><circle cx="570" cy="252.6" r="1.6"/><circle cx="574.2" cy="255.5" r="1.5"/><circle cx="560.7" cy="147.3" r="1.8"/><circle cx="582.5" cy="217.9" r="1.7"/></g><g stroke="#f7a821"><circle cx="439.6" cy="198.2" r="1.2"/><circle cx="413.6" cy="200.8" r="1.6"/><circle cx="443.5" cy="191.3" r="1.3"/><circle cx="454" cy="170.2" r="1.2"/><circle cx="446.6" cy="149.9" r="2.3"/><circle cx="486.2" cy="187.3" r="1.6"/><circle cx="509.2" cy="195.8" r="2.3"/><circle cx="498.8" cy="230.6" r="2.2"/><circle cx="417.1" cy="274" r="1.5"/><circle cx="428.3" cy="283.7" r="1.6"/><circle cx="427.9" cy="282.6" r="1.2"/><circle cx="435.7" cy="287.2" r="1.3"/><circle cx="454.7" cy="275.6" r="1.4"/><circle cx="461.8" cy="273.4" r="1.9"/><circle cx="456.2" cy="287.2" r="3.8"/><circle cx="443.4" cy="100.3" r="2"/><circle cx="568.4" cy="248.4" r="1.6"/><circle cx="550.5" cy="221.4" r="1.6"/><circle cx="586.1" cy="243" r="1.9"/><circle cx="558.9" cy="118.7" r="1.3"/><circle cx="464.6" cy="130.5" r="2.3"/></g><g stroke="#e8352a"><circle cx="464.5" cy="144.4" r="1.3"/><circle cx="499.9" cy="128.8" r="1.7"/><circle cx="437.8" cy="280" r="1.5"/><circle cx="509.7" cy="235" r="1.3"/><circle cx="448.6" cy="284.1" r="2.1"/><circle cx="544.4" cy="193.9" r="1.5"/><circle cx="544.6" cy="223.4" r="1.5"/></g><g stroke="#2a6fc0"><circle cx="412.9" cy="108.6" r="1.2"/><circle cx="417.6" cy="111.2" r="2.3"/><circle cx="409.6" cy="108.2" r="2.9"/><circle cx="410.6" cy="113" r="1.4"/><circle cx="412.3" cy="116.5" r="1.2"/><circle cx="412.8" cy="110.5" r="3.2"/><circle cx="408.4" cy="106.8" r="1.8"/><circle cx="404.4" cy="116.6" r="1.9"/><circle cx="418.6" cy="115.4" r="1.5"/><circle cx="415.7" cy="115.9" r="1.7"/><circle cx="411" cy="111.6" r="1.8"/><circle cx="413" cy="109.7" r="1.2"/><circle cx="435.7" cy="141.9" r="1.2"/><circle cx="457.1" cy="146.5" r="1.8"/><circle cx="439.6" cy="183.7" r="2.1"/><circle cx="442.8" cy="161.9" r="1.2"/><circle cx="451.5" cy="155.4" r="1.4"/><circle cx="452" cy="168.6" r="1.6"/><circle cx="453.9" cy="166.4" r="2"/><circle cx="458.8" cy="151.8" r="1.7"/><circle cx="453.9" cy="168.7" r="1.2"/><circle cx="456.1" cy="186.6" r="1.2"/><circle cx="465.9" cy="189.5" r="1.5"/><circle cx="448.2" cy="177.3" r="1.2"/><circle cx="437.9" cy="142" r="1.2"/><circle cx="459.3" cy="180.4" r="1.6"/><circle cx="434.2" cy="128.5" r="2.6"/><circle cx="441.7" cy="139.4" r="1.4"/><circle cx="440.8" cy="154.3" r="1.2"/><circle cx="447.1" cy="153" r="2.3"/><circle cx="441.8" cy="151.3" r="2.2"/><circle cx="441.9" cy="152.7" r="1.2"/><circle cx="441.8" cy="187.8" r="1.2"/><circle cx="442.4" cy="201.1" r="1.8"/><circle cx="444.8" cy="205.2" r="1.9"/><circle cx="445.5" cy="205.1" r="1.2"/><circle cx="440" cy="207.6" r="1.3"/><circle cx="447.7" cy="207.8" r="1.2"/><circle cx="449.6" cy="196.6" r="1.4"/><circle cx="436.5" cy="211.8" r="1.8"/><circle cx="457.5" cy="194.9" r="1.2"/><circle cx="431.9" cy="200" r="1.6"/><circle cx="437.6" cy="192.2" r="1.5"/><circle cx="455.7" cy="216.9" r="1.4"/><circle cx="460.5" cy="207.4" r="1.5"/><circle cx="435.2" cy="206.1" r="1.3"/><circle cx="456" cy="216.1" r="1.7"/><circle cx="447.5" cy="212.5" r="2"/><circle cx="452.8" cy="209.5" r="1.8"/><circle cx="444.9" cy="204.7" r="1.7"/><circle cx="455.9" cy="126.9" r="1.8"/><circle cx="452.9" cy="150.3" r="1.7"/><circle cx="484.3" cy="159.3" r="1.5"/><circle cx="473.4" cy="149.9" r="1.2"/><circle cx="448" cy="143.4" r="1.3"/><circle cx="462.7" cy="157.9" r="2.4"/><circle cx="454.8" cy="142" r="1.7"/><circle cx="455.1" cy="149.7" r="1.4"/><circle cx="475.9" cy="131.3" r="1.5"/><circle cx="460" cy="142.3" r="1.5"/><circle cx="463.4" cy="136.2" r="1.5"/><circle cx="469.2" cy="140.4" r="1.6"/><circle cx="460.7" cy="146" r="2"/><circle cx="417.4" cy="148" r="1.2"/><circle cx="412.6" cy="172.3" r="1.3"/><circle cx="419.5" cy="164.2" r="3.4"/><circle cx="431.2" cy="142.3" r="3.2"/><circle cx="425.3" cy="153.4" r="1.4"/><circle cx="406.6" cy="152.9" r="1.8"/><circle cx="453.9" cy="116.9" r="1.6"/><circle cx="412.7" cy="187.6" r="1.4"/><circle cx="491.5" cy="127.2" r="2"/><circle cx="524.7" cy="241.3" r="1.3"/><circle cx="517.1" cy="238.2" r="1.5"/><circle cx="435.4" cy="190.2" r="1.7"/><circle cx="488.3" cy="240.1" r="1.2"/><circle cx="479.5" cy="119.6" r="1.7"/></g><g stroke="#f5dc38"><circle cx="423.7" cy="190.2" r="1.2"/><circle cx="441.5" cy="206.9" r="1.6"/><circle cx="445.5" cy="210.8" r="1.2"/><circle cx="432.3" cy="218.2" r="1.4"/><circle cx="443.4" cy="167.6" r="1.3"/><circle cx="439.6" cy="220.9" r="1.9"/><circle cx="428.8" cy="222.2" r="1.2"/><circle cx="437.9" cy="196.6" r="1.7"/><circle cx="446.6" cy="218.6" r="2.3"/><circle cx="421.1" cy="188.7" r="1.2"/><circle cx="433" cy="183.6" r="1.3"/><circle cx="426.6" cy="185" r="1.2"/><circle cx="426.1" cy="213.2" r="1.7"/><circle cx="432.7" cy="176.5" r="1.5"/><circle cx="429.2" cy="213.5" r="1.4"/><circle cx="450" cy="186.5" r="1.5"/><circle cx="430.5" cy="213.9" r="1.3"/><circle cx="444.7" cy="192.6" r="1.7"/><circle cx="511.2" cy="158.3" r="1.2"/><circle cx="514.5" cy="136.6" r="1.9"/><circle cx="513.1" cy="213.3" r="1.5"/><circle cx="437.2" cy="259.9" r="1.2"/><circle cx="431.3" cy="285.4" r="1.3"/><circle cx="431.3" cy="285.8" r="1.6"/><circle cx="439.1" cy="279.6" r="1.4"/><circle cx="435.1" cy="284.2" r="1.7"/><circle cx="448.7" cy="283.3" r="1.3"/><circle cx="436.1" cy="283.9" r="1.4"/><circle cx="444.3" cy="281.2" r="1.8"/><circle cx="436.4" cy="283.4" r="2.2"/><circle cx="443.1" cy="276.5" r="2"/><circle cx="433.7" cy="287" r="1.6"/><circle cx="457.1" cy="326.1" r="1.7"/><circle cx="435.7" cy="241.5" r="2"/><circle cx="457.8" cy="240.6" r="1.5"/><circle cx="423.5" cy="114.2" r="1.4"/><circle cx="590" cy="262" r="1.2"/><circle cx="569" cy="255.2" r="1.4"/><circle cx="575.6" cy="254.7" r="1.3"/><circle cx="593.7" cy="235.7" r="1.6"/><circle cx="593.8" cy="228.1" r="1.3"/><circle cx="572.7" cy="135.1" r="1.7"/></g><g stroke="#ec4a26"><circle cx="416.8" cy="139.3" r="1.3"/><circle cx="422.4" cy="148.6" r="1.9"/><circle cx="455" cy="145.5" r="1.2"/><circle cx="448.8" cy="139.8" r="1.4"/><circle cx="432.1" cy="128.5" r="1.5"/><circle cx="530" cy="203.9" r="1.6"/><circle cx="521.2" cy="197.6" r="1.4"/><circle cx="420.9" cy="261.6" r="2.7"/><circle cx="456.7" cy="254.5" r="1.4"/><circle cx="468.4" cy="323.3" r="1.7"/></g><g stroke="#f7cc2f"><circle cx="434.2" cy="173" r="1.4"/><circle cx="418.8" cy="191.2" r="1.5"/><circle cx="449.6" cy="215.4" r="1.3"/><circle cx="422.6" cy="187.9" r="1.7"/><circle cx="435.6" cy="199.5" r="1.4"/><circle cx="439.9" cy="215.2" r="1.3"/><circle cx="413.5" cy="157.6" r="1.5"/><circle cx="421.3" cy="144.5" r="1.8"/><circle cx="478.2" cy="157.2" r="2.1"/><circle cx="498.2" cy="199.4" r="1.4"/><circle cx="499.8" cy="117.8" r="1.4"/><circle cx="524.5" cy="216.9" r="1.3"/><circle cx="532.3" cy="222.3" r="3.1"/><circle cx="493.8" cy="219.4" r="1.2"/><circle cx="521.9" cy="197.6" r="1.3"/><circle cx="482.7" cy="252.1" r="1.4"/><circle cx="443.7" cy="262.1" r="2.2"/><circle cx="504.6" cy="217" r="2.1"/><circle cx="500.4" cy="245.5" r="1.8"/><circle cx="499.9" cy="228.7" r="1.4"/><circle cx="499.8" cy="237.1" r="1.4"/><circle cx="432.6" cy="288.4" r="2.2"/><circle cx="418.7" cy="280.3" r="1.4"/><circle cx="424.7" cy="269.2" r="2.5"/><circle cx="436.6" cy="280.7" r="1.3"/><circle cx="438.5" cy="281.2" r="1.7"/><circle cx="427.7" cy="285.8" r="2.2"/><circle cx="424.9" cy="290.5" r="1.7"/><circle cx="433.1" cy="287.6" r="2"/><circle cx="431.8" cy="282.9" r="1.4"/><circle cx="458" cy="294.7" r="1.2"/><circle cx="474.6" cy="312.3" r="1.2"/><circle cx="429.3" cy="231.9" r="1.5"/><circle cx="457.1" cy="106.7" r="1.3"/><circle cx="488.3" cy="110.5" r="2.1"/><circle cx="582" cy="249.3" r="1.6"/><circle cx="571.4" cy="251.9" r="2.4"/><circle cx="576.5" cy="188" r="1.7"/><circle cx="572.6" cy="178.3" r="1.2"/><circle cx="593.9" cy="228.9" r="2.3"/><circle cx="541" cy="202.6" r="1.5"/><circle cx="544" cy="203" r="2.7"/><circle cx="567" cy="122.1" r="1.7"/><circle cx="570" cy="207.7" r="2.5"/><circle cx="471.4" cy="191.3" r="1.3"/><circle cx="502.1" cy="192.5" r="1.3"/></g><g stroke="#f7ba28"><circle cx="419.8" cy="197.4" r="1.9"/><circle cx="421.2" cy="169.8" r="1.2"/><circle cx="433.1" cy="187.7" r="1.6"/><circle cx="428.4" cy="212.8" r="1.6"/><circle cx="430.3" cy="168.8" r="2.5"/><circle cx="425.3" cy="198.9" r="1.6"/><circle cx="407.3" cy="207.3" r="1.6"/><circle cx="441.6" cy="202.5" r="1.4"/><circle cx="437.9" cy="197" r="2"/><circle cx="414" cy="157.5" r="1.2"/><circle cx="420.3" cy="169.9" r="1.3"/><circle cx="473" cy="147" r="1.2"/><circle cx="468" cy="128.5" r="2.4"/><circle cx="482.7" cy="174.8" r="1.5"/><circle cx="478.7" cy="182" r="1.5"/><circle cx="504.3" cy="220.4" r="1.7"/><circle cx="499.1" cy="265.8" r="1.7"/><circle cx="503.7" cy="234.3" r="1.2"/><circle cx="422.6" cy="279.3" r="1.9"/><circle cx="442" cy="277.8" r="1.4"/><circle cx="429.7" cy="281.7" r="2.8"/><circle cx="438" cy="279.3" r="1.8"/><circle cx="432.7" cy="288.9" r="1.3"/><circle cx="473.7" cy="293.9" r="1.4"/><circle cx="478.6" cy="283.6" r="1.2"/><circle cx="454.3" cy="297.5" r="1.9"/><circle cx="466.6" cy="310.2" r="1.8"/><circle cx="427.3" cy="104" r="1.2"/><circle cx="561.8" cy="250.7" r="1.4"/><circle cx="422.2" cy="242.5" r="1.4"/></g><g stroke="#2b67b8"><circle cx="415.8" cy="115.1" r="1.7"/><circle cx="410.6" cy="109.4" r="1.7"/><circle cx="413.1" cy="110.9" r="1.2"/><circle cx="414.7" cy="110.8" r="2"/><circle cx="418.6" cy="110.8" r="2.1"/><circle cx="415.1" cy="105.5" r="1.5"/><circle cx="423.5" cy="105.7" r="2"/><circle cx="412.2" cy="111.4" r="1.2"/><circle cx="438.5" cy="155.3" r="1.4"/><circle cx="441.1" cy="160.8" r="1.6"/><circle cx="445.7" cy="153.2" r="2"/><circle cx="439.9" cy="197.3" r="1.3"/><circle cx="450.2" cy="189.3" r="1.4"/><circle cx="447" cy="157.9" r="2.1"/><circle cx="440.9" cy="177.7" r="1.8"/><circle cx="443.9" cy="126" r="2.3"/><circle cx="460.3" cy="182.1" r="1.8"/><circle cx="450.8" cy="138.6" r="1.8"/><circle cx="453.2" cy="180.1" r="1.5"/><circle cx="445" cy="157.5" r="1.8"/><circle cx="445.9" cy="141.7" r="1.4"/><circle cx="457.7" cy="158.5" r="1.5"/><circle cx="437.9" cy="141.5" r="1.8"/><circle cx="430.1" cy="145.2" r="1.3"/><circle cx="459.9" cy="203.5" r="1.2"/><circle cx="449.1" cy="193.7" r="2.3"/><circle cx="450.1" cy="202.8" r="1.2"/><circle cx="454.7" cy="203.1" r="1.2"/><circle cx="461" cy="190.4" r="1.7"/><circle cx="438.1" cy="186.9" r="1.6"/><circle cx="447" cy="209.9" r="1.4"/><circle cx="459.4" cy="203.7" r="1.3"/><circle cx="458.8" cy="194.7" r="1.6"/><circle cx="450" cy="208.1" r="1.3"/><circle cx="473" cy="141.4" r="2.7"/><circle cx="469.9" cy="128.1" r="1.6"/><circle cx="474.1" cy="150.8" r="1.8"/><circle cx="471.6" cy="139.7" r="1.4"/><circle cx="467.7" cy="139.8" r="2.1"/><circle cx="422.8" cy="153.2" r="1.7"/><circle cx="420" cy="149.1" r="1.4"/><circle cx="410.5" cy="161.6" r="1.9"/><circle cx="426.2" cy="165.6" r="1.6"/><circle cx="434" cy="159.8" r="1.5"/><circle cx="515.4" cy="115.6" r="1.7"/></g><g stroke="#f05e23"><circle cx="441.8" cy="224.2" r="1.2"/><circle cx="450.7" cy="157.5" r="1.2"/><circle cx="464.3" cy="253.4" r="1.5"/><circle cx="425.5" cy="284.7" r="1.8"/><circle cx="434.4" cy="278.7" r="1.4"/><circle cx="478.9" cy="272" r="1.9"/><circle cx="472.8" cy="318.7" r="1.4"/><circle cx="417.7" cy="250.6" r="1.3"/><circle cx="482.5" cy="106.9" r="1.9"/><circle cx="561.2" cy="230.7" r="1.5"/></g><g stroke="#2f78c8"><circle cx="410.1" cy="107.9" r="1.4"/><circle cx="416.3" cy="108.3" r="1.5"/><circle cx="416.8" cy="105.2" r="1.3"/><circle cx="442.7" cy="149.9" r="1.4"/><circle cx="473.7" cy="197.7" r="1.8"/><circle cx="448.2" cy="142.7" r="1.3"/><circle cx="448.9" cy="170.6" r="1.6"/><circle cx="465.1" cy="182.2" r="1.3"/><circle cx="448.4" cy="165.9" r="1.3"/><circle cx="448.8" cy="161.7" r="1.4"/><circle cx="447" cy="150.8" r="1.4"/><circle cx="457.7" cy="147.7" r="1.3"/><circle cx="441.4" cy="136.6" r="1.8"/><circle cx="449" cy="172.9" r="2.6"/><circle cx="432.4" cy="124.7" r="2.8"/><circle cx="434.1" cy="116.8" r="1.9"/><circle cx="440.2" cy="179.8" r="1.6"/><circle cx="473" cy="172" r="1.4"/><circle cx="444.9" cy="188.8" r="1.3"/><circle cx="461.6" cy="148" r="2"/><circle cx="448" cy="198.2" r="1.3"/><circle cx="440.9" cy="200.6" r="1.4"/><circle cx="460.1" cy="200.7" r="2.2"/><circle cx="442" cy="207" r="1.5"/><circle cx="440.1" cy="199" r="2"/><circle cx="429.2" cy="186" r="1.5"/><circle cx="467.1" cy="142.6" r="1.9"/><circle cx="447.9" cy="122.8" r="2.8"/><circle cx="471.1" cy="157.2" r="1.2"/><circle cx="466.1" cy="142.8" r="1.3"/><circle cx="413.5" cy="148.4" r="1.6"/><circle cx="419.9" cy="156.2" r="2.1"/><circle cx="421.3" cy="166.8" r="1.2"/><circle cx="422.7" cy="167.4" r="1.3"/><circle cx="419.2" cy="152.8" r="1.4"/><circle cx="405.1" cy="154.8" r="1.3"/><circle cx="413.4" cy="122.2" r="2"/><circle cx="465.8" cy="243.5" r="1.6"/><circle cx="476.5" cy="134.5" r="1.3"/></g><g stroke="#f37321"><circle cx="402.6" cy="218.1" r="1.6"/><circle cx="421.9" cy="203.2" r="2.4"/><circle cx="430.1" cy="194.9" r="1.5"/><circle cx="417.2" cy="224" r="1.2"/><circle cx="429.6" cy="202.2" r="1.4"/><circle cx="518.2" cy="186" r="1.8"/><circle cx="463.9" cy="263.4" r="1.2"/><circle cx="497.5" cy="227.4" r="1.4"/><circle cx="443.9" cy="277.1" r="1.3"/><circle cx="430.9" cy="286.1" r="1.7"/></g><g stroke="#e5222a"><circle cx="487.3" cy="179.5" r="1.3"/><circle cx="465.8" cy="116.2" r="1.4"/></g></g>
<path d="M443.5 195.4L401 264.5" stroke="#1a1a1a" stroke-width="1.1" fill="none"/>
<circle cx="392.3" cy="276.7" r="14.4" fill="#fff" stroke="#111" stroke-width="1.4"/>
<path d="M381.4 267.2A14.4 14.4 0 0 1 404.4 284.6Q390.6 280.8 381.4 267.2Z" fill="#111"/>
<path d="M439.7 127L441.7 132.4L447.5 132.7L443 136.3L444.5 141.8L439.7 138.6L434.9 141.8L436.4 136.3L431.9 132.7L437.7 132.4Z" fill="#e5332b" stroke="#3a0a0a" stroke-width="0.9"/>
<path d="M443.5 189L445.1 193.4L449.8 193.6L446.1 196.5L447.4 200.9L443.5 198.4L439.6 200.9L440.9 196.5L437.2 193.6L441.9 193.4Z" fill="#1f4e9c" stroke="#111" stroke-width="0.9"/>
<path d="M479.3 279.8L480.9 284L485.4 284.2L481.9 287L483.1 291.4L479.3 288.9L475.5 291.4L476.7 287L473.2 284.2L477.7 284Z" fill="#e0302a" stroke="#222" stroke-width="0.9"/>
<text x="354.3" y="305.4" font-size="12.2" fill="#222">20140316 <tspan font-style="italic">M</tspan> 6.7</text>
<rect x="349.5" y="17.5" width="288" height="335" fill="none" stroke="#222" stroke-width="1"/>
<path d="M420.9 17.5v4M420.9 352.5v-4M565 17.5v4M565 352.5v-4M349.5 47.7h5M637.5 47.7h-5M349.5 199.9h5M637.5 199.9h-5" stroke="#222" stroke-width="1" fill="none"/>
<text x="349.3" y="13" font-size="16.2" text-anchor="start" fill="#111" font-weight="bold" stroke="#111" stroke-width="0.45">c</text>
<text x="420.9" y="13.5" font-size="14.1" text-anchor="middle" fill="#222" >−71º</text>
<text x="565" y="13.5" font-size="14.1" text-anchor="middle" fill="#222" >−70º</text>
<text x="641.2" y="53.4" font-size="14.1" text-anchor="start" fill="#222" >−19º</text>
<text x="641.2" y="205.6" font-size="14.1" text-anchor="start" fill="#222" >−20º</text>
<text x="641.2" y="357.8" font-size="14.1" text-anchor="start" fill="#222" >−21º</text>
</g>
<g id="panel-d">
<g clip-path="url(#cd)" fill="none" stroke-width="1.1"><g stroke="#2a5fae"><circle cx="566.1" cy="391" r="1"/><circle cx="542.7" cy="410.2" r="1"/><circle cx="593.8" cy="384.7" r="1.2"/><circle cx="566.3" cy="406.2" r="1.3"/><circle cx="595.3" cy="439.6" r="1"/><circle cx="460.7" cy="464.2" r="1.1"/><circle cx="569.2" cy="408" r="1.1"/><circle cx="565.6" cy="384.9" r="1.3"/><circle cx="593.2" cy="392.6" r="1.2"/><circle cx="591.6" cy="392.5" r="1.2"/></g><g stroke="#38a8e4"><circle cx="605.8" cy="419.1" r="1.1"/><circle cx="495" cy="393.7" r="1.1"/><circle cx="565.5" cy="419.8" r="1.5"/><circle cx="428.3" cy="460.4" r="1.1"/><circle cx="628.5" cy="411.6" r="1.4"/><circle cx="520.1" cy="382.5" r="1.7"/><circle cx="511.3" cy="407.6" r="1.5"/><circle cx="585.6" cy="475.5" r="1.3"/><circle cx="514.9" cy="439.6" r="1.1"/><circle cx="574.5" cy="433.4" r="1.1"/></g><g stroke="#4ab8e6"><circle cx="549.7" cy="478.8" r="1.5"/><circle cx="564.1" cy="439.3" r="1.1"/><circle cx="511.1" cy="402.2" r="1.2"/><circle cx="412" cy="436.7" r="1"/><circle cx="611.9" cy="480" r="1.3"/><circle cx="534.2" cy="483.4" r="1.4"/><circle cx="582.9" cy="432.9" r="1.2"/><circle cx="526" cy="430.3" r="1.3"/><circle cx="575.8" cy="408.9" r="1.4"/><circle cx="598.7" cy="433.4" r="1.4"/></g><g stroke="#2a5fae"><circle cx="567.2" cy="404.2" r="1.4"/><circle cx="594.1" cy="390.8" r="1.2"/><circle cx="594" cy="399.5" r="1.2"/><circle cx="608.9" cy="424.8" r="1"/><circle cx="541" cy="420" r="1.2"/><circle cx="568.7" cy="389.5" r="1.2"/><circle cx="596.4" cy="393.1" r="1.2"/><circle cx="515.3" cy="396.6" r="1.1"/><circle cx="634.5" cy="403.5" r="2.7"/><circle cx="469.3" cy="458.4" r="1.4"/></g><g stroke="#a6d9e5"><circle cx="595.3" cy="479.2" r="1.8"/><circle cx="487.3" cy="423.9" r="1.4"/><circle cx="499" cy="422.1" r="1"/><circle cx="525.7" cy="493.8" r="1.4"/><circle cx="537.6" cy="423" r="1"/><circle cx="586.1" cy="444.6" r="1.8"/><circle cx="570.1" cy="469.1" r="1"/><circle cx="472" cy="399.2" r="1"/><circle cx="586.4" cy="432.6" r="1.4"/><circle cx="518.4" cy="460.5" r="1.6"/></g><g stroke="#38a8e4"><circle cx="616.6" cy="484.2" r="1.2"/><circle cx="501.8" cy="398.6" r="1.5"/><circle cx="541.2" cy="446" r="1.6"/><circle cx="526" cy="385.5" r="2.5"/><circle cx="570.2" cy="453.4" r="1"/><circle cx="554" cy="436.3" r="1.2"/><circle cx="624.4" cy="416" r="1"/><circle cx="601.7" cy="441.1" r="1"/><circle cx="485.3" cy="399.8" r="1"/><circle cx="555.5" cy="447.2" r="1.4"/></g><g stroke="#2b6fc0"><circle cx="593.9" cy="391.4" r="1.2"/><circle cx="564.1" cy="382.5" r="1.1"/><circle cx="592.1" cy="395.7" r="1.2"/><circle cx="630.8" cy="419" r="2.3"/><circle cx="625.7" cy="408.9" r="1.7"/><circle cx="569.4" cy="381.1" r="1.1"/><circle cx="592.1" cy="398" r="1.2"/></g><g stroke="#8fd1e2"><circle cx="594.2" cy="441.3" r="1.1"/><circle cx="634.6" cy="455.8" r="1.3"/><circle cx="571" cy="488.6" r="1"/><circle cx="540.5" cy="442.9" r="1.1"/><circle cx="614.7" cy="480.2" r="1.4"/><circle cx="578.7" cy="473.5" r="1.4"/><circle cx="588.2" cy="493.2" r="1.3"/><circle cx="521.3" cy="446.6" r="1.3"/><circle cx="553.2" cy="412.9" r="1"/><circle cx="543.3" cy="483.3" r="1.1"/></g><g stroke="#62c1e3"><circle cx="602.4" cy="477.3" r="1.7"/><circle cx="567.5" cy="484.2" r="1.3"/><circle cx="508.4" cy="440.3" r="2"/><circle cx="560.8" cy="473.7" r="1.4"/><circle cx="552.3" cy="405.3" r="1.2"/></g><g stroke="#4ab8e6"><circle cx="569.5" cy="455.4" r="1.2"/><circle cx="521.2" cy="417.1" r="1.7"/><circle cx="497.5" cy="460.8" r="1.8"/><circle cx="587.4" cy="458.8" r="1.8"/><circle cx="601.1" cy="449.1" r="1"/><circle cx="568.5" cy="383.8" r="1.1"/><circle cx="516.7" cy="432.3" r="1"/></g><g stroke="#38a8e4"><circle cx="566.2" cy="386.4" r="1.8"/><circle cx="476.1" cy="410.5" r="1.9"/><circle cx="550.4" cy="465.3" r="1.6"/><circle cx="565.4" cy="401.3" r="1.9"/><circle cx="460.1" cy="435.8" r="1.5"/><circle cx="622.9" cy="445.9" r="1"/><circle cx="510" cy="421.3" r="1.2"/><circle cx="515.6" cy="409.8" r="1.1"/><circle cx="589.7" cy="470.5" r="1.2"/><circle cx="504.7" cy="409.5" r="1.5"/></g><g stroke="#2f96df"><circle cx="522.4" cy="423.1" r="1.2"/><circle cx="588.3" cy="471" r="1.2"/><circle cx="590.3" cy="497.2" r="1"/><circle cx="564.5" cy="393.3" r="1.3"/><circle cx="576.4" cy="451.1" r="1.2"/><circle cx="541.7" cy="482.5" r="1.2"/><circle cx="565.5" cy="381.3" r="2.5"/><circle cx="609.4" cy="435.5" r="2.6"/><circle cx="530.2" cy="465.2" r="1.7"/><circle cx="507.8" cy="399.2" r="1.2"/></g><g stroke="#2f84d2"><circle cx="498.7" cy="461.7" r="1.6"/><circle cx="601.8" cy="468.4" r="1.2"/><circle cx="597.8" cy="439.1" r="1.1"/><circle cx="478.7" cy="458" r="1.1"/><circle cx="567.5" cy="391" r="1.1"/><circle cx="566.9" cy="447.8" r="1.5"/><circle cx="593.2" cy="459.2" r="1.2"/></g><g stroke="#62c1e3"><circle cx="496.6" cy="401.7" r="1.5"/><circle cx="507.9" cy="417.6" r="2.1"/><circle cx="608.5" cy="414.2" r="1.5"/><circle cx="570.9" cy="413" r="1.3"/><circle cx="621.8" cy="461.8" r="1.3"/><circle cx="582.7" cy="435.3" r="1.4"/><circle cx="543.2" cy="436.7" r="1.2"/><circle cx="485.3" cy="437.6" r="1.3"/><circle cx="524.9" cy="407.4" r="1"/><circle cx="556.5" cy="414.3" r="1.1"/></g><g stroke="#a6d9e5"><circle cx="564.7" cy="464.4" r="1.1"/><circle cx="571.7" cy="453.4" r="1.2"/><circle cx="601.8" cy="443.2" r="1.1"/><circle cx="565.4" cy="484.1" r="1.2"/><circle cx="589" cy="457.4" r="1.7"/><circle cx="493.4" cy="435.2" r="1.1"/><circle cx="533.2" cy="430.2" r="1.3"/><circle cx="549.2" cy="426.3" r="1.1"/><circle cx="543.9" cy="425.5" r="1.1"/><circle cx="482.7" cy="393.9" r="1.5"/></g><g stroke="#4ab8e6"><circle cx="487" cy="449.9" r="1"/><circle cx="520.7" cy="419.5" r="1"/><circle cx="586.8" cy="426" r="1.1"/><circle cx="595.3" cy="439.3" r="1.1"/><circle cx="629" cy="457.7" r="1"/><circle cx="568" cy="402.9" r="1"/><circle cx="431.6" cy="435.2" r="1.5"/><circle cx="592.8" cy="390.3" r="1.2"/><circle cx="527.3" cy="415.6" r="1.5"/><circle cx="555.7" cy="451.6" r="1.3"/></g><g stroke="#2f84d2"><circle cx="551" cy="469.9" r="1.2"/><circle cx="568.6" cy="396.6" r="1.7"/><circle cx="537" cy="418.7" r="1.4"/><circle cx="611.1" cy="503.1" r="1.3"/><circle cx="544.7" cy="473.2" r="2"/><circle cx="508.1" cy="414.2" r="1"/><circle cx="573.8" cy="477.1" r="1.1"/><circle cx="592.3" cy="397.5" r="1.2"/><circle cx="614.5" cy="464.5" r="1"/><circle cx="566.2" cy="381.3" r="1.2"/><circle cx="558.7" cy="424.7" r="1.6"/><circle cx="438.1" cy="465.4" r="2.2"/><circle cx="508.5" cy="392.7" r="1.1"/><circle cx="557" cy="434" r="1"/><circle cx="611.8" cy="462.1" r="1.2"/><circle cx="515.2" cy="437.3" r="2"/><circle cx="595.5" cy="390.3" r="1.2"/><circle cx="509.1" cy="425.5" r="1.3"/><circle cx="581" cy="438.6" r="1"/><circle cx="505.3" cy="407.6" r="1.1"/></g><g stroke="#78c9e1"><circle cx="569.2" cy="469.4" r="1"/><circle cx="567.5" cy="474.8" r="1.3"/><circle cx="576.9" cy="417.1" r="1.6"/><circle cx="636.3" cy="426.5" r="1.2"/><circle cx="530.6" cy="413.7" r="1"/><circle cx="440.4" cy="451.9" r="1.8"/><circle cx="511.5" cy="418" r="1"/><circle cx="581.6" cy="468.5" r="1.2"/><circle cx="566" cy="401.7" r="1.9"/><circle cx="498.8" cy="402.9" r="1.5"/></g><g stroke="#38a8e4"><circle cx="415" cy="460.6" r="1.8"/><circle cx="568" cy="465.8" r="1.1"/><circle cx="606.8" cy="414.5" r="1.9"/><circle cx="563" cy="379.8" r="1.1"/><circle cx="564.8" cy="395.7" r="1.3"/></g><g stroke="#78c9e1"><circle cx="416.8" cy="467.9" r="1.3"/><circle cx="500" cy="428.4" r="1.1"/><circle cx="628.4" cy="482" r="1"/><circle cx="535.1" cy="421.2" r="1"/><circle cx="498.5" cy="420.3" r="1"/><circle cx="542" cy="403.7" r="1"/><circle cx="596.6" cy="499.5" r="1.6"/><circle cx="494.1" cy="424.4" r="1.6"/><circle cx="576.2" cy="459.5" r="1.3"/><circle cx="554.9" cy="384.7" r="1.5"/></g><g stroke="#62c1e3"><circle cx="531.9" cy="473.4" r="1.4"/><circle cx="502.6" cy="450" r="1"/><circle cx="528.8" cy="455.5" r="1.3"/><circle cx="555.6" cy="468.7" r="1"/><circle cx="553.6" cy="445.2" r="1.4"/><circle cx="576.1" cy="495.1" r="1.4"/><circle cx="568.8" cy="437.4" r="1.4"/><circle cx="595.2" cy="500.6" r="1.2"/><circle cx="412.5" cy="447.6" r="1.9"/><circle cx="574.4" cy="452.8" r="1"/></g><g stroke="#78c9e1"><circle cx="563.5" cy="437.1" r="1.6"/><circle cx="536.6" cy="424.5" r="2.1"/><circle cx="527" cy="493.7" r="1.3"/><circle cx="591.7" cy="431.6" r="1.2"/><circle cx="572.2" cy="394.9" r="1.4"/><circle cx="492.1" cy="454.3" r="1.7"/><circle cx="472.5" cy="438.2" r="1.7"/><circle cx="585.2" cy="494.4" r="1.6"/><circle cx="536.4" cy="384.7" r="1.2"/><circle cx="529.9" cy="406.6" r="1.4"/></g><g stroke="#62c1e3"><circle cx="556.4" cy="407.2" r="1.5"/><circle cx="535.2" cy="443.2" r="1.1"/><circle cx="535.7" cy="415.3" r="1.3"/><circle cx="553.1" cy="382.4" r="1.2"/><circle cx="608.2" cy="479.8" r="1"/><circle cx="587.6" cy="445.3" r="1"/><circle cx="610.7" cy="467.9" r="1.1"/><circle cx="588.7" cy="421.3" r="1.2"/><circle cx="524.7" cy="389.9" r="1.5"/><circle cx="623.3" cy="444.4" r="1.7"/></g><g stroke="#38a8e4"><circle cx="487.9" cy="441.5" r="1.7"/><circle cx="500.7" cy="407.3" r="1.2"/><circle cx="516.4" cy="469" r="1.1"/><circle cx="574.1" cy="430.3" r="1"/><circle cx="466.6" cy="425.7" r="1"/><circle cx="435.2" cy="453" r="1.8"/><circle cx="552.7" cy="454.9" r="1.6"/><circle cx="535.8" cy="428.6" r="1.2"/><circle cx="567.4" cy="399.5" r="1.2"/><circle cx="566.1" cy="407.9" r="1"/></g><g stroke="#4ab8e6"><circle cx="628.3" cy="473.7" r="1.1"/><circle cx="531" cy="423" r="1"/><circle cx="504.4" cy="407" r="1.8"/><circle cx="567.1" cy="403.8" r="1.1"/><circle cx="582.1" cy="470.3" r="1.3"/><circle cx="548.8" cy="458.4" r="1.2"/><circle cx="568.9" cy="453.5" r="1.6"/><circle cx="568.2" cy="399.4" r="1.4"/><circle cx="540.1" cy="488.5" r="1"/><circle cx="575.5" cy="442.2" r="1.1"/></g><g stroke="#2f96df"><circle cx="565.5" cy="388.7" r="1.2"/><circle cx="569.6" cy="397.4" r="1"/><circle cx="583.4" cy="453.7" r="1"/><circle cx="580.5" cy="467.8" r="1.1"/><circle cx="517" cy="447.5" r="1.9"/><circle cx="567.5" cy="395.5" r="1"/><circle cx="567.7" cy="493.8" r="1.4"/><circle cx="581.9" cy="467.1" r="1"/><circle cx="559.5" cy="463.9" r="1.3"/><circle cx="568.5" cy="407.8" r="1.6"/></g><g stroke="#2f84d2"><circle cx="634.2" cy="416.8" r="1"/><circle cx="612.1" cy="461.4" r="1.4"/><circle cx="531" cy="430.4" r="1.4"/><circle cx="586.3" cy="448.9" r="1"/><circle cx="558.8" cy="440.7" r="1.9"/><circle cx="569" cy="379.8" r="1.4"/><circle cx="586.1" cy="452.3" r="1.2"/><circle cx="593.9" cy="386.6" r="1.2"/><circle cx="589.6" cy="502.8" r="1.1"/><circle cx="529.4" cy="421.7" r="1.3"/></g><g stroke="#4ab8e6"><circle cx="423.3" cy="457.3" r="1.3"/><circle cx="528.8" cy="431.3" r="1.2"/><circle cx="526.7" cy="479.7" r="1.7"/><circle cx="478.3" cy="463.3" r="1.1"/><circle cx="543.2" cy="465.5" r="1.3"/><circle cx="607.4" cy="480.3" r="1.7"/><circle cx="567.3" cy="389.5" r="1.4"/><circle cx="556.3" cy="446.2" r="1.1"/><circle cx="567.2" cy="438.7" r="1.7"/><circle cx="524.5" cy="464.6" r="1.1"/></g><g stroke="#78c9e1"><circle cx="531.7" cy="459" r="1"/><circle cx="600.5" cy="404.6" r="2.7"/><circle cx="553.6" cy="464.7" r="1"/><circle cx="591.7" cy="439.4" r="1.9"/><circle cx="457" cy="453.6" r="1.3"/><circle cx="590.8" cy="484.6" r="1.2"/><circle cx="529.4" cy="447.4" r="1.8"/><circle cx="572.5" cy="460.6" r="1"/></g><g stroke="#38a8e4"><circle cx="522.3" cy="445.1" r="1.1"/><circle cx="555.9" cy="424.8" r="1.6"/><circle cx="538.1" cy="417.4" r="1.4"/><circle cx="635.8" cy="434" r="1.2"/><circle cx="518.4" cy="456" r="1.6"/><circle cx="489.5" cy="388.5" r="1.3"/><circle cx="541.5" cy="483" r="1.7"/><circle cx="575.2" cy="444.4" r="1"/><circle cx="573.4" cy="472.4" r="1.6"/><circle cx="446" cy="461.9" r="1.2"/></g><g stroke="#a6d9e5"><circle cx="546.7" cy="476.6" r="1"/><circle cx="616.3" cy="498.6" r="1.6"/><circle cx="588.1" cy="463.9" r="1.1"/><circle cx="534.4" cy="419.9" r="1"/><circle cx="500.7" cy="489.9" r="1.4"/></g><g stroke="#2b6fc0"><circle cx="568.1" cy="387.1" r="1.1"/><circle cx="600.1" cy="432.6" r="1.2"/><circle cx="596.3" cy="387.5" r="1.2"/><circle cx="595.3" cy="398.6" r="1.2"/><circle cx="516.4" cy="414.8" r="1.8"/><circle cx="615.2" cy="417.4" r="1"/><circle cx="512.4" cy="422.6" r="1.8"/><circle cx="593.4" cy="392" r="1.2"/><circle cx="568.9" cy="395.8" r="1.2"/><circle cx="597.2" cy="391.3" r="1.2"/></g><g stroke="#2f96df"><circle cx="542.9" cy="396.8" r="1.5"/><circle cx="411.9" cy="465.6" r="1.6"/><circle cx="584.9" cy="472.3" r="1.3"/><circle cx="481.6" cy="427.1" r="1.5"/><circle cx="500.1" cy="418.5" r="1.5"/><circle cx="526.6" cy="433.3" r="1.2"/></g><g stroke="#2f84d2"><circle cx="477" cy="402.8" r="1.5"/><circle cx="511.4" cy="444.3" r="1.1"/><circle cx="591.4" cy="428.1" r="1"/><circle cx="627.4" cy="401.8" r="1.2"/><circle cx="529.1" cy="491.8" r="1.1"/><circle cx="484.2" cy="447.9" r="1.1"/><circle cx="468" cy="449.7" r="1.2"/><circle cx="542.7" cy="492.1" r="2.2"/><circle cx="527.5" cy="495.7" r="1.3"/><circle cx="553.4" cy="435.4" r="1.1"/></g><g stroke="#62c1e3"><circle cx="549.6" cy="467.5" r="1"/><circle cx="474.7" cy="441.6" r="1.5"/><circle cx="544.6" cy="410.1" r="1.3"/><circle cx="615.9" cy="436.6" r="1.6"/><circle cx="557.3" cy="460.8" r="1.3"/><circle cx="489.6" cy="442.5" r="1.2"/><circle cx="532.8" cy="479.9" r="1"/><circle cx="596.5" cy="469.7" r="1"/><circle cx="601.7" cy="435.1" r="1.8"/><circle cx="593.1" cy="481.9" r="1.3"/><circle cx="574.6" cy="460.6" r="1"/><circle cx="555.1" cy="440.7" r="1.4"/><circle cx="555.6" cy="426.7" r="1.1"/><circle cx="496.9" cy="407" r="1.2"/><circle cx="516" cy="484.1" r="1.1"/><circle cx="573.3" cy="409.3" r="1.5"/><circle cx="479.4" cy="464.9" r="1.5"/><circle cx="512.6" cy="432.8" r="1.1"/><circle cx="453.3" cy="447.6" r="1.1"/><circle cx="585.8" cy="480.9" r="1"/></g><g stroke="#2f84d2"><circle cx="568.6" cy="443.6" r="2.1"/><circle cx="632.9" cy="438.8" r="1.8"/><circle cx="571.4" cy="386.5" r="1.1"/><circle cx="609.8" cy="439" r="1.1"/><circle cx="533.6" cy="403.9" r="1.1"/><circle cx="555.8" cy="438.2" r="1.6"/><circle cx="551.7" cy="489.2" r="1.1"/><circle cx="582.8" cy="479.4" r="1.1"/><circle cx="499.1" cy="464.5" r="1"/><circle cx="588.6" cy="446.8" r="1.1"/></g><g stroke="#78c9e1"><circle cx="491.4" cy="407" r="1.1"/><circle cx="549.5" cy="475.1" r="1.1"/><circle cx="629.7" cy="399.9" r="1.6"/><circle cx="508" cy="426.5" r="1.8"/><circle cx="541.8" cy="449.6" r="1.1"/><circle cx="542.1" cy="437.4" r="1.4"/><circle cx="521.3" cy="422.4" r="1.5"/><circle cx="414.8" cy="450.1" r="1.4"/><circle cx="470.9" cy="400.9" r="1.1"/><circle cx="544.4" cy="443.3" r="1"/></g><g stroke="#38a8e4"><circle cx="546.7" cy="415.3" r="1.3"/><circle cx="564.3" cy="473.1" r="1.3"/><circle cx="633.6" cy="497.5" r="1.8"/><circle cx="525.9" cy="450.2" r="1.4"/><circle cx="566.1" cy="387.3" r="1.4"/><circle cx="581.2" cy="394.1" r="1.6"/><circle cx="592.7" cy="436.4" r="1.1"/><circle cx="598.6" cy="453.8" r="2.2"/><circle cx="625" cy="477.4" r="1.1"/><circle cx="509.7" cy="454.9" r="1.1"/></g><g stroke="#a6d9e5"><circle cx="534.1" cy="436.7" r="2.5"/><circle cx="519.1" cy="399.5" r="3"/><circle cx="560.3" cy="390.5" r="1.5"/><circle cx="483.2" cy="437.4" r="1.1"/><circle cx="487" cy="403.9" r="1.4"/><circle cx="547.7" cy="459.2" r="1.4"/><circle cx="483.5" cy="439.5" r="1.4"/><circle cx="541" cy="439" r="1"/><circle cx="543.4" cy="449.5" r="1.3"/><circle cx="495.9" cy="436.3" r="1.5"/></g><g stroke="#2a5fae"><circle cx="464.9" cy="432.5" r="1.3"/></g><g stroke="#4ab8e6"><circle cx="489.7" cy="425.1" r="1.8"/><circle cx="570" cy="472.5" r="1.2"/><circle cx="586.6" cy="494.5" r="1"/><circle cx="506.8" cy="439.5" r="1"/><circle cx="587.1" cy="439.9" r="1.6"/><circle cx="574.5" cy="507.4" r="1.3"/><circle cx="458.7" cy="435" r="1"/><circle cx="522.7" cy="431.5" r="1.1"/><circle cx="574.1" cy="436.1" r="1"/><circle cx="540.3" cy="452.4" r="1.7"/></g><g stroke="#2f96df"><circle cx="568.5" cy="467.6" r="1.6"/><circle cx="585" cy="416.2" r="1.5"/><circle cx="567.1" cy="460.2" r="1.2"/><circle cx="524.8" cy="461.2" r="1.6"/><circle cx="629.2" cy="493.7" r="1.8"/><circle cx="565.7" cy="392.8" r="1.2"/><circle cx="544.9" cy="440" r="1.1"/><circle cx="565.1" cy="387.5" r="1"/><circle cx="594.6" cy="486.6" r="1"/><circle cx="516.5" cy="450.9" r="1"/></g><g stroke="#2f84d2"><circle cx="608.9" cy="488.4" r="1.3"/><circle cx="594.2" cy="393.8" r="1.2"/><circle cx="559.7" cy="471.7" r="2"/><circle cx="507.8" cy="428.7" r="1.7"/><circle cx="512.7" cy="439.7" r="1.4"/><circle cx="630.1" cy="430.3" r="1.1"/><circle cx="585.4" cy="482.2" r="1.7"/><circle cx="584.6" cy="427.6" r="1.5"/><circle cx="594" cy="394.2" r="1.2"/><circle cx="562.2" cy="493.4" r="1"/></g><g stroke="#8fd1e2"><circle cx="552.3" cy="486.6" r="1.1"/><circle cx="594" cy="456.8" r="1.4"/><circle cx="500.2" cy="391.1" r="2.1"/><circle cx="581.8" cy="447.8" r="1"/><circle cx="602.6" cy="427.8" r="1.3"/><circle cx="591.8" cy="487.1" r="1.2"/><circle cx="540.7" cy="448.1" r="1.5"/><circle cx="509.4" cy="399.5" r="1.7"/><circle cx="514.2" cy="429.7" r="1.3"/><circle cx="472.6" cy="413.5" r="2.1"/></g><g stroke="#2f96df"><circle cx="572.1" cy="487.6" r="1.4"/><circle cx="567.7" cy="390.7" r="1.5"/><circle cx="546" cy="418.2" r="1.2"/><circle cx="570.7" cy="480.3" r="1.1"/><circle cx="507" cy="409.7" r="1.3"/><circle cx="551.4" cy="466.6" r="1.1"/><circle cx="558.7" cy="437.3" r="1.5"/><circle cx="546.2" cy="436.2" r="1.4"/><circle cx="603.2" cy="500.6" r="1.3"/><circle cx="599.9" cy="435.9" r="1"/></g><g stroke="#8fd1e2"><circle cx="574.5" cy="424.4" r="1.2"/><circle cx="612.8" cy="426.7" r="1.2"/><circle cx="524.8" cy="420" r="1.1"/><circle cx="554.8" cy="439.3" r="1.2"/></g><g stroke="#38a8e4"><circle cx="511.9" cy="406.5" r="1.2"/><circle cx="564.8" cy="380.6" r="1"/><circle cx="585.6" cy="432" r="1.8"/><circle cx="505" cy="447.4" r="1.1"/><circle cx="422.8" cy="446.5" r="1.2"/><circle cx="609.1" cy="469.3" r="1.8"/><circle cx="600" cy="462.4" r="1.1"/><circle cx="611.5" cy="415.3" r="1.6"/><circle cx="521.1" cy="440.8" r="1.1"/><circle cx="516.7" cy="411.3" r="1.2"/></g></g>
<linearGradient id="slab" x1="403" x2="600" gradientUnits="userSpaceOnUse"><stop offset="0" stop-color="#f6b52a"/><stop offset="0.35" stop-color="#f7c42c"/><stop offset="0.6" stop-color="#f6a823"/><stop offset="1" stop-color="#f39a30"/></linearGradient>
<path d="M406 408.4C407 405.9 410 408.1 412 407.9C414 407.8 416 407.6 418 407.5C420 407.3 422 407.2 424 407.1C426 407 428 406.8 430 406.8C432 406.8 434 406.9 436 407C438 407.1 440 407.2 442 407.3C444 407.4 446 407.5 448 407.6C450 407.6 452 407.7 454 407.7C456 407.7 458 407.7 460 407.7C462 407.7 464 407.7 466 407.7C468 407.7 470 407.5 472 407.7C474 407.8 476 408.2 478 408.6C480 408.9 482 409.3 484 409.7C486 410 488 410.3 490 410.9C492 411.5 494 412.2 496 413.4C498 414.6 500 416.6 502 418.1C504 419.7 506 421.3 508 422.8C510 424.3 512 425.7 514 427C516 428.2 518 429.1 520 430.1C522 431.1 524 432.1 526 433.1C528 434.1 530 435.2 532 436C534 436.9 537 437.5 538 438.3C539 439 539 440.3 538 440.5C537 440.8 534 440.1 532 439.8C530 439.5 528 439 526 438.6C524 438.2 522 437.8 520 437.4C518 437.1 516 436.9 514 436.4C512 435.9 510 435.2 508 434.5C506 433.8 504 432.9 502 432.1C500 431.3 498 430.3 496 429.8C494 429.3 492 429.4 490 429.1C488 428.7 486 428.3 484 427.8C482 427.4 480 426.9 478 426.5C476 426 474 425.5 472 425.3C470 425 468 425.1 466 425C464 424.9 462 424.8 460 424.7C458 424.6 456 424.6 454 424.4C452 424.3 450 424.2 448 424C446 423.9 444 423.7 442 423.5C440 423.3 438 423.1 436 422.9C434 422.7 432 422.5 430 422.4C428 422.3 426 422.4 424 422.4C422 422.4 420 422.5 418 422.5C416 422.6 414 422.6 412 422.6C410 422.7 407 425.2 406 422.8C405 420.5 405 410.9 406 408.4Z" fill="url(#slab)" opacity="0.85"/>
<g clip-path="url(#cd)" fill="none" stroke-width="1.2"><g stroke="#2b67b8"><circle cx="473.7" cy="408.3" r="1.2"/><circle cx="449.9" cy="390.1" r="1.5"/><circle cx="458.1" cy="405.8" r="1.8"/><circle cx="451.2" cy="387.4" r="1.6"/><circle cx="416.8" cy="411" r="1.9"/><circle cx="496.2" cy="412.1" r="2.2"/></g><g stroke="#2a6fc0"><circle cx="448.8" cy="395.1" r="1.2"/><circle cx="436.1" cy="380" r="1.2"/><circle cx="424.1" cy="401.3" r="1.3"/><circle cx="445.8" cy="391.5" r="2.1"/><circle cx="460.4" cy="393.5" r="1.3"/><circle cx="439.1" cy="407.5" r="1.5"/></g><g stroke="#2b67b8"><circle cx="453.7" cy="395.3" r="1.6"/><circle cx="463.5" cy="395.6" r="1.2"/><circle cx="457.2" cy="404.9" r="2.3"/><circle cx="411" cy="404.2" r="1.5"/><circle cx="440.5" cy="392.5" r="2.3"/><circle cx="465.2" cy="405.1" r="1.6"/></g><g stroke="#2a5fae"><circle cx="472.6" cy="409" r="1.2"/><circle cx="486.8" cy="403.1" r="2"/><circle cx="437.9" cy="387.5" r="2.5"/><circle cx="456.5" cy="401.1" r="1.6"/><circle cx="448.4" cy="392.4" r="1.2"/><circle cx="434.5" cy="394.9" r="2.8"/></g><g stroke="#2a6fc0"><circle cx="450.3" cy="384.8" r="1.5"/><circle cx="477.1" cy="407.6" r="1.3"/><circle cx="459" cy="383.7" r="3.3"/><circle cx="436.2" cy="402.2" r="1.2"/><circle cx="424.7" cy="402.2" r="1.4"/><circle cx="442.7" cy="404.1" r="1.3"/><circle cx="496" cy="400.8" r="1.5"/><circle cx="432.3" cy="402.4" r="2"/><circle cx="444.1" cy="386.7" r="1.3"/><circle cx="440" cy="408.2" r="2"/><circle cx="447.9" cy="394" r="2.4"/><circle cx="441.7" cy="399.3" r="2"/></g><g stroke="#2b67b8"><circle cx="415.6" cy="401.1" r="1.4"/></g><g stroke="#2a5fae"><circle cx="430.3" cy="401.7" r="2.3"/><circle cx="424.5" cy="406.3" r="1.5"/><circle cx="451.1" cy="393.5" r="1.7"/><circle cx="441.1" cy="393.3" r="1.3"/><circle cx="453.3" cy="391.5" r="2"/><circle cx="442.8" cy="411" r="1.3"/><circle cx="406.3" cy="401.8" r="1.3"/><circle cx="454" cy="385.8" r="1.3"/><circle cx="432.5" cy="395.5" r="1.2"/><circle cx="454.9" cy="400.2" r="1.3"/><circle cx="455.7" cy="391.3" r="1.7"/><circle cx="461.3" cy="399.2" r="1.6"/><circle cx="420.5" cy="403.2" r="1.2"/><circle cx="418.3" cy="397.5" r="1.7"/><circle cx="440" cy="394.9" r="1.3"/><circle cx="451.2" cy="387.9" r="1.7"/><circle cx="439.3" cy="399.8" r="1.6"/><circle cx="417.2" cy="410.3" r="1.4"/></g><g stroke="#2b67b8"><circle cx="436.8" cy="405.7" r="2.4"/><circle cx="436.7" cy="394.5" r="1.2"/><circle cx="450.7" cy="406" r="1.5"/><circle cx="424.3" cy="405.4" r="1.3"/><circle cx="495.8" cy="408.7" r="1.8"/><circle cx="479.4" cy="406.6" r="1.8"/></g><g stroke="#2a6fc0"><circle cx="452.3" cy="394.1" r="1.7"/><circle cx="440.2" cy="399.2" r="1.5"/><circle cx="440.8" cy="397.7" r="1.2"/><circle cx="454.7" cy="388.2" r="1.8"/><circle cx="488.8" cy="408.1" r="1.3"/><circle cx="451.9" cy="388.1" r="1.4"/></g><g stroke="#2a5fae"><circle cx="479.1" cy="404.1" r="1.3"/><circle cx="487.9" cy="409.9" r="1.4"/><circle cx="467.4" cy="406.4" r="1.4"/><circle cx="442.4" cy="399.6" r="2.1"/><circle cx="440.6" cy="399.5" r="2"/><circle cx="435.1" cy="399" r="1.3"/><circle cx="449.7" cy="395.8" r="2.2"/><circle cx="414.1" cy="408.8" r="1.9"/></g><g stroke="#2b67b8"><circle cx="463.7" cy="396.1" r="1.7"/><circle cx="440.3" cy="393.4" r="2.3"/><circle cx="456.1" cy="398.8" r="1.3"/><circle cx="462.2" cy="404.6" r="1.6"/><circle cx="490.8" cy="410.5" r="1.2"/><circle cx="465.5" cy="389" r="1.5"/><circle cx="454.6" cy="403.8" r="2.3"/><circle cx="452.2" cy="393.5" r="2.9"/><circle cx="481.6" cy="407.8" r="1.9"/><circle cx="465.2" cy="409.9" r="1.3"/><circle cx="463.4" cy="401.7" r="1.9"/><circle cx="439.7" cy="393.7" r="1.3"/><circle cx="481.3" cy="409.9" r="1.3"/><circle cx="445.7" cy="405.9" r="1.7"/><circle cx="485.9" cy="406.6" r="1.2"/><circle cx="434.3" cy="402.4" r="1.8"/><circle cx="443.9" cy="398.6" r="1.3"/><circle cx="433.8" cy="405.2" r="1.8"/></g><g stroke="#2a6fc0"><circle cx="453.2" cy="408.5" r="2.1"/><circle cx="481.5" cy="405.5" r="2.2"/><circle cx="449.7" cy="386.3" r="1.6"/><circle cx="492.3" cy="408.1" r="1.9"/><circle cx="451.5" cy="384.2" r="1.4"/><circle cx="424.9" cy="404.1" r="2"/></g><g stroke="#2a5fae"><circle cx="454.2" cy="380.2" r="2.4"/><circle cx="443.2" cy="404.7" r="2.6"/><circle cx="447.9" cy="399.7" r="2.7"/><circle cx="497.8" cy="420" r="1.3"/><circle cx="433.2" cy="407.8" r="1.9"/><circle cx="436.3" cy="413.5" r="1.4"/></g><g stroke="#2a6fc0"><circle cx="455" cy="394.3" r="2"/><circle cx="499.3" cy="417" r="2.8"/><circle cx="447.9" cy="407.6" r="1.5"/></g><g stroke="#2b67b8"><circle cx="447.1" cy="389.6" r="1.3"/><circle cx="452.7" cy="399.5" r="1.5"/><circle cx="445.7" cy="398.6" r="1.6"/><circle cx="492.8" cy="409.5" r="1.3"/><circle cx="437.9" cy="408.2" r="2.2"/><circle cx="453.2" cy="400.6" r="1.6"/></g><g stroke="#2a5fae"><circle cx="407.2" cy="406.8" r="1.4"/><circle cx="467.1" cy="406.5" r="1.9"/><circle cx="415" cy="411.8" r="2.6"/><circle cx="418.3" cy="404.1" r="1.2"/><circle cx="441.2" cy="386.9" r="1.6"/><circle cx="499.3" cy="414.1" r="2.1"/></g><g stroke="#2b67b8"><circle cx="476.9" cy="405.7" r="1.4"/><circle cx="477.1" cy="407.9" r="1.3"/><circle cx="442.1" cy="389.1" r="1.6"/><circle cx="459.6" cy="390.8" r="1.7"/><circle cx="429.7" cy="405.1" r="1.3"/><circle cx="448.9" cy="398.7" r="1.4"/></g><g stroke="#2a5fae"><circle cx="468.7" cy="395.8" r="1.6"/><circle cx="476.3" cy="410.5" r="1.5"/><circle cx="407.9" cy="408" r="1.6"/><circle cx="466.8" cy="402.1" r="2.6"/><circle cx="438.5" cy="405.5" r="1.3"/><circle cx="408.8" cy="402.8" r="1.4"/></g><g stroke="#2a6fc0"><circle cx="421.7" cy="406.9" r="1.4"/><circle cx="468.6" cy="411.1" r="1.3"/><circle cx="406.5" cy="413" r="1.9"/><circle cx="461.9" cy="408.8" r="1.5"/><circle cx="449.6" cy="390.6" r="1.2"/><circle cx="442.2" cy="382.6" r="2"/></g><g stroke="#2b67b8"><circle cx="495.2" cy="411.5" r="1.2"/><circle cx="489.8" cy="417.5" r="1.6"/><circle cx="460.1" cy="397.6" r="1.8"/><circle cx="446.5" cy="390.7" r="2.6"/><circle cx="467.4" cy="401.1" r="1.4"/><circle cx="458.5" cy="395.1" r="1.7"/><circle cx="473.6" cy="408.6" r="1.3"/><circle cx="455.5" cy="384.5" r="1.6"/><circle cx="453" cy="404.8" r="1.9"/><circle cx="494.7" cy="413.1" r="1.2"/><circle cx="466.9" cy="397.7" r="1.5"/><circle cx="459.6" cy="398.4" r="1.4"/></g><g stroke="#f37321"><circle cx="411.4" cy="412.2" r="2.1"/><circle cx="414.2" cy="417.3" r="1.2"/><circle cx="410.2" cy="409.5" r="1.2"/><circle cx="457" cy="417.7" r="2"/><circle cx="436.8" cy="428.2" r="1.3"/><circle cx="440.9" cy="424.8" r="1.3"/><circle cx="464.3" cy="420.5" r="1.8"/><circle cx="497.1" cy="438.7" r="1.5"/><circle cx="549.6" cy="441.8" r="1.6"/><circle cx="505.4" cy="426.4" r="2.7"/><circle cx="554.9" cy="445.5" r="1.9"/><circle cx="598.4" cy="449.3" r="1.5"/><circle cx="521.8" cy="434.6" r="1.5"/><circle cx="414.7" cy="437.8" r="1.4"/><circle cx="568.1" cy="444.2" r="1.6"/></g><g stroke="#e5222a"><circle cx="405.3" cy="416.8" r="1.7"/><circle cx="415.9" cy="422.8" r="1.4"/><circle cx="412.5" cy="415.8" r="1.6"/><circle cx="458.8" cy="422.9" r="1.2"/><circle cx="446.3" cy="427.6" r="1.5"/><circle cx="499.3" cy="414.4" r="1.3"/><circle cx="512.6" cy="423.2" r="1.2"/><circle cx="538.8" cy="442.4" r="1.5"/><circle cx="586.5" cy="446" r="1.8"/><circle cx="547.9" cy="442.3" r="2"/><circle cx="426" cy="404.9" r="1.3"/><circle cx="516.1" cy="430" r="1.9"/><circle cx="407.4" cy="410.6" r="1.5"/><circle cx="504.9" cy="411.7" r="2.6"/><circle cx="487.1" cy="384.5" r="1.6"/><circle cx="428.7" cy="405.7" r="1.2"/><circle cx="527.6" cy="424.2" r="2.1"/><circle cx="504.5" cy="391.8" r="2.2"/><circle cx="477.1" cy="395.8" r="2.1"/><circle cx="442.4" cy="405.9" r="1.7"/><circle cx="460.3" cy="456.3" r="1.8"/><circle cx="587.5" cy="432.4" r="1.9"/><circle cx="605.5" cy="456.1" r="1.5"/><circle cx="538.1" cy="460.4" r="1.4"/></g><g stroke="#f7a821"><circle cx="408.1" cy="405.9" r="1.9"/><circle cx="460.4" cy="414.9" r="1.9"/><circle cx="469.5" cy="422.1" r="1.3"/><circle cx="492.7" cy="416.1" r="1.3"/><circle cx="510.8" cy="434.7" r="3"/><circle cx="553.5" cy="456.2" r="1.7"/><circle cx="608.6" cy="470.6" r="1.8"/></g><g stroke="#e8352a"><circle cx="419.2" cy="413.5" r="1.5"/><circle cx="434.5" cy="410.3" r="1.2"/><circle cx="467.7" cy="422.8" r="1.5"/><circle cx="491.5" cy="424.6" r="1.2"/><circle cx="463.3" cy="417.4" r="1.2"/><circle cx="537.8" cy="441.9" r="1.5"/><circle cx="537.7" cy="437.3" r="2"/><circle cx="590.3" cy="450.5" r="1.3"/><circle cx="454.5" cy="440.8" r="1.9"/><circle cx="480.7" cy="419.5" r="2.2"/><circle cx="473.3" cy="464.4" r="2.1"/><circle cx="594.9" cy="452.9" r="2.4"/><circle cx="541.8" cy="453.1" r="1.4"/><circle cx="618.7" cy="448.9" r="1.4"/></g><g stroke="#f5dc38"><circle cx="421" cy="411.2" r="1.2"/><circle cx="407.1" cy="419" r="2.3"/><circle cx="497.5" cy="426.1" r="1.2"/><circle cx="512.5" cy="428.5" r="1.6"/><circle cx="558.9" cy="448.8" r="2.1"/></g><g stroke="#f7ba28"><circle cx="398.6" cy="415.1" r="1.2"/><circle cx="452.6" cy="423" r="2.2"/><circle cx="426.6" cy="412.3" r="1.9"/><circle cx="500.7" cy="434.4" r="2.1"/><circle cx="505.2" cy="430.1" r="1.8"/></g><g stroke="#f0e84c"><circle cx="459.6" cy="407.1" r="1.2"/><circle cx="545.3" cy="444" r="1.2"/></g><g stroke="#f7961f"><circle cx="446.4" cy="414.4" r="1.6"/><circle cx="435.1" cy="409.6" r="2.1"/><circle cx="432.6" cy="412" r="3"/><circle cx="449.5" cy="412.6" r="2.9"/><circle cx="409.6" cy="415.2" r="2.1"/><circle cx="438.4" cy="410.7" r="1.2"/><circle cx="492.8" cy="420.9" r="1.2"/><circle cx="518.3" cy="442.3" r="1.9"/><circle cx="518.7" cy="433.5" r="1.2"/><circle cx="533.8" cy="446.1" r="1.9"/><circle cx="418.5" cy="444.7" r="3.1"/><circle cx="560.4" cy="464.3" r="1.5"/></g><g stroke="#f05e23"><circle cx="418" cy="412.6" r="1.7"/><circle cx="403.4" cy="411.9" r="1.2"/><circle cx="414.5" cy="427" r="1.5"/><circle cx="420.9" cy="413.3" r="1.8"/><circle cx="459" cy="402.2" r="1.3"/><circle cx="453.3" cy="415.8" r="1.5"/><circle cx="453.9" cy="418.6" r="1.8"/><circle cx="407.8" cy="418.9" r="1.2"/><circle cx="488.9" cy="420.8" r="1.2"/><circle cx="498.3" cy="425.1" r="2"/><circle cx="475.7" cy="424.4" r="1.4"/><circle cx="487.5" cy="422.8" r="1.2"/><circle cx="511.7" cy="426.2" r="1.2"/><circle cx="497" cy="430.8" r="1.5"/><circle cx="472.8" cy="412.3" r="1.6"/><circle cx="519.6" cy="423.5" r="1.5"/><circle cx="549.1" cy="442.9" r="1.3"/><circle cx="539.4" cy="439.3" r="1.7"/><circle cx="597.7" cy="449" r="1.2"/><circle cx="555.7" cy="446.4" r="2.1"/><circle cx="562.3" cy="442.4" r="1.6"/><circle cx="593.8" cy="445.3" r="1.5"/></g><g stroke="#f7cc2f"><circle cx="417" cy="414.6" r="1.4"/><circle cx="422.5" cy="416.1" r="1.3"/><circle cx="415.1" cy="407.7" r="1.5"/><circle cx="425.1" cy="409.8" r="1.9"/></g><g stroke="#ec4a26"><circle cx="406.6" cy="411" r="1.4"/><circle cx="398" cy="412.5" r="1.2"/><circle cx="407.2" cy="414" r="2.6"/><circle cx="447.4" cy="411" r="2.3"/><circle cx="425" cy="415.5" r="1.7"/><circle cx="449.9" cy="422.4" r="1.2"/><circle cx="432.1" cy="415.9" r="1.3"/><circle cx="425.3" cy="415.5" r="2.2"/><circle cx="427.4" cy="416.5" r="1.3"/><circle cx="480.2" cy="412.8" r="1.7"/><circle cx="483.9" cy="406.1" r="1.4"/><circle cx="546.9" cy="440.7" r="1.4"/><circle cx="570.5" cy="448.1" r="1.3"/><circle cx="562.1" cy="445.5" r="1.9"/><circle cx="552.4" cy="445.5" r="1.5"/><circle cx="558.4" cy="441.5" r="1.2"/><circle cx="565.6" cy="441.2" r="1.2"/><circle cx="589.4" cy="452.6" r="1.6"/><circle cx="590.7" cy="450.9" r="1.3"/><circle cx="553.6" cy="442.8" r="2"/><circle cx="521.8" cy="440" r="2.2"/><circle cx="477.4" cy="412.5" r="1.9"/><circle cx="462.4" cy="402.8" r="2.3"/><circle cx="482.9" cy="427.9" r="1.4"/><circle cx="401.5" cy="403.6" r="1.5"/><circle cx="484.2" cy="398.2" r="1.4"/><circle cx="536.2" cy="439.2" r="1.6"/><circle cx="524" cy="444.2" r="2.9"/></g><g stroke="#f58520"><circle cx="409.4" cy="418.6" r="2.7"/><circle cx="413.9" cy="412.2" r="1.2"/><circle cx="452.9" cy="429.8" r="1.8"/><circle cx="433.4" cy="410.9" r="1.9"/><circle cx="420.4" cy="417.8" r="1.3"/><circle cx="458.2" cy="416.4" r="1.2"/><circle cx="444.6" cy="412.6" r="2.8"/><circle cx="473.7" cy="419.1" r="1.5"/><circle cx="555.4" cy="443.4" r="1.7"/><circle cx="530.5" cy="438" r="1.4"/><circle cx="540.9" cy="443.2" r="1.4"/><circle cx="571.4" cy="445.9" r="1.3"/><circle cx="586.4" cy="448.1" r="1.4"/><circle cx="509.7" cy="406.1" r="2.5"/><circle cx="395.7" cy="398.6" r="1.6"/></g><g stroke="#f05e23"><circle cx="422.3" cy="415.1" r="1.2"/><circle cx="408.6" cy="416" r="1.7"/><circle cx="455.2" cy="417.7" r="1.2"/><circle cx="467.8" cy="417.1" r="1.8"/><circle cx="411.5" cy="424" r="1.2"/><circle cx="451.9" cy="406.7" r="1.2"/><circle cx="452.6" cy="404.7" r="1.2"/><circle cx="407.5" cy="415.8" r="1.8"/><circle cx="445.4" cy="420.9" r="1.2"/><circle cx="549.5" cy="443.9" r="1.9"/><circle cx="575.6" cy="452.4" r="1.3"/></g><g stroke="#e8352a"><circle cx="411.4" cy="420.1" r="1.6"/><circle cx="398.2" cy="411.8" r="1.3"/><circle cx="458.5" cy="413" r="2.1"/><circle cx="462.1" cy="402.3" r="1.6"/><circle cx="465.8" cy="415" r="2.1"/><circle cx="526" cy="441.9" r="1.4"/><circle cx="484" cy="412.2" r="2.3"/><circle cx="414" cy="380" r="2.6"/><circle cx="612.4" cy="465.2" r="1.4"/><circle cx="618" cy="424" r="1.7"/><circle cx="534.8" cy="444.2" r="2.2"/></g><g stroke="#f7ba28"><circle cx="427.1" cy="416.6" r="2.7"/><circle cx="506.3" cy="432.9" r="1.2"/><circle cx="508.6" cy="437.6" r="1.3"/><circle cx="496.6" cy="421.6" r="1.2"/><circle cx="570.5" cy="446.6" r="1.2"/><circle cx="523.2" cy="420.3" r="3.3"/></g><g stroke="#e5222a"><circle cx="403.3" cy="410.5" r="1.4"/><circle cx="423.8" cy="406.7" r="1.7"/><circle cx="398.8" cy="412.8" r="2.9"/><circle cx="398.5" cy="416.8" r="2"/><circle cx="412.8" cy="417.7" r="2.4"/><circle cx="515.8" cy="439.2" r="1.2"/><circle cx="538.6" cy="434.9" r="1.2"/><circle cx="528.9" cy="434.3" r="1.2"/><circle cx="555.6" cy="440.1" r="1.9"/><circle cx="557.9" cy="439.3" r="1.6"/><circle cx="555.8" cy="444.9" r="1.3"/></g><g stroke="#f5dc38"><circle cx="431" cy="414.3" r="1.5"/><circle cx="448.6" cy="410.6" r="2.2"/><circle cx="458.1" cy="416.3" r="1.4"/><circle cx="541.3" cy="439.1" r="1.3"/><circle cx="532.3" cy="440.5" r="1.3"/><circle cx="497.3" cy="407.9" r="1.6"/></g><g stroke="#f7cc2f"><circle cx="553" cy="439.1" r="2.9"/><circle cx="579" cy="450.5" r="1.6"/><circle cx="586.7" cy="446.2" r="2.2"/></g><g stroke="#f7a821"><circle cx="414" cy="419.5" r="1.5"/><circle cx="441.8" cy="411" r="2.1"/><circle cx="463.8" cy="415.2" r="2.1"/><circle cx="438" cy="405.1" r="1.9"/><circle cx="435.5" cy="414.8" r="1.5"/><circle cx="507.1" cy="420.2" r="1.5"/></g><g stroke="#f7961f"><circle cx="414.4" cy="412.2" r="1.6"/><circle cx="446.6" cy="412.3" r="2.8"/><circle cx="450.9" cy="421.9" r="1.7"/><circle cx="406.9" cy="409.1" r="1.3"/><circle cx="429.6" cy="424.2" r="1.5"/><circle cx="418.9" cy="412.4" r="1.2"/><circle cx="460.4" cy="417.4" r="1.5"/><circle cx="464.7" cy="417.9" r="1.3"/><circle cx="464.8" cy="412.2" r="1.4"/><circle cx="462.1" cy="414.1" r="1.2"/><circle cx="496" cy="416.6" r="1.2"/><circle cx="512.4" cy="425.7" r="2.8"/><circle cx="516.2" cy="428.3" r="1.2"/><circle cx="519.9" cy="432" r="1.2"/><circle cx="547.2" cy="445.6" r="1.5"/><circle cx="496.9" cy="422.4" r="2.8"/></g><g stroke="#2b67b8"><circle cx="476.4" cy="409.1" r="1.3"/><circle cx="488.2" cy="430.2" r="1.2"/><circle cx="491.1" cy="429.7" r="1.3"/><circle cx="422.5" cy="424.1" r="1.2"/><circle cx="509" cy="443.8" r="1.4"/></g><g stroke="#f0e84c"><circle cx="425.7" cy="412.8" r="1.3"/><circle cx="467.5" cy="414.7" r="1.6"/><circle cx="499.8" cy="428.1" r="2.8"/></g><g stroke="#ec4a26"><circle cx="419.7" cy="406.4" r="2.5"/><circle cx="415.7" cy="416.4" r="2"/><circle cx="408.9" cy="423" r="1.5"/><circle cx="434.5" cy="415.7" r="1.8"/><circle cx="429.5" cy="414.8" r="1.4"/><circle cx="416.7" cy="405.4" r="1.2"/><circle cx="466.1" cy="417.8" r="2.3"/><circle cx="516.2" cy="442.1" r="1.4"/><circle cx="561.1" cy="441.7" r="1.2"/><circle cx="517.9" cy="451.2" r="2.3"/><circle cx="439.9" cy="410.6" r="1.7"/><circle cx="417.1" cy="391.2" r="2.6"/><circle cx="407.1" cy="384.6" r="2"/></g><g stroke="#2a6fc0"><circle cx="459.2" cy="409.3" r="2.1"/></g><g stroke="#2a5fae"><circle cx="425.4" cy="401.6" r="1.3"/></g><g stroke="#f37321"><circle cx="464.3" cy="420.6" r="1.4"/><circle cx="433.4" cy="418.7" r="2.2"/><circle cx="436.2" cy="406.8" r="1.5"/><circle cx="441.8" cy="404.6" r="1.2"/><circle cx="510" cy="427.1" r="1.5"/><circle cx="517.5" cy="421.6" r="1.3"/><circle cx="533.8" cy="440.1" r="1.5"/><circle cx="565.6" cy="446.9" r="1.8"/><circle cx="562.6" cy="444.2" r="1.3"/><circle cx="461" cy="413.7" r="2.8"/><circle cx="513" cy="398.7" r="1.7"/><circle cx="410.6" cy="452.9" r="1.3"/></g><g stroke="#f58520"><circle cx="419.8" cy="413.8" r="1.3"/><circle cx="412.5" cy="418.9" r="1.4"/><circle cx="454.9" cy="420.7" r="1.7"/><circle cx="424.6" cy="422.6" r="1.7"/><circle cx="412.5" cy="418.7" r="1.7"/><circle cx="501.5" cy="431.4" r="2"/><circle cx="518.8" cy="437" r="1.4"/><circle cx="515.3" cy="436.6" r="1.7"/><circle cx="489.3" cy="387.3" r="1.2"/></g><g stroke="#2a6fc0"><circle cx="447.9" cy="410.4" r="1.9"/></g><g stroke="#e8352a"><circle cx="405.7" cy="420.6" r="1.5"/><circle cx="417.5" cy="418.4" r="1.5"/><circle cx="409.2" cy="414.1" r="1.3"/><circle cx="433.6" cy="419.1" r="2.2"/><circle cx="512" cy="423" r="1.6"/><circle cx="518" cy="440.3" r="2.3"/><circle cx="533.7" cy="438.5" r="1.3"/><circle cx="542.1" cy="439.4" r="1.5"/><circle cx="588.4" cy="447.5" r="1.3"/><circle cx="562.1" cy="442.4" r="1.6"/><circle cx="493.4" cy="421.4" r="1.4"/><circle cx="418.3" cy="398.5" r="1.5"/><circle cx="465.8" cy="407.6" r="1.3"/><circle cx="427.8" cy="391.2" r="1.5"/><circle cx="459.8" cy="437.2" r="1.4"/></g><g stroke="#f7ba28"><circle cx="405" cy="414.3" r="2"/><circle cx="415.1" cy="418.2" r="1.2"/><circle cx="432.1" cy="411.2" r="1.2"/><circle cx="456.2" cy="420.1" r="1.4"/><circle cx="419" cy="409.9" r="1.4"/><circle cx="417.8" cy="415.5" r="2.6"/><circle cx="440.5" cy="414.2" r="1.4"/><circle cx="442.5" cy="421.3" r="1.3"/><circle cx="468.4" cy="417.6" r="1.3"/><circle cx="498" cy="428.6" r="1.6"/><circle cx="488.1" cy="411.1" r="1.3"/><circle cx="487.2" cy="419.7" r="1.9"/><circle cx="500.2" cy="434.9" r="1.5"/><circle cx="558.1" cy="441.6" r="1.3"/><circle cx="524.8" cy="435.3" r="1.5"/><circle cx="541.8" cy="440" r="2.9"/><circle cx="555.3" cy="441.8" r="1.2"/><circle cx="585.6" cy="451.6" r="1.8"/><circle cx="434.3" cy="389.9" r="3.3"/></g><g stroke="#f7cc2f"><circle cx="413.5" cy="423.8" r="2.9"/><circle cx="467.3" cy="411.9" r="1.3"/><circle cx="452.5" cy="413.9" r="1.2"/><circle cx="424.9" cy="410.5" r="1.6"/><circle cx="455.1" cy="420.6" r="1.8"/><circle cx="455.3" cy="413.1" r="2.3"/><circle cx="515.8" cy="434.5" r="1.3"/><circle cx="508.6" cy="432.4" r="1.4"/><circle cx="471.4" cy="415.4" r="1.2"/><circle cx="504.4" cy="422.7" r="1.6"/><circle cx="471.2" cy="413.6" r="2.7"/><circle cx="536.9" cy="438.1" r="1.6"/></g><g stroke="#ec4a26"><circle cx="399.6" cy="414" r="1.3"/><circle cx="409.8" cy="419.9" r="1.8"/><circle cx="405.2" cy="423.1" r="1.2"/><circle cx="409.1" cy="420.4" r="1.7"/><circle cx="456.2" cy="418" r="2"/><circle cx="417.8" cy="409.4" r="1.3"/><circle cx="462.7" cy="423.4" r="1.3"/><circle cx="461.5" cy="424.3" r="2.1"/><circle cx="552.1" cy="441.5" r="1.3"/><circle cx="558.8" cy="442.1" r="1.8"/><circle cx="518.5" cy="438.8" r="1.6"/><circle cx="557.4" cy="439.4" r="1.3"/><circle cx="598.5" cy="455.6" r="1.3"/><circle cx="443" cy="408.5" r="2.7"/></g><g stroke="#2b67b8"><circle cx="465" cy="405.4" r="2.6"/><circle cx="461.7" cy="423.5" r="1.2"/><circle cx="477" cy="428.7" r="1.3"/><circle cx="406.1" cy="426.2" r="1.2"/><circle cx="454" cy="425.6" r="2.4"/></g><g stroke="#f58520"><circle cx="427.4" cy="401.8" r="2.7"/><circle cx="418.9" cy="414.9" r="1.2"/><circle cx="429.7" cy="412.7" r="1.6"/><circle cx="516.5" cy="429.3" r="1.5"/><circle cx="504.6" cy="434" r="1.8"/><circle cx="481" cy="408" r="2.6"/><circle cx="513" cy="433.9" r="1.2"/><circle cx="512.8" cy="435.8" r="1.3"/><circle cx="558.3" cy="439.9" r="1.3"/><circle cx="576.8" cy="444.2" r="1.3"/><circle cx="571.7" cy="447.9" r="1.3"/><circle cx="509.3" cy="385.2" r="1.4"/><circle cx="404.5" cy="451.3" r="1.9"/></g><g stroke="#f5dc38"><circle cx="442.9" cy="422.1" r="1.2"/><circle cx="452.6" cy="412.8" r="1.6"/><circle cx="435.6" cy="415.6" r="1.3"/><circle cx="526.1" cy="429.2" r="1.2"/><circle cx="540.2" cy="435.6" r="1.5"/></g><g stroke="#e5222a"><circle cx="466.5" cy="418.5" r="1.2"/><circle cx="435.5" cy="406.6" r="1.5"/><circle cx="556.7" cy="442.3" r="1.3"/><circle cx="551" cy="441" r="2"/><circle cx="556.8" cy="440.2" r="1.2"/><circle cx="569.5" cy="439.1" r="1.5"/><circle cx="569.4" cy="446.8" r="1.2"/><circle cx="574.1" cy="442.5" r="1.2"/><circle cx="562.4" cy="447" r="2.2"/><circle cx="562.1" cy="442.2" r="1.6"/><circle cx="417.6" cy="406.6" r="1.3"/><circle cx="476" cy="464.9" r="1.3"/></g><g stroke="#f05e23"><circle cx="442" cy="409.2" r="1.6"/><circle cx="413.5" cy="426.8" r="1.3"/><circle cx="444.3" cy="408.5" r="1.3"/><circle cx="450.4" cy="423.6" r="1.2"/><circle cx="497.5" cy="432.5" r="1.4"/><circle cx="464.3" cy="428.7" r="1.4"/><circle cx="518.7" cy="434.2" r="1.2"/><circle cx="488.8" cy="419.2" r="1.5"/><circle cx="502.8" cy="422.2" r="1.5"/><circle cx="520.9" cy="429.3" r="1.6"/><circle cx="525.7" cy="440.3" r="1.6"/><circle cx="541.7" cy="438.8" r="1.9"/><circle cx="508.6" cy="435.2" r="1.9"/><circle cx="509" cy="431.3" r="2.1"/><circle cx="557.2" cy="441.8" r="1.2"/><circle cx="595.9" cy="450.5" r="1.3"/><circle cx="589.6" cy="453.2" r="1.7"/><circle cx="421.6" cy="402.1" r="1.4"/><circle cx="482.9" cy="395.1" r="2.3"/><circle cx="606.3" cy="449.5" r="2.6"/></g><g stroke="#f7a821"><circle cx="409.8" cy="415.1" r="1.3"/><circle cx="419" cy="414.2" r="1.4"/><circle cx="402" cy="408.9" r="1.3"/><circle cx="450.2" cy="408.8" r="1.5"/><circle cx="458.7" cy="402.4" r="1.4"/><circle cx="457" cy="411" r="1.5"/><circle cx="467.8" cy="414.9" r="1.3"/><circle cx="423.5" cy="406.2" r="1.2"/><circle cx="420.1" cy="412.5" r="1.4"/><circle cx="473.4" cy="411.4" r="1.9"/><circle cx="508.4" cy="426.2" r="1.5"/><circle cx="516.3" cy="438.3" r="2.4"/><circle cx="486.5" cy="414.2" r="1.6"/><circle cx="473.3" cy="410.3" r="1.3"/><circle cx="494.6" cy="412" r="1.6"/><circle cx="568.7" cy="445.2" r="2.8"/><circle cx="561" cy="443.9" r="1.3"/><circle cx="480.1" cy="391.2" r="2.7"/></g><g stroke="#2a5fae"><circle cx="443.2" cy="404.4" r="1.6"/></g><g stroke="#f7961f"><circle cx="423" cy="426.2" r="1.3"/><circle cx="401.3" cy="419.2" r="1.6"/><circle cx="408.3" cy="425.2" r="1.4"/><circle cx="419.2" cy="422.5" r="1.5"/><circle cx="408.1" cy="417.9" r="1.4"/><circle cx="460.1" cy="416.7" r="1.9"/><circle cx="415.2" cy="416.7" r="1.7"/><circle cx="435.2" cy="412.7" r="1.5"/><circle cx="465" cy="412.1" r="1.3"/><circle cx="510" cy="427.6" r="1.3"/><circle cx="506.9" cy="437.1" r="1.7"/><circle cx="471.7" cy="421.7" r="1.3"/><circle cx="547.1" cy="444.3" r="1.4"/><circle cx="519.2" cy="435.6" r="1.8"/><circle cx="542.3" cy="434.5" r="1.7"/><circle cx="574.6" cy="447.3" r="1.3"/><circle cx="570.8" cy="442.2" r="1.7"/><circle cx="574.9" cy="448.3" r="2"/><circle cx="476.9" cy="418.2" r="2.3"/></g><g stroke="#f0e84c"><circle cx="418" cy="414.6" r="1.5"/><circle cx="422.2" cy="416.1" r="1.9"/><circle cx="468.2" cy="417.7" r="2"/><circle cx="468.6" cy="407" r="1.8"/><circle cx="448.5" cy="414.8" r="1.3"/><circle cx="489.6" cy="420.5" r="1.4"/><circle cx="559" cy="441.5" r="2.2"/><circle cx="597.8" cy="444.2" r="1.7"/></g><g stroke="#f37321"><circle cx="402.7" cy="411.1" r="1.6"/><circle cx="402.6" cy="421.1" r="1.9"/><circle cx="454.6" cy="420" r="1.4"/><circle cx="442.6" cy="409.2" r="1.4"/><circle cx="433" cy="416.6" r="2.8"/><circle cx="453.8" cy="416.8" r="1.4"/><circle cx="469" cy="409.1" r="1.7"/><circle cx="443.6" cy="411.7" r="1.5"/><circle cx="413.3" cy="408.8" r="2.5"/><circle cx="419.3" cy="411.5" r="1.4"/><circle cx="493.8" cy="425.8" r="1.6"/><circle cx="472.9" cy="408.6" r="1.6"/><circle cx="484.7" cy="415" r="2.5"/><circle cx="500.5" cy="421" r="1.8"/><circle cx="529.5" cy="434.7" r="2.9"/><circle cx="539.6" cy="447.6" r="1.2"/><circle cx="550.8" cy="438.5" r="1.8"/><circle cx="590.6" cy="449.6" r="1.2"/><circle cx="554" cy="444.4" r="1.4"/><circle cx="469.4" cy="399" r="2.9"/><circle cx="429.7" cy="404.6" r="1.8"/><circle cx="444.8" cy="452.9" r="1.2"/><circle cx="598.2" cy="474.3" r="1.6"/></g><g stroke="#f58520"><circle cx="398.8" cy="418.7" r="1.9"/><circle cx="460.4" cy="411.5" r="2.1"/><circle cx="440.6" cy="416.9" r="1.4"/><circle cx="460.5" cy="412.4" r="1.4"/><circle cx="409.5" cy="421.6" r="1.9"/><circle cx="415.6" cy="412.7" r="1.2"/><circle cx="433.4" cy="420" r="1.4"/><circle cx="461.3" cy="409.5" r="1.5"/><circle cx="437.9" cy="418.5" r="1.2"/><circle cx="447.3" cy="415.2" r="1.6"/><circle cx="425.5" cy="401.8" r="1.5"/><circle cx="438.8" cy="419.2" r="1.3"/><circle cx="451.8" cy="423.2" r="1.2"/><circle cx="463.3" cy="417.5" r="2.5"/><circle cx="440" cy="416.6" r="1.9"/><circle cx="436.6" cy="422.5" r="1.2"/><circle cx="493.7" cy="434.6" r="2"/><circle cx="474.6" cy="416.3" r="2.1"/><circle cx="477.4" cy="416.4" r="1.3"/><circle cx="464" cy="415.9" r="1.2"/><circle cx="510.2" cy="440.9" r="2.1"/><circle cx="466.9" cy="411.5" r="1.5"/><circle cx="487.5" cy="417.5" r="1.2"/><circle cx="477.3" cy="419.5" r="2.6"/><circle cx="477.9" cy="416.5" r="1.3"/><circle cx="499.9" cy="427.7" r="1.5"/><circle cx="555.2" cy="442.6" r="1.3"/><circle cx="527.7" cy="437.2" r="1.5"/><circle cx="549.2" cy="441.3" r="1.4"/><circle cx="601.5" cy="455.7" r="1.8"/><circle cx="553.9" cy="443" r="1.5"/><circle cx="447.2" cy="419.3" r="1.6"/><circle cx="430.2" cy="428" r="1.5"/><circle cx="469.1" cy="389.7" r="1.4"/><circle cx="447.9" cy="399.4" r="2.3"/><circle cx="444.3" cy="390" r="2.8"/></g><g stroke="#f7961f"><circle cx="416.7" cy="417" r="1.3"/><circle cx="432.6" cy="418" r="2.1"/><circle cx="443.6" cy="414.1" r="2"/><circle cx="465.9" cy="423.6" r="1.3"/><circle cx="433" cy="416.3" r="2.5"/><circle cx="432.1" cy="413" r="1.5"/><circle cx="445.4" cy="417.2" r="1.6"/><circle cx="432.5" cy="414" r="2"/><circle cx="461.5" cy="420" r="1.3"/><circle cx="466" cy="415.6" r="1.7"/><circle cx="476.5" cy="422" r="2.2"/><circle cx="491.1" cy="414.2" r="1.7"/><circle cx="508.2" cy="424.4" r="1.3"/><circle cx="486" cy="415.1" r="1.4"/><circle cx="506.4" cy="428.1" r="1.2"/><circle cx="479.5" cy="421.1" r="1.4"/><circle cx="505.7" cy="420.8" r="1.5"/><circle cx="521.3" cy="434.8" r="1.2"/><circle cx="552.9" cy="437.2" r="1.6"/><circle cx="554.2" cy="442.8" r="1.2"/><circle cx="574.9" cy="450.9" r="1.3"/><circle cx="527.8" cy="408.9" r="1.6"/><circle cx="442.7" cy="408.9" r="2"/><circle cx="405" cy="403.2" r="1.8"/><circle cx="585.8" cy="472.9" r="3.2"/><circle cx="601.3" cy="465.4" r="1.9"/></g><g stroke="#e8352a"><circle cx="413.4" cy="416.2" r="1.2"/><circle cx="427.7" cy="410.9" r="1.6"/><circle cx="497.4" cy="422.3" r="1.2"/><circle cx="481.4" cy="421.5" r="1.5"/><circle cx="542.4" cy="440.9" r="1.6"/><circle cx="510.6" cy="436.5" r="1.4"/><circle cx="564.4" cy="444" r="2.6"/><circle cx="563.3" cy="442.7" r="1.6"/><circle cx="491.8" cy="413.7" r="2"/><circle cx="508.1" cy="427.3" r="1.9"/><circle cx="451.2" cy="426.3" r="1.2"/></g><g stroke="#e5222a"><circle cx="404.1" cy="414.6" r="1.2"/><circle cx="417.8" cy="415.5" r="1.5"/><circle cx="415.6" cy="411.1" r="1.6"/><circle cx="539" cy="439.7" r="1.9"/><circle cx="556.8" cy="445.9" r="1.2"/><circle cx="547.1" cy="439.6" r="1.4"/><circle cx="556.2" cy="439" r="1.3"/><circle cx="591.2" cy="451" r="1.8"/><circle cx="514.6" cy="401.9" r="2.5"/></g><g stroke="#f7ba28"><circle cx="445.7" cy="416.1" r="1.4"/><circle cx="458.9" cy="417.7" r="1.3"/><circle cx="447.2" cy="415.6" r="1.2"/><circle cx="429.7" cy="415.7" r="1.8"/><circle cx="438.4" cy="407.6" r="1.6"/><circle cx="462.3" cy="425.3" r="1.6"/><circle cx="410.9" cy="408.9" r="2.9"/><circle cx="415.2" cy="406.9" r="2.4"/><circle cx="461" cy="413" r="1.3"/><circle cx="498.4" cy="418.6" r="1.5"/><circle cx="482.3" cy="414.3" r="1.4"/><circle cx="462.6" cy="424.1" r="1.6"/><circle cx="463.9" cy="416.9" r="1.4"/><circle cx="477.4" cy="419.4" r="1.7"/><circle cx="468.2" cy="410.3" r="2.2"/><circle cx="616.1" cy="455.8" r="1.3"/></g><g stroke="#2b67b8"><circle cx="421.3" cy="403.2" r="1.2"/><circle cx="480.2" cy="404.7" r="1.5"/><circle cx="478.6" cy="404.4" r="1.3"/><circle cx="445.8" cy="408.5" r="1.5"/><circle cx="430.2" cy="431.8" r="1.2"/><circle cx="414.5" cy="424" r="1.6"/><circle cx="512.4" cy="444.8" r="1.3"/><circle cx="514.1" cy="444.5" r="1.5"/><circle cx="503.4" cy="436.6" r="1.5"/><circle cx="422.5" cy="425.3" r="1.2"/><circle cx="506.7" cy="432.2" r="1.4"/><circle cx="436.3" cy="435.7" r="1.9"/></g><g stroke="#2a6fc0"><circle cx="470.3" cy="403.9" r="1.2"/><circle cx="472.9" cy="404.4" r="1.9"/><circle cx="484.9" cy="413.1" r="1.5"/><circle cx="469.4" cy="404.3" r="1.8"/></g><g stroke="#f5dc38"><circle cx="458" cy="408.7" r="1.8"/><circle cx="465" cy="425.1" r="2.2"/><circle cx="456.4" cy="412" r="1.3"/><circle cx="499.9" cy="427.4" r="1.7"/><circle cx="487.8" cy="425" r="1.7"/><circle cx="479.1" cy="414.2" r="2.6"/><circle cx="488.6" cy="420.2" r="2"/><circle cx="470.2" cy="422" r="1.4"/><circle cx="514.1" cy="428.3" r="1.9"/><circle cx="469" cy="393" r="1.3"/></g><g stroke="#f37321"><circle cx="416.7" cy="417.8" r="2.2"/><circle cx="423.7" cy="419.6" r="1.5"/><circle cx="460" cy="416.9" r="1.6"/><circle cx="418" cy="418.5" r="1.8"/><circle cx="461.4" cy="419.5" r="2.7"/><circle cx="417.1" cy="411.7" r="2.2"/><circle cx="449.3" cy="432.8" r="1.3"/><circle cx="419.9" cy="415.9" r="1.8"/><circle cx="471.7" cy="425.9" r="1.3"/><circle cx="467" cy="420.8" r="1.4"/><circle cx="510.8" cy="423.5" r="2"/><circle cx="468.3" cy="408.7" r="1.2"/><circle cx="544.6" cy="439.7" r="1.9"/><circle cx="559.1" cy="445" r="1.2"/><circle cx="579.5" cy="448.7" r="1.8"/><circle cx="579" cy="451.5" r="1.4"/><circle cx="572.1" cy="440.7" r="1.6"/><circle cx="435.1" cy="395.5" r="1.5"/><circle cx="542.3" cy="456" r="1.5"/></g><g stroke="#f7cc2f"><circle cx="406.8" cy="418.6" r="1.6"/><circle cx="454.9" cy="415.5" r="1.2"/><circle cx="422.4" cy="419.5" r="2"/><circle cx="428.9" cy="416.4" r="1.3"/><circle cx="465.8" cy="419.2" r="1.7"/><circle cx="413.6" cy="409.1" r="1.2"/><circle cx="490.4" cy="421.8" r="1.7"/><circle cx="502.3" cy="418.9" r="2.1"/><circle cx="475.1" cy="409.6" r="1.2"/><circle cx="469" cy="412.9" r="1.2"/><circle cx="474" cy="416.9" r="1.3"/><circle cx="534.2" cy="440.6" r="3.6"/><circle cx="543.2" cy="438.2" r="1.3"/><circle cx="562.6" cy="443.1" r="2.7"/></g><g stroke="#f05e23"><circle cx="434.1" cy="421.1" r="2.4"/><circle cx="443.1" cy="417.2" r="1.5"/><circle cx="413.1" cy="414.7" r="1.2"/><circle cx="431.1" cy="423.6" r="1.3"/><circle cx="514" cy="425.7" r="1.2"/><circle cx="482.8" cy="422.3" r="1.8"/><circle cx="470.1" cy="419.6" r="1.2"/><circle cx="490.6" cy="412.3" r="1.2"/><circle cx="558.2" cy="437.4" r="1.2"/><circle cx="527.6" cy="438.8" r="1.5"/><circle cx="523.6" cy="420.6" r="2.1"/><circle cx="454" cy="389.7" r="2.2"/></g><g stroke="#f0e84c"><circle cx="421.4" cy="419.5" r="2.5"/><circle cx="441.1" cy="406.8" r="2.2"/><circle cx="504" cy="447" r="1.4"/><circle cx="566.9" cy="445" r="1.7"/><circle cx="579.2" cy="455.2" r="1.2"/></g><g stroke="#f7a821"><circle cx="420.3" cy="422.2" r="1.4"/><circle cx="433.7" cy="412.2" r="1.7"/><circle cx="446.4" cy="414.7" r="1.3"/><circle cx="418.4" cy="420.2" r="1.2"/><circle cx="408.3" cy="413.9" r="1.5"/><circle cx="422" cy="416.5" r="1.5"/><circle cx="457.1" cy="410.5" r="1.6"/><circle cx="468.1" cy="418.5" r="1.6"/><circle cx="436.1" cy="411.5" r="1.2"/><circle cx="471.7" cy="421.9" r="1.5"/><circle cx="511" cy="435.9" r="2.2"/><circle cx="475.8" cy="430.9" r="1.4"/><circle cx="488.6" cy="418.3" r="1.5"/><circle cx="516.1" cy="442.2" r="1.5"/><circle cx="500.7" cy="449.2" r="2.3"/><circle cx="514.8" cy="439.4" r="1.5"/><circle cx="530.7" cy="434.7" r="1.3"/><circle cx="517.7" cy="434" r="1.2"/><circle cx="453.5" cy="403.8" r="1.2"/></g><g stroke="#ec4a26"><circle cx="423.4" cy="411.9" r="1.4"/><circle cx="418.4" cy="419.6" r="1.3"/><circle cx="439.6" cy="417.6" r="2"/><circle cx="449.9" cy="417.4" r="1.6"/><circle cx="497.7" cy="421.3" r="1.4"/><circle cx="465.1" cy="415.8" r="1.9"/><circle cx="514.3" cy="429.5" r="1.8"/><circle cx="539.4" cy="442.8" r="1.2"/><circle cx="539.9" cy="448.8" r="2"/></g><g stroke="#f7cc2f"><circle cx="420.7" cy="413.6" r="1.4"/><circle cx="467.9" cy="409.2" r="1.4"/><circle cx="418.2" cy="414.5" r="1.2"/><circle cx="411.9" cy="410.3" r="1.5"/><circle cx="416.5" cy="417.2" r="1.6"/><circle cx="410.2" cy="416.8" r="1.3"/><circle cx="453.2" cy="405.1" r="1.6"/><circle cx="423.8" cy="418.7" r="3"/><circle cx="408.3" cy="415.3" r="1.6"/><circle cx="465.6" cy="417.3" r="1.7"/><circle cx="434.1" cy="426" r="1.3"/><circle cx="468.8" cy="417.9" r="1.6"/><circle cx="454.7" cy="405.6" r="1.9"/><circle cx="469.1" cy="417.2" r="2.6"/><circle cx="507.9" cy="436.4" r="1.3"/><circle cx="472" cy="415.4" r="1.6"/><circle cx="491.4" cy="424.3" r="1.6"/><circle cx="514.5" cy="430.1" r="1.5"/><circle cx="484.1" cy="413" r="1.2"/><circle cx="519.6" cy="434.7" r="1.5"/><circle cx="536" cy="434.8" r="1.6"/><circle cx="575.9" cy="445.8" r="1.5"/></g><g stroke="#2a5fae"><circle cx="449" cy="397.4" r="1.4"/></g><g stroke="#e5222a"><circle cx="562.3" cy="446" r="1.7"/><circle cx="557.7" cy="447.6" r="1.9"/><circle cx="593.7" cy="454.9" r="2"/></g><g stroke="#f0e84c"><circle cx="420.1" cy="416.7" r="1.6"/><circle cx="421.2" cy="415.1" r="1.6"/><circle cx="432.1" cy="410.8" r="1.5"/><circle cx="437.2" cy="421.2" r="1.4"/><circle cx="455.9" cy="411" r="1.4"/><circle cx="467.2" cy="402.6" r="1.3"/><circle cx="428.8" cy="416.3" r="1.7"/><circle cx="411.6" cy="417.4" r="1.3"/><circle cx="451.6" cy="424" r="1.3"/><circle cx="465.6" cy="416.2" r="1.7"/><circle cx="468.3" cy="418" r="1.6"/><circle cx="469" cy="410.4" r="1.2"/><circle cx="483.6" cy="414.5" r="1.3"/><circle cx="518.4" cy="422.9" r="1.2"/><circle cx="474.9" cy="418.4" r="1.4"/><circle cx="513.5" cy="436.6" r="1.8"/><circle cx="491.3" cy="423.8" r="1.3"/><circle cx="515.9" cy="428.3" r="1.2"/><circle cx="533.9" cy="438.7" r="1.7"/><circle cx="519.3" cy="439" r="1.2"/></g><g stroke="#ec4a26"><circle cx="453.5" cy="418" r="1.5"/><circle cx="407.1" cy="420.1" r="1.2"/><circle cx="440.2" cy="409.7" r="1.4"/><circle cx="463.9" cy="418.5" r="1.9"/><circle cx="490.1" cy="423.8" r="1.2"/><circle cx="494.6" cy="414.7" r="1.9"/><circle cx="503.7" cy="420.3" r="1.7"/><circle cx="484.8" cy="419" r="1.5"/><circle cx="506.3" cy="426.6" r="1.8"/><circle cx="537.8" cy="434.8" r="1.3"/><circle cx="532.7" cy="440" r="1.3"/><circle cx="532.1" cy="432.9" r="1.5"/><circle cx="594.9" cy="455.2" r="1.7"/><circle cx="546.8" cy="445.2" r="1.7"/><circle cx="593.3" cy="450.7" r="1.5"/><circle cx="464.9" cy="387.2" r="2.8"/></g><g stroke="#2a6fc0"><circle cx="467" cy="408" r="1.7"/><circle cx="432.8" cy="404.2" r="1.8"/><circle cx="498.4" cy="416.7" r="2.1"/></g><g stroke="#f7961f"><circle cx="422" cy="413.6" r="1.5"/><circle cx="422.7" cy="405.9" r="2.5"/><circle cx="420.5" cy="421.7" r="1.4"/><circle cx="410.3" cy="412.6" r="1.4"/><circle cx="440.8" cy="416.6" r="1.7"/><circle cx="444.5" cy="413.5" r="1.3"/><circle cx="449.4" cy="412.7" r="1.4"/><circle cx="411.6" cy="422.5" r="1.2"/><circle cx="450.3" cy="416.2" r="1.3"/><circle cx="435.4" cy="414.8" r="2"/><circle cx="466.9" cy="414.7" r="1.3"/><circle cx="421.3" cy="410.9" r="1.7"/><circle cx="408.1" cy="418.7" r="1.8"/><circle cx="445" cy="408.6" r="1.2"/><circle cx="517.4" cy="443.9" r="1.6"/><circle cx="502.5" cy="427.7" r="1.8"/><circle cx="492.2" cy="417.3" r="1.7"/><circle cx="545.1" cy="440.5" r="1.3"/><circle cx="551.2" cy="442.6" r="1.5"/><circle cx="532" cy="438.8" r="2.4"/><circle cx="521.2" cy="431.4" r="1.4"/><circle cx="489.2" cy="425.7" r="1.3"/><circle cx="514.7" cy="423.4" r="1.3"/><circle cx="461.7" cy="399.8" r="1.8"/><circle cx="439.9" cy="459.5" r="1.8"/></g><g stroke="#f7a821"><circle cx="404.2" cy="408.5" r="2.2"/><circle cx="417.7" cy="413.2" r="1.7"/><circle cx="452.8" cy="421.2" r="2.2"/><circle cx="433.9" cy="415.7" r="2.3"/><circle cx="467.4" cy="419.1" r="1.2"/><circle cx="420" cy="413.3" r="1.5"/><circle cx="444.1" cy="420.3" r="2.6"/><circle cx="430.5" cy="412.8" r="1.4"/><circle cx="463.7" cy="415.7" r="2.8"/><circle cx="444.3" cy="418.2" r="2.3"/><circle cx="507.5" cy="438.8" r="2.5"/><circle cx="490.9" cy="414.9" r="1.8"/><circle cx="485.2" cy="417.5" r="1.5"/><circle cx="506.4" cy="429.5" r="1.5"/><circle cx="497" cy="423.7" r="1.4"/><circle cx="482.5" cy="416.8" r="1.2"/><circle cx="519.6" cy="436.6" r="1.2"/><circle cx="531.6" cy="437.4" r="1.4"/><circle cx="511" cy="426.3" r="1.4"/><circle cx="509.4" cy="436.9" r="1.2"/><circle cx="563.2" cy="443.6" r="1.6"/><circle cx="596.2" cy="441.7" r="1.2"/><circle cx="587.1" cy="453.3" r="1.2"/><circle cx="583" cy="453.7" r="2.1"/><circle cx="480.7" cy="412.2" r="1.5"/><circle cx="463.4" cy="428.2" r="2"/></g><g stroke="#e8352a"><circle cx="403.7" cy="417.8" r="1.9"/><circle cx="507.6" cy="420.2" r="1.8"/><circle cx="602.9" cy="452.4" r="1.7"/><circle cx="467.3" cy="404.6" r="2.1"/><circle cx="598.1" cy="460.7" r="1.9"/></g><g stroke="#f7ba28"><circle cx="458.3" cy="414.7" r="1.4"/><circle cx="459" cy="417.3" r="1.7"/><circle cx="468.6" cy="423.1" r="1.2"/><circle cx="487.7" cy="409.6" r="1.3"/><circle cx="469.8" cy="431" r="1.8"/><circle cx="493.7" cy="418.2" r="1.7"/><circle cx="484.5" cy="418" r="1.4"/><circle cx="473.5" cy="417.6" r="2.1"/><circle cx="516.7" cy="437" r="1.9"/><circle cx="528.3" cy="440.1" r="1.2"/><circle cx="600.4" cy="447.9" r="1.4"/><circle cx="587.7" cy="448.9" r="1.7"/><circle cx="448" cy="418.8" r="3.4"/><circle cx="478.4" cy="444.2" r="1.9"/><circle cx="607.3" cy="459" r="2.9"/></g><g stroke="#f05e23"><circle cx="412.4" cy="424" r="1.6"/><circle cx="462.4" cy="421.1" r="1.3"/><circle cx="407.4" cy="416.9" r="2.9"/><circle cx="503.1" cy="427.5" r="1.4"/><circle cx="478.9" cy="421" r="1.3"/><circle cx="516.3" cy="428.2" r="1.9"/><circle cx="462.3" cy="418.8" r="1.8"/><circle cx="524.5" cy="430.6" r="2.2"/><circle cx="554.6" cy="441.6" r="1.7"/><circle cx="481.2" cy="420.8" r="1.6"/></g><g stroke="#f5dc38"><circle cx="413.9" cy="414" r="1.9"/><circle cx="458" cy="411.8" r="1.2"/><circle cx="406.1" cy="416.9" r="1.4"/><circle cx="461.9" cy="413.8" r="2.4"/><circle cx="423.7" cy="408.3" r="1.3"/><circle cx="441.8" cy="408.5" r="1.4"/><circle cx="443" cy="406.7" r="1.4"/><circle cx="450.2" cy="405.6" r="3.2"/><circle cx="425.5" cy="415.3" r="2.1"/><circle cx="420.4" cy="417.1" r="1.7"/><circle cx="419.3" cy="414.8" r="1.7"/><circle cx="456.5" cy="418.9" r="2"/><circle cx="514" cy="437" r="2.1"/><circle cx="493.1" cy="407.9" r="1.8"/><circle cx="510.3" cy="429.4" r="1.9"/><circle cx="507.4" cy="428.4" r="1.7"/><circle cx="520" cy="443.1" r="1.2"/><circle cx="531.4" cy="432.6" r="1.8"/><circle cx="509.5" cy="430.9" r="2.1"/><circle cx="427.8" cy="466.6" r="1.3"/></g><g stroke="#f58520"><circle cx="440.5" cy="416.6" r="1.2"/><circle cx="436.2" cy="423.7" r="2.5"/><circle cx="438.1" cy="419.1" r="1.3"/><circle cx="434.6" cy="409" r="1.3"/><circle cx="448.6" cy="426.4" r="2.3"/><circle cx="440" cy="414.7" r="2.6"/><circle cx="463.5" cy="415.5" r="1.4"/><circle cx="447.8" cy="406.7" r="1.4"/><circle cx="424.3" cy="419.9" r="2.4"/><circle cx="439.7" cy="418.1" r="1.4"/><circle cx="442" cy="419.5" r="1.2"/><circle cx="481.6" cy="415.8" r="2.3"/><circle cx="514.3" cy="420.7" r="1.5"/><circle cx="493.3" cy="422" r="1.2"/><circle cx="470.5" cy="424.2" r="1.4"/><circle cx="467.8" cy="424.7" r="3"/><circle cx="507.5" cy="429.6" r="1.5"/><circle cx="548.5" cy="447.5" r="1.2"/><circle cx="559.8" cy="445.1" r="1.5"/><circle cx="603.9" cy="463.1" r="1.7"/><circle cx="575.7" cy="479" r="1.5"/></g><g stroke="#2b67b8"><circle cx="470.7" cy="399.8" r="1.9"/><circle cx="462.4" cy="416.3" r="1.4"/><circle cx="405.2" cy="425.1" r="1.9"/><circle cx="421.4" cy="427.1" r="1.8"/><circle cx="512.7" cy="446.1" r="1.9"/><circle cx="437" cy="434.1" r="1.7"/><circle cx="497.8" cy="433.6" r="1.2"/><circle cx="506.2" cy="437.5" r="1.8"/></g><g stroke="#f37321"><circle cx="408.8" cy="409.4" r="1.7"/><circle cx="405.6" cy="413.6" r="1.5"/><circle cx="439.8" cy="405.9" r="1.6"/><circle cx="444.8" cy="419.6" r="1.5"/><circle cx="466.2" cy="428.8" r="1.3"/><circle cx="424.1" cy="422.8" r="1.2"/><circle cx="439.3" cy="412.1" r="2"/><circle cx="411.9" cy="420.6" r="1.8"/><circle cx="495.6" cy="422.3" r="1.3"/><circle cx="472.7" cy="408.7" r="1.5"/><circle cx="473.8" cy="414.9" r="1.2"/><circle cx="534.3" cy="442.4" r="1.4"/><circle cx="540.2" cy="445" r="2.1"/><circle cx="582.8" cy="447.8" r="1.2"/><circle cx="422.3" cy="386.4" r="1.5"/><circle cx="407.6" cy="413.6" r="1.5"/><circle cx="525.6" cy="429.5" r="1.2"/><circle cx="446.2" cy="456.2" r="3.5"/></g><g stroke="#f7ba28"><circle cx="410.9" cy="416" r="1.6"/><circle cx="408.6" cy="410.5" r="2.2"/><circle cx="423.7" cy="421.1" r="1.6"/><circle cx="456.9" cy="412.9" r="1.3"/><circle cx="414.1" cy="412.2" r="2.2"/><circle cx="415.8" cy="417.1" r="1.7"/><circle cx="460.2" cy="417.9" r="1.7"/><circle cx="440.1" cy="414.9" r="1.2"/><circle cx="447.6" cy="423.9" r="1.5"/><circle cx="406.1" cy="409" r="1.9"/><circle cx="416.8" cy="418.5" r="2.5"/><circle cx="415.8" cy="416.4" r="2.7"/><circle cx="416.1" cy="420.9" r="1.2"/><circle cx="467.8" cy="422.8" r="1.4"/><circle cx="417.3" cy="406.4" r="3.3"/><circle cx="441.6" cy="414.3" r="1.6"/><circle cx="438.7" cy="420.7" r="1.9"/><circle cx="516.8" cy="427.7" r="3.4"/><circle cx="488.9" cy="421.3" r="2"/><circle cx="474.5" cy="425.7" r="1.7"/><circle cx="499.9" cy="422.9" r="1.6"/><circle cx="463.4" cy="426.6" r="1.7"/><circle cx="512.4" cy="427.9" r="1.3"/><circle cx="538.9" cy="438.7" r="1.2"/><circle cx="556.6" cy="444" r="1.8"/><circle cx="572.7" cy="444.7" r="1.2"/><circle cx="593.1" cy="449.8" r="2"/></g><g stroke="#e8352a"><circle cx="405.4" cy="417.6" r="1.2"/><circle cx="475.3" cy="412.1" r="1.5"/><circle cx="440.5" cy="425.2" r="1.3"/><circle cx="502.4" cy="417.4" r="1.3"/><circle cx="485.2" cy="383.9" r="1.2"/><circle cx="408.7" cy="400.7" r="2.5"/><circle cx="434.9" cy="394.6" r="1.3"/></g><g stroke="#2b67b8"><circle cx="474.1" cy="406.1" r="1.7"/><circle cx="491.5" cy="431.5" r="2"/><circle cx="414.2" cy="421.3" r="1.4"/><circle cx="451.2" cy="423.3" r="1.9"/><circle cx="508" cy="438" r="3.2"/><circle cx="516.4" cy="442.4" r="1.4"/><circle cx="484.2" cy="431" r="1.4"/><circle cx="485.9" cy="430.6" r="1.6"/><circle cx="490" cy="431.2" r="1.6"/></g><g stroke="#f05e23"><circle cx="432.6" cy="412.4" r="1.5"/><circle cx="417.6" cy="416.2" r="1.7"/><circle cx="463.7" cy="418.2" r="1.4"/><circle cx="467.6" cy="423.6" r="1.3"/><circle cx="542.4" cy="441.2" r="1.7"/><circle cx="553.3" cy="446" r="1.3"/></g><g stroke="#2a6fc0"><circle cx="447.8" cy="405.5" r="1.2"/><circle cx="497.8" cy="411" r="1.3"/></g><g stroke="#f0e84c"><circle cx="401.5" cy="421.3" r="1.5"/><circle cx="406.9" cy="420.1" r="1.3"/><circle cx="417.1" cy="412.5" r="1.3"/><circle cx="460.7" cy="423.2" r="1.6"/><circle cx="440.3" cy="422.7" r="1.4"/><circle cx="462.8" cy="423.2" r="1.9"/><circle cx="450.8" cy="420" r="1.2"/><circle cx="435.1" cy="429.6" r="1.3"/><circle cx="413.8" cy="414.4" r="1.4"/><circle cx="460.7" cy="425.8" r="2.2"/><circle cx="434.3" cy="422.2" r="1.4"/><circle cx="429.3" cy="415.7" r="1.4"/><circle cx="433.4" cy="407.8" r="1.2"/><circle cx="459.4" cy="417.8" r="1.4"/><circle cx="418.7" cy="420.2" r="2.1"/><circle cx="460.5" cy="412.7" r="1.3"/><circle cx="442.6" cy="413.2" r="2.2"/><circle cx="440.7" cy="418.9" r="2.8"/><circle cx="410.7" cy="413.1" r="1.3"/><circle cx="478.6" cy="427.5" r="1.6"/><circle cx="501.7" cy="420.4" r="2.2"/><circle cx="517" cy="441.5" r="1.4"/><circle cx="477.3" cy="415.7" r="1.4"/><circle cx="475.1" cy="424.8" r="1.7"/><circle cx="497.4" cy="421.2" r="1.6"/><circle cx="531.9" cy="434" r="1.4"/><circle cx="534.8" cy="444.4" r="1.6"/><circle cx="530.8" cy="437.1" r="3"/><circle cx="566.8" cy="442.6" r="1.5"/><circle cx="433.2" cy="393.4" r="1.4"/></g><g stroke="#ec4a26"><circle cx="399.8" cy="423.8" r="1.4"/><circle cx="483.9" cy="407.3" r="1.6"/><circle cx="541.3" cy="437.2" r="2.3"/><circle cx="536" cy="441.9" r="1.2"/></g><g stroke="#f7a821"><circle cx="436.6" cy="417.2" r="1.2"/><circle cx="455.5" cy="423.9" r="1.5"/><circle cx="443.7" cy="412.9" r="1.4"/><circle cx="418.5" cy="417.2" r="1.5"/><circle cx="418.3" cy="424.6" r="1.5"/><circle cx="450.5" cy="412.3" r="1.7"/><circle cx="468.1" cy="415.3" r="1.2"/><circle cx="519.1" cy="434.8" r="1.5"/><circle cx="505.4" cy="420.9" r="1.7"/><circle cx="466.2" cy="415.8" r="2.1"/><circle cx="513.4" cy="429.5" r="3.7"/><circle cx="533.5" cy="438" r="1.2"/><circle cx="521.5" cy="432.2" r="1.5"/><circle cx="520" cy="435" r="1.4"/><circle cx="584.3" cy="451.2" r="1.2"/><circle cx="565" cy="438.2" r="1.7"/><circle cx="573.4" cy="448" r="1.5"/><circle cx="601.1" cy="453.4" r="1.3"/><circle cx="430.8" cy="398.6" r="1.5"/><circle cx="494.3" cy="407.7" r="2.5"/><circle cx="616.5" cy="452.2" r="2.5"/></g><g stroke="#f7961f"><circle cx="408.1" cy="411.3" r="1.4"/><circle cx="407.2" cy="412.9" r="1.2"/><circle cx="408.6" cy="410.8" r="1.3"/><circle cx="432.7" cy="420.2" r="1.2"/><circle cx="449.1" cy="415.6" r="3.3"/><circle cx="419.2" cy="420.2" r="1.8"/><circle cx="430.5" cy="410" r="1.8"/><circle cx="509.5" cy="428.7" r="1.4"/><circle cx="482.5" cy="420.6" r="1.4"/><circle cx="503.4" cy="428.7" r="1.4"/><circle cx="477.1" cy="426.3" r="1.2"/><circle cx="491.8" cy="416" r="2.3"/><circle cx="471.6" cy="423.6" r="1.3"/><circle cx="499.1" cy="423.9" r="2"/><circle cx="505.4" cy="416.9" r="2"/><circle cx="467.7" cy="410.6" r="1.5"/></g><g stroke="#2a5fae"><circle cx="481.4" cy="402.5" r="1.7"/><circle cx="434.8" cy="407.2" r="1.6"/></g><g stroke="#f7cc2f"><circle cx="405.2" cy="422.2" r="1.8"/><circle cx="413.6" cy="409.1" r="1.6"/><circle cx="465.9" cy="409.5" r="2"/><circle cx="419.1" cy="413.2" r="1.3"/><circle cx="424.9" cy="413.9" r="1.5"/><circle cx="434.1" cy="409.7" r="2.2"/><circle cx="440.2" cy="413.5" r="1.2"/><circle cx="414.2" cy="403.4" r="1.2"/><circle cx="453.2" cy="416.8" r="1.4"/><circle cx="407.3" cy="408.9" r="1.6"/><circle cx="437.5" cy="413.7" r="1.2"/><circle cx="457.1" cy="416.2" r="2.1"/><circle cx="427.5" cy="412.1" r="2.1"/><circle cx="434.9" cy="418.1" r="1.4"/><circle cx="468.4" cy="415.2" r="1.2"/><circle cx="502.1" cy="430.8" r="1.8"/><circle cx="503.3" cy="417.8" r="1.5"/><circle cx="485" cy="422.6" r="1.8"/><circle cx="555" cy="446.8" r="1.4"/><circle cx="558.2" cy="439.5" r="1.3"/><circle cx="592.6" cy="447.5" r="1.8"/><circle cx="597.1" cy="453.1" r="2.4"/><circle cx="574.7" cy="451.7" r="1.6"/><circle cx="451" cy="426.8" r="2.1"/><circle cx="531.9" cy="432.7" r="1.8"/></g><g stroke="#f5dc38"><circle cx="401.8" cy="422.5" r="1.7"/><circle cx="415.1" cy="410.1" r="1.8"/><circle cx="419.9" cy="412.3" r="2.6"/><circle cx="418" cy="411" r="3"/><circle cx="459.2" cy="409.1" r="2"/><circle cx="416.1" cy="411" r="1.2"/><circle cx="416.2" cy="408.1" r="1.4"/><circle cx="466.7" cy="409.6" r="1.6"/><circle cx="423" cy="412.2" r="1.4"/><circle cx="439.8" cy="413.8" r="1.7"/><circle cx="421.2" cy="415.1" r="1.4"/><circle cx="433.1" cy="421" r="1.3"/><circle cx="492.7" cy="432.1" r="1.3"/><circle cx="479.7" cy="423.9" r="2.5"/><circle cx="494.7" cy="426.9" r="1.5"/><circle cx="485.6" cy="428.7" r="1.9"/><circle cx="529.7" cy="445.4" r="1.9"/><circle cx="544.3" cy="444.8" r="1.4"/><circle cx="555.6" cy="447.2" r="1.2"/><circle cx="588.2" cy="449.3" r="1.2"/><circle cx="573.8" cy="448.7" r="3.1"/><circle cx="565.2" cy="447.8" r="1.6"/><circle cx="587.3" cy="448.4" r="1.7"/><circle cx="566.7" cy="453.2" r="2.8"/></g><g stroke="#f37321"><circle cx="423.9" cy="410.1" r="1.3"/><circle cx="403.6" cy="416.4" r="1.3"/><circle cx="441.1" cy="413.8" r="1.3"/><circle cx="462.6" cy="411.6" r="1.4"/><circle cx="447.2" cy="417.3" r="1.4"/><circle cx="447.7" cy="407.6" r="1.7"/><circle cx="408.6" cy="413.7" r="1.3"/><circle cx="446.1" cy="411.7" r="1.3"/><circle cx="478.9" cy="431.8" r="1.8"/><circle cx="475.7" cy="411.9" r="1.2"/><circle cx="490.5" cy="415.7" r="1.5"/><circle cx="470.3" cy="404.5" r="1.6"/><circle cx="495.8" cy="423.4" r="1.7"/><circle cx="517.5" cy="421.7" r="1.6"/><circle cx="528.1" cy="435.4" r="1.5"/><circle cx="553.4" cy="439.4" r="1.5"/><circle cx="438.2" cy="401.2" r="1.4"/></g><g stroke="#f58520"><circle cx="411.2" cy="406.1" r="1.2"/><circle cx="431.2" cy="413.3" r="1.2"/><circle cx="433.9" cy="417.7" r="1.8"/><circle cx="467" cy="424.3" r="2"/><circle cx="439.7" cy="424.1" r="1.5"/><circle cx="427" cy="403.8" r="2.5"/><circle cx="431.5" cy="408.9" r="1.7"/><circle cx="433.4" cy="423.8" r="1.4"/><circle cx="461.1" cy="409.6" r="1.5"/><circle cx="406.5" cy="418" r="1.8"/><circle cx="417.4" cy="413.6" r="1.2"/><circle cx="482.2" cy="420.9" r="1.4"/><circle cx="463.9" cy="415" r="1.2"/><circle cx="474.4" cy="410.2" r="2.1"/><circle cx="514" cy="427.2" r="1.2"/><circle cx="436.1" cy="389.4" r="1.3"/><circle cx="408.4" cy="416.7" r="2.8"/><circle cx="467.1" cy="414" r="1.8"/><circle cx="448.2" cy="407.7" r="2.6"/><circle cx="467.4" cy="412.2" r="1.9"/><circle cx="430" cy="412.9" r="1.3"/><circle cx="499.6" cy="435.9" r="1.4"/><circle cx="476.7" cy="420.6" r="1.9"/><circle cx="484.3" cy="423.8" r="1.3"/><circle cx="538.2" cy="437.1" r="1.2"/><circle cx="548.5" cy="444.2" r="1.6"/><circle cx="527.3" cy="441.5" r="1.4"/><circle cx="531.5" cy="436.7" r="2.9"/><circle cx="512.2" cy="431.2" r="1.6"/><circle cx="556" cy="445.6" r="1.5"/><circle cx="558.5" cy="444.5" r="1.8"/></g><g stroke="#f7ba28"><circle cx="401.1" cy="412" r="1.8"/><circle cx="417.6" cy="411.2" r="1.3"/><circle cx="419.2" cy="408.2" r="3.2"/><circle cx="415.3" cy="417.9" r="1.5"/><circle cx="422.7" cy="412.3" r="1.3"/><circle cx="464.5" cy="421.4" r="1.8"/><circle cx="461.6" cy="414.7" r="1.6"/><circle cx="451.2" cy="413.1" r="1.5"/><circle cx="459.6" cy="418" r="1.8"/><circle cx="443.9" cy="423.7" r="3"/><circle cx="414.2" cy="417.3" r="1.5"/><circle cx="439" cy="417.8" r="1.8"/><circle cx="444.7" cy="415" r="2.7"/><circle cx="500.6" cy="432" r="1.2"/><circle cx="480.7" cy="419.2" r="1.3"/><circle cx="491.9" cy="417.2" r="1.2"/><circle cx="499.3" cy="422.6" r="1.4"/><circle cx="500" cy="424" r="1.4"/><circle cx="491" cy="420" r="2.8"/><circle cx="475" cy="420.6" r="1.4"/><circle cx="493" cy="423" r="1.7"/><circle cx="499.4" cy="444.5" r="1.4"/><circle cx="538.1" cy="440.9" r="1.2"/><circle cx="513" cy="421.7" r="1.8"/><circle cx="520.1" cy="428.2" r="1.4"/><circle cx="598.9" cy="449.9" r="1.7"/><circle cx="429.8" cy="410.4" r="1.4"/><circle cx="451.9" cy="396" r="1.3"/></g><g stroke="#f37321"><circle cx="418.2" cy="415.8" r="1.3"/><circle cx="417.3" cy="416.1" r="1.2"/><circle cx="441.2" cy="416.3" r="2.8"/><circle cx="438.5" cy="419.2" r="1.2"/><circle cx="407.8" cy="398.9" r="1.9"/><circle cx="440.7" cy="408.7" r="1.5"/><circle cx="464.7" cy="425.1" r="1.4"/><circle cx="481.5" cy="429.5" r="1.7"/><circle cx="492.4" cy="424.8" r="1.4"/><circle cx="504.2" cy="421.4" r="1.9"/><circle cx="468.4" cy="420.5" r="1.2"/><circle cx="474.8" cy="418.6" r="1.3"/><circle cx="508.3" cy="425.7" r="1.4"/><circle cx="529" cy="439.3" r="1.5"/><circle cx="582.7" cy="445" r="1.8"/><circle cx="517.3" cy="417.7" r="1.7"/></g><g stroke="#e5222a"><circle cx="497.4" cy="426.3" r="1.9"/><circle cx="412.4" cy="405.6" r="2.2"/></g><g stroke="#ec4a26"><circle cx="406.7" cy="424.3" r="2.2"/><circle cx="468.5" cy="434.2" r="1.5"/><circle cx="431" cy="419.3" r="2.2"/><circle cx="460.6" cy="419.5" r="1.2"/><circle cx="513.1" cy="429" r="1.4"/><circle cx="556.1" cy="441.4" r="1.3"/><circle cx="549.4" cy="436.2" r="1.5"/><circle cx="400" cy="400.2" r="1.5"/></g><g stroke="#f0e84c"><circle cx="425" cy="414.8" r="1.2"/><circle cx="440.2" cy="425.1" r="2"/><circle cx="419.6" cy="417.7" r="1.6"/><circle cx="467.9" cy="403.4" r="1.3"/><circle cx="451.9" cy="416.4" r="1.5"/><circle cx="415.6" cy="409.2" r="2.1"/><circle cx="434.1" cy="411.3" r="1.3"/><circle cx="432.6" cy="417.9" r="1.2"/><circle cx="437.5" cy="420.9" r="1.3"/><circle cx="446.9" cy="414.5" r="1.2"/><circle cx="439.1" cy="411.9" r="2.6"/><circle cx="455.6" cy="423" r="1.3"/><circle cx="446" cy="416.4" r="1.4"/><circle cx="462.6" cy="408.4" r="1.3"/><circle cx="453" cy="411.3" r="2.1"/><circle cx="415.3" cy="422.5" r="1.8"/><circle cx="461.8" cy="413.3" r="1.6"/><circle cx="481.9" cy="416.2" r="1.9"/><circle cx="507.4" cy="424.6" r="1.4"/><circle cx="481.9" cy="418.9" r="1.9"/><circle cx="510.2" cy="428.3" r="1.4"/><circle cx="468" cy="424.1" r="1.3"/><circle cx="517.1" cy="433.5" r="1.2"/><circle cx="504.9" cy="421.5" r="1.3"/><circle cx="549.7" cy="442" r="1.6"/><circle cx="545.8" cy="442.7" r="2"/><circle cx="505.3" cy="432.3" r="1.7"/><circle cx="574.6" cy="439.7" r="1.4"/><circle cx="566.9" cy="446.4" r="1.6"/></g><g stroke="#f05e23"><circle cx="410.2" cy="411.3" r="1.3"/><circle cx="436.5" cy="413.6" r="1.3"/><circle cx="465.8" cy="424.5" r="1.3"/><circle cx="493.1" cy="418.4" r="2.9"/><circle cx="495.1" cy="423.8" r="1.7"/><circle cx="542.8" cy="437.9" r="1.2"/><circle cx="543.4" cy="440.8" r="1.4"/><circle cx="515.9" cy="395.6" r="1.7"/><circle cx="473.3" cy="451.5" r="1.5"/></g><g stroke="#f5dc38"><circle cx="415.5" cy="421.6" r="1.7"/><circle cx="428.3" cy="415.5" r="1.3"/><circle cx="461.5" cy="417.3" r="1.2"/><circle cx="449.4" cy="420.5" r="1.6"/><circle cx="407.8" cy="415.5" r="2.3"/><circle cx="457.1" cy="413.4" r="1.3"/><circle cx="461.3" cy="423.3" r="1.4"/><circle cx="463.5" cy="413" r="2.2"/><circle cx="433.3" cy="419.7" r="1.5"/><circle cx="414.2" cy="412.3" r="1.3"/><circle cx="464.4" cy="423.6" r="3.5"/><circle cx="431.9" cy="412.5" r="1.5"/><circle cx="430.9" cy="413.7" r="2.3"/><circle cx="419.5" cy="404.2" r="1.4"/><circle cx="421.7" cy="412.4" r="1.6"/><circle cx="435.8" cy="413.7" r="1.8"/><circle cx="477.9" cy="429" r="1.2"/><circle cx="506.3" cy="421.9" r="1.4"/><circle cx="515.3" cy="420" r="2.2"/><circle cx="507.8" cy="437.8" r="1.3"/><circle cx="581.6" cy="450.4" r="2"/><circle cx="500" cy="428.5" r="1.8"/></g><g stroke="#f7cc2f"><circle cx="424.5" cy="409.2" r="1.7"/><circle cx="409.1" cy="412.4" r="1.8"/><circle cx="410.3" cy="415.6" r="1.6"/><circle cx="416.9" cy="419.9" r="1.5"/><circle cx="415.6" cy="423.6" r="1.4"/><circle cx="452.8" cy="413.2" r="1.8"/><circle cx="467.4" cy="407.5" r="1.6"/><circle cx="420.3" cy="415.8" r="1.7"/><circle cx="450.6" cy="418.2" r="1.4"/><circle cx="425.6" cy="411.1" r="2.1"/><circle cx="409.7" cy="409.9" r="1.5"/><circle cx="415.2" cy="417" r="1.2"/><circle cx="463.5" cy="427.1" r="3"/><circle cx="432.2" cy="413.5" r="1.5"/><circle cx="464" cy="422.2" r="1.7"/><circle cx="459.2" cy="411.2" r="1.2"/><circle cx="459.8" cy="416.6" r="1.4"/><circle cx="456.4" cy="414.8" r="1.6"/><circle cx="468.7" cy="406.7" r="1.3"/><circle cx="418.7" cy="416.5" r="1.4"/><circle cx="474.3" cy="414.4" r="1.3"/><circle cx="474.9" cy="409.5" r="1.3"/><circle cx="513.6" cy="423.1" r="1.4"/><circle cx="512.1" cy="433.4" r="1.4"/><circle cx="479" cy="415.5" r="2.5"/><circle cx="587.5" cy="448.8" r="1.6"/><circle cx="570.4" cy="443.2" r="1.4"/><circle cx="564.6" cy="446.1" r="1.2"/><circle cx="503.7" cy="403.8" r="2.5"/><circle cx="449" cy="391.6" r="1.5"/></g><g stroke="#f7a821"><circle cx="406.9" cy="417.7" r="1.5"/><circle cx="410.9" cy="415.8" r="1.2"/><circle cx="420.1" cy="408.3" r="1.5"/><circle cx="417.2" cy="416.4" r="1.6"/><circle cx="466" cy="419.9" r="1.7"/><circle cx="415.8" cy="406.3" r="2.8"/><circle cx="408" cy="413.4" r="1.7"/><circle cx="420.2" cy="417.5" r="1.4"/><circle cx="415.3" cy="421.8" r="1.3"/><circle cx="422.7" cy="413.7" r="3.4"/><circle cx="506.1" cy="428.4" r="2.5"/><circle cx="483.7" cy="419" r="1.5"/><circle cx="463.9" cy="408.4" r="1.5"/><circle cx="478.6" cy="418.3" r="1.2"/><circle cx="531.3" cy="433.5" r="2.8"/><circle cx="601.9" cy="456.5" r="1.7"/><circle cx="549.1" cy="441.6" r="1.8"/><circle cx="583.7" cy="448.7" r="1.4"/><circle cx="465.9" cy="402.3" r="1.6"/><circle cx="452.8" cy="464.8" r="1.8"/></g><g stroke="#e8352a"><circle cx="538.1" cy="436.2" r="1.7"/><circle cx="602.4" cy="448" r="1.2"/><circle cx="409.6" cy="409.3" r="1.6"/><circle cx="428.6" cy="402.4" r="1.4"/></g><g stroke="#f7961f"><circle cx="410.8" cy="420.1" r="1.3"/><circle cx="399.4" cy="411.8" r="1.3"/><circle cx="412.8" cy="419.2" r="1.2"/><circle cx="458.8" cy="419.7" r="1.2"/><circle cx="424.3" cy="415.4" r="1.2"/><circle cx="420.3" cy="429.1" r="1.9"/><circle cx="428.5" cy="419.2" r="1.3"/><circle cx="468.6" cy="412" r="1.8"/><circle cx="447.9" cy="420.9" r="1.4"/><circle cx="484.1" cy="413.7" r="1.2"/><circle cx="515.3" cy="431.6" r="1.7"/><circle cx="474.1" cy="415.2" r="1.3"/><circle cx="509.1" cy="432.2" r="1.2"/><circle cx="558.1" cy="447.2" r="1.2"/><circle cx="574" cy="445.4" r="2.8"/><circle cx="577.8" cy="445.9" r="1.2"/></g><g stroke="#f37321"><circle cx="415.7" cy="419.5" r="1.5"/><circle cx="436.5" cy="419.6" r="1.8"/><circle cx="484.5" cy="415.5" r="1.4"/><circle cx="416.4" cy="410.3" r="2.9"/></g><g stroke="#f7cc2f"><circle cx="411.2" cy="418.2" r="2.1"/><circle cx="460.9" cy="411.7" r="1.7"/><circle cx="423.2" cy="419.5" r="1.4"/><circle cx="422.3" cy="410.1" r="1.5"/><circle cx="441" cy="413.9" r="1.5"/><circle cx="444.5" cy="412.6" r="1.4"/><circle cx="457.4" cy="422.6" r="1.7"/><circle cx="421.9" cy="417.6" r="1.6"/><circle cx="450.5" cy="423.6" r="1.6"/><circle cx="425.7" cy="410.7" r="1.5"/><circle cx="446.3" cy="420" r="1.6"/><circle cx="452.1" cy="416.3" r="1.3"/><circle cx="440.6" cy="413" r="2"/><circle cx="436.8" cy="415.9" r="1.8"/><circle cx="477.6" cy="412.3" r="1.8"/><circle cx="464" cy="401.8" r="1.9"/><circle cx="514" cy="428.5" r="1.4"/><circle cx="488.5" cy="407.4" r="1.4"/><circle cx="505.7" cy="427.9" r="1.4"/><circle cx="515.7" cy="431.9" r="1.3"/><circle cx="462.3" cy="416.2" r="1.6"/><circle cx="491.6" cy="422" r="1.2"/><circle cx="467.2" cy="417.3" r="1.7"/><circle cx="511.1" cy="435.6" r="1.2"/><circle cx="555.2" cy="445.2" r="1.4"/></g><g stroke="#f5dc38"><circle cx="409.6" cy="413.8" r="2.1"/><circle cx="424.1" cy="416" r="1.7"/><circle cx="443" cy="413.3" r="1.4"/><circle cx="407" cy="406.6" r="1.2"/><circle cx="458" cy="412.7" r="1.6"/><circle cx="427.1" cy="414.2" r="1.7"/><circle cx="468.9" cy="412.2" r="1.4"/><circle cx="456.5" cy="411.4" r="1.4"/><circle cx="408.2" cy="424.1" r="2.8"/><circle cx="408.5" cy="408.9" r="2"/><circle cx="453.3" cy="420.1" r="1.4"/><circle cx="445.2" cy="408.1" r="1.2"/><circle cx="449.2" cy="412.6" r="1.3"/><circle cx="406.3" cy="414.2" r="1.7"/><circle cx="429.4" cy="418.5" r="2.2"/><circle cx="420.8" cy="418.2" r="2"/><circle cx="432.3" cy="411.1" r="2.7"/><circle cx="479.5" cy="410.9" r="3.1"/><circle cx="508.3" cy="427.6" r="1.7"/><circle cx="465.6" cy="420.5" r="2"/><circle cx="471.3" cy="417.1" r="1.6"/><circle cx="519.6" cy="419.2" r="1.3"/><circle cx="515.7" cy="427.5" r="1.3"/><circle cx="482.9" cy="426.8" r="1.5"/><circle cx="483.1" cy="407.8" r="1.6"/><circle cx="543" cy="438.7" r="1.6"/><circle cx="545.9" cy="442.6" r="2.4"/><circle cx="524.2" cy="391.5" r="1.5"/><circle cx="432" cy="401.4" r="2"/></g><g stroke="#f7ba28"><circle cx="412.1" cy="420.7" r="1.3"/><circle cx="437.9" cy="412.4" r="1.5"/><circle cx="420.9" cy="418.9" r="1.2"/><circle cx="417.3" cy="408.3" r="1.7"/><circle cx="421.8" cy="413.9" r="1.4"/><circle cx="416.4" cy="430.3" r="1.5"/><circle cx="466.3" cy="417.8" r="1.5"/><circle cx="415.5" cy="419.7" r="1.2"/><circle cx="434" cy="413.2" r="1.3"/><circle cx="420.7" cy="414.6" r="1.5"/><circle cx="489.3" cy="417.5" r="1.5"/><circle cx="468.3" cy="418.8" r="3"/><circle cx="474.3" cy="419" r="2.1"/><circle cx="465.8" cy="437.8" r="1.4"/><circle cx="475.9" cy="421.5" r="1.4"/><circle cx="482.5" cy="424.4" r="1.9"/><circle cx="509.2" cy="438.7" r="1.6"/><circle cx="489.5" cy="422.1" r="2.1"/><circle cx="517.8" cy="434.1" r="1.2"/><circle cx="509.8" cy="423.9" r="1.5"/><circle cx="435.6" cy="374.5" r="2.2"/><circle cx="432.1" cy="426.7" r="2.1"/><circle cx="490.4" cy="415.6" r="1.2"/><circle cx="427.7" cy="462.8" r="1.4"/><circle cx="598.9" cy="462.3" r="2.1"/></g><g stroke="#f0e84c"><circle cx="402.5" cy="413.5" r="1.2"/><circle cx="419.4" cy="416.1" r="1.4"/><circle cx="423.5" cy="414.3" r="1.2"/><circle cx="429.8" cy="422.1" r="1.4"/><circle cx="425.2" cy="418.4" r="1.6"/><circle cx="443.5" cy="421.7" r="1.8"/><circle cx="446.1" cy="412" r="1.5"/><circle cx="446.8" cy="411.1" r="1.4"/><circle cx="415.7" cy="408.8" r="1.6"/><circle cx="452.1" cy="415.8" r="1.3"/><circle cx="416.8" cy="423.7" r="1.6"/><circle cx="411.5" cy="411.1" r="1.4"/><circle cx="456.3" cy="402" r="2.7"/><circle cx="516.4" cy="433" r="1.4"/><circle cx="509.2" cy="438" r="1.8"/><circle cx="478.2" cy="428.8" r="1.5"/><circle cx="519.5" cy="427.3" r="1.2"/><circle cx="506.8" cy="430" r="1.3"/><circle cx="476.6" cy="412.3" r="2.1"/><circle cx="463.6" cy="423.1" r="1.3"/><circle cx="516" cy="425" r="2.2"/><circle cx="501.4" cy="435.4" r="2.2"/><circle cx="462" cy="419.8" r="1.5"/><circle cx="476.3" cy="412.9" r="2.1"/><circle cx="536.4" cy="433.7" r="1.5"/><circle cx="513.1" cy="430.2" r="1.4"/><circle cx="542.7" cy="435.9" r="1.8"/><circle cx="506.7" cy="434.3" r="1.5"/><circle cx="537.4" cy="440.9" r="1.3"/><circle cx="548.9" cy="440.8" r="1.3"/></g><g stroke="#e8352a"><circle cx="585.6" cy="454.9" r="1.2"/></g><g stroke="#f58520"><circle cx="438.1" cy="420.7" r="1.2"/><circle cx="447.7" cy="412.6" r="1.5"/><circle cx="442.7" cy="413.5" r="1.3"/><circle cx="468.9" cy="414.6" r="1.3"/><circle cx="507.9" cy="435.7" r="1.2"/><circle cx="594.9" cy="448.4" r="1.9"/><circle cx="595" cy="453.3" r="2"/></g><g stroke="#f7a821"><circle cx="412.1" cy="421.1" r="1.4"/><circle cx="425.7" cy="415.3" r="1.3"/><circle cx="429.7" cy="417.9" r="1.4"/><circle cx="406.6" cy="410.2" r="2.1"/><circle cx="444.9" cy="412.8" r="1.6"/><circle cx="455.6" cy="404.5" r="2.3"/><circle cx="450.1" cy="415.3" r="2.7"/><circle cx="508.2" cy="441.6" r="1.9"/><circle cx="508.2" cy="429.7" r="1.2"/><circle cx="469.9" cy="407.9" r="2.1"/><circle cx="483.6" cy="412" r="1.2"/><circle cx="470.5" cy="414.9" r="3.3"/><circle cx="494.5" cy="430.4" r="1.4"/><circle cx="535.6" cy="436.2" r="2.4"/><circle cx="576.1" cy="450.9" r="1.5"/><circle cx="593.6" cy="445" r="1.6"/><circle cx="571.1" cy="446.6" r="2.9"/><circle cx="579.3" cy="440.5" r="1.2"/><circle cx="398.2" cy="407.2" r="1.6"/><circle cx="489.8" cy="401.1" r="2.1"/><circle cx="414.4" cy="391.3" r="2.3"/><circle cx="412.4" cy="404.7" r="1.2"/><circle cx="569.9" cy="446.5" r="1.8"/></g><g stroke="#ec4a26"><circle cx="513.1" cy="435.3" r="1.5"/></g><g stroke="#f05e23"><circle cx="416.3" cy="405.3" r="1.5"/><circle cx="449.1" cy="414.3" r="1.3"/><circle cx="447.7" cy="424.6" r="1.3"/><circle cx="488" cy="418.1" r="1.2"/></g><g stroke="#f7961f"><circle cx="404.8" cy="407" r="1.3"/><circle cx="422.2" cy="413.1" r="2"/><circle cx="460.3" cy="419.9" r="1.7"/><circle cx="522.9" cy="448.6" r="1.7"/><circle cx="592.4" cy="448.7" r="1.4"/><circle cx="410.7" cy="404.4" r="1.8"/><circle cx="553.2" cy="464.7" r="3.4"/><circle cx="600.8" cy="461.8" r="1.9"/></g><g stroke="#f7cc2f"><circle cx="412.6" cy="412.6" r="1.3"/><circle cx="407.5" cy="412.4" r="1.7"/><circle cx="417.9" cy="419" r="1.5"/><circle cx="411.6" cy="413.6" r="1.8"/><circle cx="458.6" cy="416.7" r="1.3"/><circle cx="431.1" cy="421.9" r="1.6"/><circle cx="420.1" cy="406.4" r="1.7"/><circle cx="418.1" cy="413.9" r="1.9"/><circle cx="423.9" cy="411.2" r="1.4"/><circle cx="440.5" cy="414.8" r="1.6"/><circle cx="450.6" cy="419.4" r="1.3"/><circle cx="426.8" cy="413.3" r="1.4"/><circle cx="448.5" cy="411.3" r="1.8"/><circle cx="425.3" cy="407.4" r="1.2"/><circle cx="469.1" cy="423.8" r="1.2"/><circle cx="437.1" cy="411.5" r="1.5"/><circle cx="447.2" cy="410.2" r="1.7"/><circle cx="424.3" cy="410.5" r="1.5"/><circle cx="452.6" cy="406.4" r="2.9"/><circle cx="464.5" cy="419" r="2.1"/><circle cx="415.1" cy="411.4" r="1.5"/><circle cx="467.1" cy="417.3" r="2.5"/><circle cx="442.1" cy="417.5" r="1.4"/><circle cx="476.2" cy="420" r="1.4"/><circle cx="463.5" cy="409.4" r="1.4"/><circle cx="488.6" cy="424.1" r="1.9"/><circle cx="471.4" cy="420.5" r="2.2"/><circle cx="481" cy="422.8" r="2.2"/><circle cx="471.2" cy="422.1" r="1.8"/><circle cx="506.6" cy="421.1" r="1.5"/><circle cx="492.5" cy="422.2" r="1.2"/><circle cx="490.4" cy="431" r="1.9"/><circle cx="473.9" cy="426.6" r="1.3"/><circle cx="492.7" cy="426.1" r="1.8"/><circle cx="469.2" cy="417.2" r="1.2"/><circle cx="467.4" cy="414.6" r="1.3"/><circle cx="483" cy="418.9" r="1.3"/><circle cx="472.6" cy="417.8" r="2.2"/><circle cx="545.9" cy="440" r="1.8"/><circle cx="510.9" cy="431.2" r="1.2"/><circle cx="523.5" cy="433.8" r="1.7"/><circle cx="533.7" cy="435.1" r="1.7"/><circle cx="506" cy="436.3" r="1.7"/><circle cx="538.5" cy="437.7" r="2.1"/><circle cx="520.6" cy="427.5" r="1.4"/><circle cx="546.1" cy="438.8" r="1.7"/><circle cx="527" cy="429.1" r="1.2"/><circle cx="583.4" cy="446.6" r="1.7"/><circle cx="556.3" cy="441" r="3.4"/><circle cx="550.9" cy="436.8" r="1.4"/><circle cx="528.7" cy="458.6" r="1.7"/><circle cx="587" cy="444.2" r="3.2"/></g><g stroke="#f7ba28"><circle cx="444.8" cy="411.2" r="1.9"/><circle cx="467.5" cy="418.2" r="1.5"/><circle cx="441.6" cy="421.2" r="1.4"/><circle cx="420" cy="408.5" r="1.3"/><circle cx="449.8" cy="418" r="1.5"/><circle cx="438.1" cy="425.9" r="1.7"/><circle cx="441.2" cy="410.9" r="1.4"/><circle cx="414.5" cy="406.9" r="3.1"/><circle cx="412.4" cy="416.4" r="1.2"/><circle cx="421.9" cy="413.2" r="1.3"/><circle cx="465.9" cy="422" r="1.7"/><circle cx="463.5" cy="426.3" r="1.2"/><circle cx="417" cy="418.4" r="1.4"/><circle cx="421.6" cy="414.4" r="1.7"/><circle cx="417.6" cy="421.8" r="1.2"/><circle cx="446.6" cy="414.5" r="2.1"/><circle cx="468.8" cy="418.1" r="1.8"/><circle cx="467.3" cy="418.4" r="2.1"/><circle cx="489" cy="415.5" r="1.7"/><circle cx="508" cy="424.1" r="3.1"/><circle cx="517.3" cy="438" r="1.2"/><circle cx="514.6" cy="427.1" r="1.5"/><circle cx="470.5" cy="400.8" r="2"/><circle cx="518.3" cy="440.1" r="1.2"/><circle cx="464.9" cy="421.5" r="1.5"/><circle cx="500.3" cy="416.6" r="1.4"/><circle cx="508.1" cy="439.6" r="1.5"/><circle cx="506" cy="427.7" r="1.3"/><circle cx="521.9" cy="435" r="1.3"/><circle cx="548.4" cy="443.9" r="3.5"/><circle cx="549.8" cy="447.7" r="1.6"/><circle cx="594.6" cy="450" r="1.5"/><circle cx="591.8" cy="448.7" r="1.4"/><circle cx="467.8" cy="385.1" r="1.5"/><circle cx="464.4" cy="444.5" r="1.6"/></g><g stroke="#ec4a26"><circle cx="411.7" cy="425.2" r="1.6"/><circle cx="501.6" cy="414.9" r="1.3"/><circle cx="516.9" cy="425.4" r="1.2"/><circle cx="515.3" cy="440.5" r="1.3"/></g><g stroke="#e5222a"><circle cx="590.1" cy="454.9" r="1.9"/></g><g stroke="#f0e84c"><circle cx="413.5" cy="430.5" r="1.9"/><circle cx="421.9" cy="424.4" r="1.5"/><circle cx="423.1" cy="412.6" r="1.6"/><circle cx="406.1" cy="409.4" r="2.9"/><circle cx="412.2" cy="415.9" r="1.3"/><circle cx="407.8" cy="422.3" r="2.8"/><circle cx="422.5" cy="423.7" r="1.4"/><circle cx="425.9" cy="420.8" r="1.8"/><circle cx="430.1" cy="415" r="1.7"/><circle cx="413.6" cy="413.2" r="1.5"/><circle cx="449.6" cy="400.6" r="1.3"/><circle cx="463.6" cy="402.9" r="1.7"/><circle cx="450.5" cy="418.3" r="1.6"/><circle cx="417.3" cy="416.3" r="1.5"/><circle cx="440.5" cy="415.8" r="2"/><circle cx="432.5" cy="418.1" r="2.3"/><circle cx="453.6" cy="424.8" r="1.3"/><circle cx="423.5" cy="413.4" r="1.7"/><circle cx="433.4" cy="423" r="2.1"/><circle cx="425.2" cy="413.7" r="1.9"/><circle cx="450.4" cy="424.8" r="1.6"/><circle cx="443.7" cy="413.9" r="1.3"/><circle cx="413.4" cy="408.5" r="1.2"/><circle cx="435.7" cy="411.3" r="1.5"/><circle cx="422.2" cy="414.7" r="2.2"/><circle cx="433.7" cy="418.1" r="1.7"/><circle cx="442.8" cy="413.4" r="1.4"/><circle cx="412.3" cy="412.6" r="1.8"/><circle cx="434.4" cy="408.3" r="1.6"/><circle cx="427.3" cy="402.9" r="1.3"/><circle cx="433.7" cy="411.3" r="1.5"/><circle cx="416" cy="408.5" r="1.9"/><circle cx="445.6" cy="414.9" r="1.4"/><circle cx="428.4" cy="417.2" r="1.8"/><circle cx="435.8" cy="422" r="1.5"/><circle cx="410.5" cy="422.8" r="1.4"/><circle cx="468.8" cy="418.9" r="1.6"/><circle cx="422.6" cy="414.2" r="1.2"/><circle cx="412.2" cy="416.6" r="2.8"/><circle cx="459.7" cy="400.6" r="1.7"/><circle cx="431.5" cy="408.3" r="1.3"/><circle cx="452.8" cy="421.7" r="2.2"/><circle cx="441.8" cy="418.1" r="1.9"/><circle cx="472.4" cy="411.2" r="1.6"/><circle cx="512.3" cy="434.9" r="1.3"/><circle cx="463.9" cy="417.2" r="1.4"/><circle cx="490.4" cy="424.8" r="1.7"/><circle cx="490" cy="438.3" r="1.6"/><circle cx="516.3" cy="439.6" r="1.5"/><circle cx="491.5" cy="424.8" r="1.5"/><circle cx="468.5" cy="411.3" r="1.4"/><circle cx="514.8" cy="427.8" r="1.3"/><circle cx="490.7" cy="427.6" r="1.6"/><circle cx="515.8" cy="441.1" r="1.2"/><circle cx="481.5" cy="416.9" r="1.6"/><circle cx="513.9" cy="423.8" r="2.3"/><circle cx="479.7" cy="402.3" r="1.4"/><circle cx="479.4" cy="409.3" r="1.2"/><circle cx="507.3" cy="424.8" r="1.2"/><circle cx="483.4" cy="417.8" r="1.5"/><circle cx="506.2" cy="427.7" r="1.3"/><circle cx="476.2" cy="420.7" r="1.3"/><circle cx="485" cy="412.6" r="1.5"/><circle cx="460.4" cy="407.7" r="1.3"/><circle cx="487.6" cy="418.3" r="1.7"/><circle cx="492.6" cy="424.1" r="1.6"/><circle cx="517.8" cy="426.5" r="1.4"/><circle cx="469.4" cy="409.8" r="1.7"/><circle cx="496.2" cy="415.3" r="1.5"/><circle cx="479" cy="418.3" r="2.6"/><circle cx="484.1" cy="412" r="2.2"/><circle cx="517.1" cy="438.9" r="3.1"/><circle cx="478.6" cy="414.5" r="1.2"/><circle cx="540.1" cy="441.4" r="1.3"/><circle cx="552.8" cy="448.3" r="1.4"/><circle cx="544.3" cy="442.9" r="1.3"/><circle cx="555.6" cy="443" r="1.8"/><circle cx="535.2" cy="433.6" r="1.5"/><circle cx="510" cy="431.7" r="1.3"/><circle cx="548.6" cy="439.7" r="1.2"/><circle cx="506.5" cy="435.5" r="1.4"/><circle cx="521.7" cy="436.7" r="1.3"/><circle cx="505.3" cy="419.6" r="2"/><circle cx="531.6" cy="440.8" r="2.1"/><circle cx="505.8" cy="425.3" r="2"/><circle cx="515.8" cy="437.8" r="1.7"/><circle cx="594.1" cy="451.6" r="1.2"/><circle cx="595.7" cy="454.1" r="1.9"/><circle cx="550.1" cy="441.3" r="2.2"/><circle cx="587.6" cy="446.5" r="1.8"/><circle cx="602.5" cy="455.6" r="1.2"/><circle cx="602.6" cy="449.8" r="1.5"/><circle cx="441.3" cy="425.2" r="1.3"/><circle cx="424.3" cy="403.5" r="1.4"/><circle cx="426" cy="440.1" r="1.6"/><circle cx="552.5" cy="454.4" r="1.4"/></g><g stroke="#f58520"><circle cx="399.1" cy="416.8" r="1.7"/><circle cx="441.9" cy="423.3" r="1.2"/><circle cx="446.9" cy="418.7" r="1.3"/><circle cx="518.4" cy="440.6" r="1.4"/><circle cx="513" cy="430.8" r="1.6"/><circle cx="492.1" cy="417.8" r="1.2"/><circle cx="468.5" cy="413.6" r="2.1"/><circle cx="480" cy="415.3" r="1.6"/><circle cx="541" cy="447.9" r="1.9"/><circle cx="509.4" cy="421.8" r="1.3"/><circle cx="581.4" cy="448.9" r="2"/></g><g stroke="#f5dc38"><circle cx="404.4" cy="411.3" r="2"/><circle cx="399.6" cy="415.4" r="1.9"/><circle cx="400" cy="413.9" r="1.4"/><circle cx="423.1" cy="416.9" r="1.6"/><circle cx="409.6" cy="415.2" r="1.8"/><circle cx="410.3" cy="420.3" r="1.2"/><circle cx="453.2" cy="424.5" r="1.3"/><circle cx="419.6" cy="412.8" r="1.7"/><circle cx="457.6" cy="422.3" r="1.3"/><circle cx="451.8" cy="410.1" r="1.7"/><circle cx="422.2" cy="412.1" r="1.4"/><circle cx="445" cy="420.6" r="1.2"/><circle cx="426" cy="424" r="1.6"/><circle cx="408.3" cy="407.1" r="1.3"/><circle cx="464.8" cy="416.1" r="2.1"/><circle cx="414" cy="421.1" r="2.5"/><circle cx="406.1" cy="413.5" r="1.4"/><circle cx="417.1" cy="414.7" r="2.4"/><circle cx="452.2" cy="413.1" r="1.9"/><circle cx="460.9" cy="415.7" r="2"/><circle cx="451.8" cy="410.1" r="1.6"/><circle cx="455.2" cy="429.8" r="1.2"/><circle cx="469.6" cy="406.1" r="1.3"/><circle cx="422.6" cy="405.6" r="1.2"/><circle cx="456.5" cy="417.4" r="1.7"/><circle cx="427.5" cy="422.1" r="1.2"/><circle cx="455.3" cy="427.3" r="1.7"/><circle cx="432.4" cy="420.4" r="1.7"/><circle cx="449.4" cy="413.1" r="1.5"/><circle cx="427.2" cy="417.3" r="1.6"/><circle cx="407.4" cy="420.7" r="1.5"/><circle cx="459.5" cy="418.4" r="1.4"/><circle cx="414.2" cy="412.6" r="1.3"/><circle cx="505" cy="437" r="2.8"/><circle cx="487.8" cy="413.4" r="1.4"/><circle cx="465.2" cy="426.8" r="2.5"/><circle cx="487" cy="417.2" r="1.7"/><circle cx="517.3" cy="435.4" r="1.6"/><circle cx="492.6" cy="424.2" r="1.3"/><circle cx="470.9" cy="411.8" r="1.4"/><circle cx="469.8" cy="412" r="1.4"/><circle cx="467.3" cy="409.1" r="2.1"/><circle cx="494.6" cy="432" r="1.8"/><circle cx="474.1" cy="416.2" r="1.5"/><circle cx="487.2" cy="417.5" r="1.3"/><circle cx="472.8" cy="413.4" r="1.3"/><circle cx="507.7" cy="429.9" r="1.7"/><circle cx="473.2" cy="413.1" r="1.5"/><circle cx="480.6" cy="415.4" r="1.6"/><circle cx="540.4" cy="435.3" r="1.7"/><circle cx="549" cy="446.7" r="1.8"/><circle cx="513" cy="435.9" r="2.6"/><circle cx="553.5" cy="447.2" r="1.9"/><circle cx="535.3" cy="441.2" r="1.3"/><circle cx="547.2" cy="441.8" r="1.5"/><circle cx="509.9" cy="436.3" r="1.2"/><circle cx="579.8" cy="447" r="2.3"/><circle cx="594.2" cy="453.2" r="1.6"/><circle cx="556.5" cy="447.3" r="1.8"/><circle cx="595.4" cy="449.1" r="1.6"/><circle cx="590.8" cy="454.9" r="1.9"/><circle cx="602.6" cy="450.3" r="1.8"/><circle cx="488" cy="398" r="1.6"/><circle cx="401.6" cy="462.4" r="1.4"/><circle cx="578.1" cy="470.1" r="1.7"/><circle cx="611.3" cy="449.6" r="2.3"/></g><g stroke="#f37321"><circle cx="465.5" cy="419" r="1.7"/><circle cx="422.3" cy="419.4" r="2.5"/><circle cx="434.2" cy="415.1" r="2.1"/><circle cx="475.3" cy="420" r="1.2"/><circle cx="504.9" cy="423.1" r="1.4"/><circle cx="563.5" cy="449.7" r="1.2"/><circle cx="440.5" cy="417.1" r="1.4"/><circle cx="447.2" cy="388" r="1.2"/></g><g stroke="#f7a821"><circle cx="430.1" cy="410.7" r="1.9"/><circle cx="464.3" cy="404.7" r="1.2"/><circle cx="451.7" cy="405.6" r="2"/><circle cx="422" cy="425" r="1.8"/><circle cx="436.4" cy="407.9" r="1.4"/><circle cx="417.3" cy="414" r="1.5"/><circle cx="413.1" cy="418.6" r="1.7"/><circle cx="457.1" cy="419.5" r="2.3"/><circle cx="454" cy="421.7" r="1.6"/><circle cx="429" cy="408.8" r="1.7"/><circle cx="440.5" cy="413.9" r="1.2"/><circle cx="457.3" cy="419.6" r="2.7"/><circle cx="457.7" cy="420.7" r="3.3"/><circle cx="460.9" cy="421.5" r="1.5"/><circle cx="501.5" cy="430.9" r="1.4"/><circle cx="497.4" cy="424.6" r="1.3"/><circle cx="468.2" cy="414.1" r="1.9"/><circle cx="462.6" cy="408.3" r="1.4"/><circle cx="483.9" cy="415.6" r="1.7"/><circle cx="509.3" cy="432.9" r="1.6"/><circle cx="546.7" cy="440.6" r="1.4"/><circle cx="535.3" cy="431.8" r="1.5"/><circle cx="426.9" cy="437" r="1.7"/></g><g stroke="#f7961f"><circle cx="461.1" cy="416.6" r="1.5"/><circle cx="438.2" cy="412.6" r="1.3"/><circle cx="438.6" cy="409" r="1.4"/><circle cx="430.1" cy="421.8" r="1.8"/><circle cx="447.5" cy="412.7" r="1.5"/><circle cx="442.6" cy="427" r="1.4"/><circle cx="451.8" cy="425.7" r="1.4"/><circle cx="470.7" cy="414.3" r="1.4"/><circle cx="488.8" cy="412.6" r="1.2"/><circle cx="462.6" cy="416.9" r="2.5"/><circle cx="489" cy="413.4" r="1.2"/><circle cx="476" cy="411.8" r="1.3"/><circle cx="544.3" cy="443.9" r="1.5"/><circle cx="528.6" cy="429.4" r="2"/><circle cx="532" cy="433" r="2.7"/><circle cx="542.1" cy="439.5" r="1.3"/><circle cx="532.9" cy="434.1" r="1.2"/><circle cx="511.4" cy="438.2" r="1.5"/><circle cx="599.5" cy="451.8" r="1.3"/><circle cx="519.6" cy="432.4" r="1.3"/></g></g>
<path d="M444.8 383.4L446.5 387.9L451.3 388.1L447.5 391.1L448.8 395.7L444.8 393.1L440.8 395.7L442.1 391.1L438.3 388.1L443.1 387.9Z" fill="#14306a" stroke="#0a0a14" stroke-width="1"/>
<g>
<linearGradient id="g0" x1="0" x2="1"><stop offset="0" stop-color="#b2dde6"/><stop offset="1" stop-color="#8fd0e0"/></linearGradient>
<rect x="356.3" y="490.9" width="17.7" height="8.3" fill="url(#g0)" stroke="#222" stroke-width="0.8"/>
<linearGradient id="g1" x1="0" x2="1"><stop offset="0" stop-color="#98d3e1"/><stop offset="1" stop-color="#6cc3de"/></linearGradient>
<rect x="374" y="490.9" width="17.7" height="8.3" fill="url(#g1)" stroke="#222" stroke-width="0.8"/>
<linearGradient id="g2" x1="0" x2="1"><stop offset="0" stop-color="#7cc9e0"/><stop offset="1" stop-color="#4ab5e2"/></linearGradient>
<rect x="391.7" y="490.9" width="17.7" height="8.3" fill="url(#g2)" stroke="#222" stroke-width="0.8"/>
<linearGradient id="g3" x1="0" x2="1"><stop offset="0" stop-color="#4cbbea"/><stop offset="1" stop-color="#2f9ae0"/></linearGradient>
<rect x="409.5" y="490.9" width="17.7" height="8.3" fill="url(#g3)" stroke="#222" stroke-width="0.8"/>
<linearGradient id="g4" x1="0" x2="1"><stop offset="0" stop-color="#3f8fd2"/><stop offset="1" stop-color="#2957a6"/></linearGradient>
<rect x="427.2" y="490.9" width="17.7" height="8.3" fill="url(#g4)" stroke="#222" stroke-width="0.8"/>
<linearGradient id="g5" x1="0" x2="1"><stop offset="0" stop-color="#e5222a"/><stop offset="1" stop-color="#f0561f"/></linearGradient>
<rect x="444.9" y="490.9" width="17.7" height="8.3" fill="url(#g5)" stroke="#222" stroke-width="0.8"/>
<linearGradient id="g6" x1="0" x2="1"><stop offset="0" stop-color="#f05c22"/><stop offset="1" stop-color="#f47d20"/></linearGradient>
<rect x="462.6" y="490.9" width="17.7" height="8.3" fill="url(#g6)" stroke="#222" stroke-width="0.8"/>
<linearGradient id="g7" x1="0" x2="1"><stop offset="0" stop-color="#f58420"/><stop offset="1" stop-color="#f7a120"/></linearGradient>
<rect x="480.3" y="490.9" width="17.7" height="8.3" fill="url(#g7)" stroke="#222" stroke-width="0.8"/>
<linearGradient id="g8" x1="0" x2="1"><stop offset="0" stop-color="#f7a823"/><stop offset="1" stop-color="#f7d030"/></linearGradient>
<rect x="498.1" y="490.9" width="17.7" height="8.3" fill="url(#g8)" stroke="#222" stroke-width="0.8"/>
<linearGradient id="g9" x1="0" x2="1"><stop offset="0" stop-color="#f6d836"/><stop offset="1" stop-color="#efe94f"/></linearGradient>
<rect x="515.8" y="490.9" width="17.7" height="8.3" fill="url(#g9)" stroke="#222" stroke-width="0.8"/>
</g>
<text x="441.3" y="484.6" font-size="12.35" text-anchor="middle" fill="#222" >Days relative to mainshock</text>
<text x="370" y="513" font-size="12.1" text-anchor="middle" fill="#222" >−400</text>
<text x="407.4" y="513" font-size="12.1" text-anchor="middle" fill="#222" >−200</text>
<text x="444.8" y="513" font-size="12.1" text-anchor="middle" fill="#222" >0</text>
<text x="461.8" y="513" font-size="12.1" text-anchor="middle" fill="#222" >2</text>
<text x="479.6" y="513" font-size="12.1" text-anchor="middle" fill="#222" >4</text>
<text x="497.3" y="513" font-size="12.1" text-anchor="middle" fill="#222" >6</text>
<text x="515" y="513" font-size="12.1" text-anchor="middle" fill="#222" >8</text>
<text x="530.6" y="513" font-size="12.1" text-anchor="middle" fill="#222" >10</text>
<rect x="349.5" y="378.5" width="288" height="144" fill="none" stroke="#222" stroke-width="1"/>
<path d="M420.9 378.5v4M420.9 522.5v-4M565 378.5v4M565 522.5v-4M349.5 392.9h4.5M637.5 392.9h-5M349.5 407.3h4.5M637.5 407.3h-5M349.5 421.7h4.5M637.5 421.7h-5M349.5 436.1h4.5M637.5 436.1h-5M349.5 450.5h4.5M637.5 450.5h-5M349.5 464.9h4.5M637.5 464.9h-5M349.5 479.3h4.5M637.5 479.3h-5M349.5 493.7h4.5M637.5 493.7h-5M349.5 508.1h4.5M637.5 508.1h-5" stroke="#222" stroke-width="1" fill="none"/>
<text x="641.6" y="384.1" font-size="13.5" text-anchor="start" fill="#222" >0</text>
<text x="641.6" y="412.5" font-size="13.5" text-anchor="start" fill="#222" >20</text>
<text x="641.6" y="440.9" font-size="13.5" text-anchor="start" fill="#222" >40</text>
<text x="641.6" y="469.4" font-size="13.5" text-anchor="start" fill="#222" >60</text>
<text x="641.6" y="497.8" font-size="13.5" text-anchor="start" fill="#222" >80</text>
<text x="641.6" y="526.2" font-size="13.5" text-anchor="start" fill="#222" >100</text>
<text x="418" y="536.3" font-size="13.5" text-anchor="middle" fill="#222" >−71</text>
<text x="562" y="536.3" font-size="13.5" text-anchor="middle" fill="#222" >−70</text>
<text x="491.2" y="557.3" font-size="14.7" text-anchor="middle" fill="#222" >Longitude</text>
<text transform="translate(672.3 458) rotate(90)" font-size="13.8" text-anchor="middle" fill="#222">Depth (km)</text>
</g>
</svg></body></html>
